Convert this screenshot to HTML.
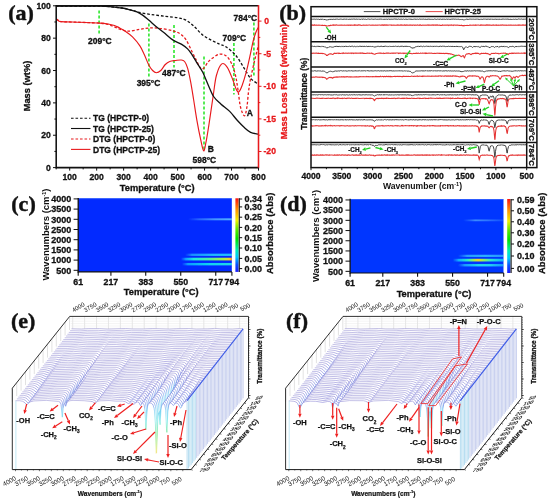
<!DOCTYPE html>
<html><head><meta charset="utf-8"><title>TG FTIR figure</title>
<style>html,body{margin:0;padding:0;background:#fff;}svg{display:block;}</style></head>
<body>
<svg width="550" height="503" viewBox="0 0 550 503" font-family="'Liberation Sans', Arial, sans-serif">
<defs><linearGradient id="cbar" x1="0" y1="1" x2="0" y2="0"><stop offset="0" stop-color="#1a1aff"/><stop offset="0.1" stop-color="#0a50ff"/><stop offset="0.2" stop-color="#00c8ff"/><stop offset="0.3" stop-color="#00f0b0"/><stop offset="0.45" stop-color="#00e000"/><stop offset="0.58" stop-color="#60e800"/><stop offset="0.7" stop-color="#f0f000"/><stop offset="0.85" stop-color="#ff9000"/><stop offset="1" stop-color="#ff1010"/></linearGradient><filter id="vblur" x="-0.05" y="-2" width="1.1" height="5"><feGaussianBlur stdDeviation="0.5 0.75"/></filter><linearGradient id="c3000" x1="0" y1="0" x2="1" y2="0"><stop offset="0" stop-color="#3a8aff" stop-opacity="0"/><stop offset="0.25" stop-color="#3a8aff" stop-opacity="0.6"/><stop offset="0.6" stop-color="#4aa0ff" stop-opacity="0.9"/><stop offset="1" stop-color="#50b0ff" stop-opacity="1"/></linearGradient><linearGradient id="c1260" x1="0" y1="0" x2="1" y2="0"><stop offset="0" stop-color="#2090ff" stop-opacity="0"/><stop offset="0.15" stop-color="#20a8ff" stop-opacity="0.8"/><stop offset="0.6" stop-color="#20b8ff" stop-opacity="1"/><stop offset="1" stop-color="#20c0ff" stop-opacity="1"/></linearGradient><linearGradient id="c1050" x1="0" y1="0" x2="1" y2="0"><stop offset="0" stop-color="#20a0ff" stop-opacity="0"/><stop offset="0.1" stop-color="#10c0ff" stop-opacity="0.8"/><stop offset="0.25" stop-color="#20e8e0" stop-opacity="1"/><stop offset="0.55" stop-color="#50f0a0" stop-opacity="1"/><stop offset="0.85" stop-color="#b0f040" stop-opacity="1"/><stop offset="0.95" stop-color="#f0d030" stop-opacity="1"/><stop offset="1" stop-color="#ff8020" stop-opacity="1"/></linearGradient><linearGradient id="c800" x1="0" y1="0" x2="1" y2="0"><stop offset="0" stop-color="#20a0ff" stop-opacity="0"/><stop offset="0.12" stop-color="#10b8ff" stop-opacity="0.8"/><stop offset="0.5" stop-color="#10d0f0" stop-opacity="1"/><stop offset="1" stop-color="#20d8e8" stop-opacity="1"/></linearGradient><linearGradient id="d3000" x1="0" y1="0" x2="1" y2="0"><stop offset="0" stop-color="#3a8aff" stop-opacity="0"/><stop offset="0.3" stop-color="#4aa0ff" stop-opacity="0.8"/><stop offset="0.6" stop-color="#4aa0ff" stop-opacity="0.6"/><stop offset="1" stop-color="#3a8aff" stop-opacity="0.3"/></linearGradient><linearGradient id="d1260" x1="0" y1="0" x2="1" y2="0"><stop offset="0" stop-color="#30a0ff" stop-opacity="0"/><stop offset="0.2" stop-color="#30b8ff" stop-opacity="0.8"/><stop offset="0.6" stop-color="#30c0ff" stop-opacity="0.9"/><stop offset="1" stop-color="#30b0ff" stop-opacity="0.8"/></linearGradient><linearGradient id="d1050" x1="0" y1="0" x2="1" y2="0"><stop offset="0" stop-color="#20a0ff" stop-opacity="0"/><stop offset="0.12" stop-color="#10c0ff" stop-opacity="0.9"/><stop offset="0.3" stop-color="#30f0c0" stop-opacity="1"/><stop offset="0.42" stop-color="#a0f050" stop-opacity="1"/><stop offset="0.5" stop-color="#f0d030" stop-opacity="1"/><stop offset="0.58" stop-color="#a0f050" stop-opacity="1"/><stop offset="0.75" stop-color="#30e8d0" stop-opacity="1"/><stop offset="1" stop-color="#10c0ff" stop-opacity="0.9"/></linearGradient><linearGradient id="d800" x1="0" y1="0" x2="1" y2="0"><stop offset="0" stop-color="#30a0ff" stop-opacity="0"/><stop offset="0.15" stop-color="#20b8ff" stop-opacity="0.8"/><stop offset="0.45" stop-color="#20d8f0" stop-opacity="1"/><stop offset="0.7" stop-color="#20d0f0" stop-opacity="1"/><stop offset="1" stop-color="#20b0ff" stop-opacity="0.8"/></linearGradient><linearGradient id="zg" gradientUnits="userSpaceOnUse" x1="0" y1="0" x2="0" y2="69"><stop offset="0" stop-color="#8e88d0"/><stop offset="0.025" stop-color="#6a64cc"/><stop offset="0.07" stop-color="#4a6ae0"/><stop offset="0.14" stop-color="#40b8f0"/><stop offset="0.3" stop-color="#50e0e0"/><stop offset="0.5" stop-color="#40e060"/><stop offset="0.72" stop-color="#e0e040"/><stop offset="0.93" stop-color="#ffa030"/><stop offset="0.975" stop-color="#b4b4e6"/></linearGradient></defs>
<rect width="550" height="503" fill="#fff"/>
<line x1="71" y1="118.2" x2="90.5" y2="118.2" stroke="#111" stroke-width="1.1" stroke-dasharray="2.6,1.9"/>
<line x1="71" y1="128.5" x2="90.5" y2="128.5" stroke="#111" stroke-width="1.1"/>
<line x1="71" y1="139.0" x2="90.5" y2="139.0" stroke="#e8191c" stroke-width="1.1" stroke-dasharray="2.6,1.9"/>
<line x1="71" y1="149.4" x2="90.5" y2="149.4" stroke="#e8191c" stroke-width="1.1"/>
<text x="93.00" y="121.30" font-size="8.5" font-weight="bold" fill="#111" stroke="#111" stroke-width="0.3">TG (HPCTP-0)</text>
<text x="93.00" y="131.60" font-size="8.5" font-weight="bold" fill="#111" stroke="#111" stroke-width="0.3">TG (HPCTP-25)</text>
<text x="93.00" y="142.10" font-size="8.5" font-weight="bold" fill="#111" stroke="#111" stroke-width="0.3">DTG (HPCTP-0)</text>
<text x="93.00" y="152.50" font-size="8.5" font-weight="bold" fill="#111" stroke="#111" stroke-width="0.3">DTG (HPCTP-25)</text>
<line x1="99.1" y1="10.4" x2="99.1" y2="35" stroke="#2ee62e" stroke-width="1.6" stroke-dasharray="3,2"/>
<line x1="148.9" y1="23.6" x2="148.9" y2="77" stroke="#2ee62e" stroke-width="1.6" stroke-dasharray="3,2"/>
<line x1="174" y1="25" x2="174" y2="67.5" stroke="#2ee62e" stroke-width="1.6" stroke-dasharray="3,2"/>
<line x1="204" y1="56.4" x2="204" y2="150.5" stroke="#2ee62e" stroke-width="1.6" stroke-dasharray="3,2"/>
<line x1="233.9" y1="43" x2="233.9" y2="94.5" stroke="#2ee62e" stroke-width="1.6" stroke-dasharray="3,2"/>
<line x1="253.9" y1="22.4" x2="253.9" y2="75.5" stroke="#2ee62e" stroke-width="1.6" stroke-dasharray="3,2"/>
<path d="M56.00,6.10 C63.33,6.12 89.03,5.88 100.00,6.20 C110.97,6.52 116.22,7.22 121.80,8.00 C127.38,8.78 130.58,10.17 133.50,10.90 C136.42,11.63 136.40,11.80 139.30,12.40 C142.20,13.00 146.53,13.85 150.90,14.50 C155.27,15.15 160.98,15.75 165.50,16.30 C170.02,16.85 174.58,17.15 178.00,17.80 C181.42,18.45 183.38,18.83 186.00,20.20 C188.62,21.57 190.93,23.55 193.70,26.00 C196.47,28.45 199.55,32.48 202.60,34.90 C205.65,37.32 209.10,38.93 212.00,40.50 C214.90,42.07 217.68,43.25 220.00,44.30 C222.32,45.35 223.32,45.02 225.90,46.80 C228.48,48.58 232.55,51.58 235.50,55.00 C238.45,58.42 241.10,63.43 243.60,67.30 C246.10,71.17 248.10,75.42 250.50,78.20 C252.90,80.98 256.75,83.03 258.00,84.00" fill="none" stroke="#111" stroke-width="1.3" stroke-dasharray="2.7,1.9"/>
<path d="M56.20,18.90 C56.58,19.18 57.70,20.15 58.50,20.60 C59.30,21.05 57.42,21.32 61.00,21.60 C64.58,21.88 73.58,22.05 80.00,22.30 C86.42,22.55 94.83,22.77 99.50,23.10 C104.17,23.43 105.50,23.67 108.00,24.30 C110.50,24.93 112.33,26.02 114.50,26.90 C116.67,27.78 118.57,28.88 121.00,29.60 C123.43,30.32 125.95,31.25 129.10,31.20 C132.25,31.15 136.60,29.83 139.90,29.30 C143.20,28.77 145.67,28.17 148.90,28.00 C152.13,27.83 155.33,27.85 159.30,28.30 C163.27,28.75 169.22,29.77 172.70,30.70 C176.18,31.63 177.97,32.37 180.20,33.90 C182.43,35.43 184.12,36.92 186.10,39.90 C188.08,42.88 190.35,48.32 192.10,51.80 C193.85,55.28 195.15,58.02 196.60,60.80 C198.05,63.58 199.57,67.30 200.80,68.50 C202.03,69.70 202.80,69.08 204.00,68.00 C205.20,66.92 206.62,63.62 208.00,62.00 C209.38,60.38 210.45,59.58 212.30,58.30 C214.15,57.02 216.83,54.73 219.10,54.30 C221.37,53.87 223.85,54.22 225.90,55.70 C227.95,57.18 229.80,59.90 231.40,63.20 C233.00,66.50 234.40,71.03 235.50,75.50 C236.60,79.97 237.17,84.75 238.00,90.00 C238.83,95.25 239.43,102.68 240.50,107.00 C241.57,111.32 243.33,115.90 244.40,115.90 C245.47,115.90 246.22,110.98 246.90,107.00 C247.58,103.02 247.90,96.67 248.50,92.00 C249.10,87.33 249.48,84.25 250.50,79.00 C251.52,73.75 253.28,66.08 254.60,60.50 C255.92,54.92 257.77,48.00 258.40,45.50" fill="none" stroke="#e8191c" stroke-width="1.3" stroke-dasharray="2.7,1.9"/>
<path d="M56.20,18.90 C56.58,19.18 57.70,20.15 58.50,20.60 C59.30,21.05 57.42,21.32 61.00,21.60 C64.58,21.88 73.58,22.05 80.00,22.30 C86.42,22.55 94.83,22.82 99.50,23.10 C104.17,23.38 105.50,23.60 108.00,24.00 C110.50,24.40 112.67,24.90 114.50,25.50 C116.33,26.10 117.25,26.68 119.00,27.60 C120.75,28.52 122.75,29.45 125.00,31.00 C127.25,32.55 130.02,34.42 132.50,36.90 C134.98,39.38 137.92,42.92 139.90,45.90 C141.88,48.88 142.90,51.57 144.40,54.80 C145.90,58.03 147.53,62.68 148.90,65.30 C150.27,67.92 151.37,69.27 152.60,70.50 C153.83,71.73 154.93,72.70 156.30,72.70 C157.67,72.70 159.30,71.87 160.80,70.50 C162.30,69.13 163.82,66.00 165.30,64.50 C166.78,63.00 167.97,62.17 169.70,61.50 C171.43,60.83 173.83,60.75 175.70,60.50 C177.57,60.25 179.42,59.83 180.90,60.00 C182.38,60.17 183.48,60.13 184.60,61.50 C185.72,62.87 186.60,64.83 187.60,68.20 C188.60,71.57 189.60,76.48 190.60,81.70 C191.60,86.92 192.55,93.07 193.60,99.50 C194.65,105.93 195.72,113.60 196.90,120.30 C198.08,127.00 199.58,134.62 200.70,139.70 C201.82,144.78 202.73,150.30 203.60,150.80 C204.47,151.30 205.02,147.03 205.90,142.70 C206.78,138.37 207.67,132.75 208.90,124.80 C210.13,116.85 212.05,103.22 213.30,95.00 C214.55,86.78 214.98,80.68 216.40,75.50 C217.82,70.32 219.98,65.27 221.80,63.90 C223.62,62.53 225.48,64.70 227.30,67.30 C229.12,69.90 231.20,75.80 232.70,79.50 C234.20,83.20 235.27,87.45 236.30,89.50 C237.33,91.55 237.90,92.55 238.90,91.80 C239.90,91.05 241.05,88.40 242.30,85.00 C243.55,81.60 245.03,76.63 246.40,71.40 C247.77,66.17 249.37,58.67 250.50,53.60 C251.63,48.53 252.28,44.60 253.20,41.00 C254.12,37.40 255.17,34.25 256.00,32.00 C256.83,29.75 257.83,28.25 258.20,27.50" fill="none" stroke="#e8191c" stroke-width="1.15"/>
<path d="M56.00,6.10 C63.33,6.12 89.03,5.88 100.00,6.20 C110.97,6.52 116.80,7.38 121.80,8.00 C126.80,8.62 127.47,9.25 130.00,9.90 C132.53,10.55 134.83,10.98 137.00,11.90 C139.17,12.82 141.00,14.00 143.00,15.40 C145.00,16.80 146.83,18.47 149.00,20.30 C151.17,22.13 153.53,24.37 156.00,26.40 C158.47,28.43 161.02,30.25 163.80,32.50 C166.58,34.75 169.72,37.92 172.70,39.90 C175.68,41.88 179.22,42.90 181.70,44.40 C184.18,45.90 185.87,47.17 187.60,48.90 C189.33,50.63 190.60,52.57 192.10,54.80 C193.60,57.03 194.85,59.43 196.60,62.30 C198.35,65.17 200.67,68.22 202.60,72.00 C204.53,75.78 206.37,80.92 208.20,85.00 C210.03,89.08 211.50,93.33 213.60,96.50 C215.70,99.67 218.12,101.52 220.80,104.00 C223.48,106.48 226.97,108.68 229.70,111.40 C232.43,114.12 234.72,117.57 237.20,120.30 C239.68,123.03 242.37,125.80 244.60,127.80 C246.83,129.80 248.37,131.25 250.60,132.30 C252.83,133.35 256.77,133.80 258.00,134.10" fill="none" stroke="#111" stroke-width="1.3"/>
<text x="99.90" y="43.80" font-size="8.5" font-weight="bold" fill="#111" stroke="#111" stroke-width="0.3" text-anchor="middle">209°C</text>
<text x="148.50" y="85.50" font-size="8.5" font-weight="bold" fill="#111" stroke="#111" stroke-width="0.3" text-anchor="middle">395°C</text>
<text x="173.90" y="75.80" font-size="8.5" font-weight="bold" fill="#111" stroke="#111" stroke-width="0.3" text-anchor="middle">487°C</text>
<text x="204.40" y="163.00" font-size="8.5" font-weight="bold" fill="#111" stroke="#111" stroke-width="0.3" text-anchor="middle">598°C</text>
<text x="234.40" y="40.70" font-size="8.5" font-weight="bold" fill="#111" stroke="#111" stroke-width="0.3" text-anchor="middle">709°C</text>
<text x="245.40" y="21.00" font-size="8.5" font-weight="bold" fill="#111" stroke="#111" stroke-width="0.3" text-anchor="middle">784°C</text>
<text x="249.90" y="115.80" font-size="8.5" font-weight="bold" fill="#111" stroke="#111" stroke-width="0.3" text-anchor="middle">A</text>
<text x="210.70" y="151.60" font-size="8.5" font-weight="bold" fill="#111" stroke="#111" stroke-width="0.3" text-anchor="middle">B</text>
<path d="M258.5,5.8 L56.2,5.8 L56.2,167.6 L258.5,167.6" fill="none" stroke="#111" stroke-width="1.55"/>
<line x1="258.5" y1="5.1" x2="258.5" y2="168.29999999999998" stroke="#e8191c" stroke-width="1.55"/>
<line x1="53.0" y1="167.60" x2="56.2" y2="167.60" stroke="#111" stroke-width="1"/>
<text x="50.80" y="170.70" font-size="8.6" font-weight="bold" fill="#111" stroke="#111" stroke-width="0.3" text-anchor="end">0</text>
<line x1="54.400000000000006" y1="151.42" x2="56.2" y2="151.42" stroke="#111" stroke-width="1"/>
<line x1="53.0" y1="135.24" x2="56.2" y2="135.24" stroke="#111" stroke-width="1"/>
<text x="50.80" y="138.34" font-size="8.6" font-weight="bold" fill="#111" stroke="#111" stroke-width="0.3" text-anchor="end">20</text>
<line x1="54.400000000000006" y1="119.06" x2="56.2" y2="119.06" stroke="#111" stroke-width="1"/>
<line x1="53.0" y1="102.88" x2="56.2" y2="102.88" stroke="#111" stroke-width="1"/>
<text x="50.80" y="105.98" font-size="8.6" font-weight="bold" fill="#111" stroke="#111" stroke-width="0.3" text-anchor="end">40</text>
<line x1="54.400000000000006" y1="86.70" x2="56.2" y2="86.70" stroke="#111" stroke-width="1"/>
<line x1="53.0" y1="70.52" x2="56.2" y2="70.52" stroke="#111" stroke-width="1"/>
<text x="50.80" y="73.62" font-size="8.6" font-weight="bold" fill="#111" stroke="#111" stroke-width="0.3" text-anchor="end">60</text>
<line x1="54.400000000000006" y1="54.34" x2="56.2" y2="54.34" stroke="#111" stroke-width="1"/>
<line x1="53.0" y1="38.16" x2="56.2" y2="38.16" stroke="#111" stroke-width="1"/>
<text x="50.80" y="41.26" font-size="8.6" font-weight="bold" fill="#111" stroke="#111" stroke-width="0.3" text-anchor="end">80</text>
<line x1="54.400000000000006" y1="21.98" x2="56.2" y2="21.98" stroke="#111" stroke-width="1"/>
<line x1="53.0" y1="5.80" x2="56.2" y2="5.80" stroke="#111" stroke-width="1"/>
<text x="50.80" y="8.90" font-size="8.6" font-weight="bold" fill="#111" stroke="#111" stroke-width="0.3" text-anchor="end">100</text>
<line x1="56.20" y1="167.6" x2="56.20" y2="169.4" stroke="#111" stroke-width="1"/>
<line x1="69.69" y1="167.6" x2="69.69" y2="170.6" stroke="#111" stroke-width="1"/>
<text x="69.69" y="180.30" font-size="8.6" font-weight="bold" fill="#111" stroke="#111" stroke-width="0.3" text-anchor="middle">100</text>
<line x1="83.17" y1="167.6" x2="83.17" y2="169.4" stroke="#111" stroke-width="1"/>
<line x1="96.66" y1="167.6" x2="96.66" y2="170.6" stroke="#111" stroke-width="1"/>
<text x="96.66" y="180.30" font-size="8.6" font-weight="bold" fill="#111" stroke="#111" stroke-width="0.3" text-anchor="middle">200</text>
<line x1="110.15" y1="167.6" x2="110.15" y2="169.4" stroke="#111" stroke-width="1"/>
<line x1="123.63" y1="167.6" x2="123.63" y2="170.6" stroke="#111" stroke-width="1"/>
<text x="123.63" y="180.30" font-size="8.6" font-weight="bold" fill="#111" stroke="#111" stroke-width="0.3" text-anchor="middle">300</text>
<line x1="137.12" y1="167.6" x2="137.12" y2="169.4" stroke="#111" stroke-width="1"/>
<line x1="150.61" y1="167.6" x2="150.61" y2="170.6" stroke="#111" stroke-width="1"/>
<text x="150.61" y="180.30" font-size="8.6" font-weight="bold" fill="#111" stroke="#111" stroke-width="0.3" text-anchor="middle">400</text>
<line x1="164.09" y1="167.6" x2="164.09" y2="169.4" stroke="#111" stroke-width="1"/>
<line x1="177.58" y1="167.6" x2="177.58" y2="170.6" stroke="#111" stroke-width="1"/>
<text x="177.58" y="180.30" font-size="8.6" font-weight="bold" fill="#111" stroke="#111" stroke-width="0.3" text-anchor="middle">500</text>
<line x1="191.07" y1="167.6" x2="191.07" y2="169.4" stroke="#111" stroke-width="1"/>
<line x1="204.55" y1="167.6" x2="204.55" y2="170.6" stroke="#111" stroke-width="1"/>
<text x="204.55" y="180.30" font-size="8.6" font-weight="bold" fill="#111" stroke="#111" stroke-width="0.3" text-anchor="middle">600</text>
<line x1="218.04" y1="167.6" x2="218.04" y2="169.4" stroke="#111" stroke-width="1"/>
<line x1="231.53" y1="167.6" x2="231.53" y2="170.6" stroke="#111" stroke-width="1"/>
<text x="231.53" y="180.30" font-size="8.6" font-weight="bold" fill="#111" stroke="#111" stroke-width="0.3" text-anchor="middle">700</text>
<line x1="245.01" y1="167.6" x2="245.01" y2="169.4" stroke="#111" stroke-width="1"/>
<line x1="258.50" y1="167.6" x2="258.50" y2="170.6" stroke="#111" stroke-width="1"/>
<text x="258.50" y="180.30" font-size="8.6" font-weight="bold" fill="#111" stroke="#111" stroke-width="0.3" text-anchor="middle">800</text>
<line x1="258.5" y1="21.10" x2="261.5" y2="21.10" stroke="#e8191c" stroke-width="1"/>
<text x="264.30" y="24.00" font-size="8.6" font-weight="bold" fill="#e8191c" stroke="#e8191c" stroke-width="0.3">0</text>
<line x1="258.5" y1="37.40" x2="260.3" y2="37.40" stroke="#e8191c" stroke-width="1"/>
<line x1="258.5" y1="53.70" x2="261.5" y2="53.70" stroke="#e8191c" stroke-width="1"/>
<text x="263.50" y="56.60" font-size="8.6" font-weight="bold" fill="#e8191c" stroke="#e8191c" stroke-width="0.3">-5</text>
<line x1="258.5" y1="70.00" x2="260.3" y2="70.00" stroke="#e8191c" stroke-width="1"/>
<line x1="258.5" y1="86.30" x2="261.5" y2="86.30" stroke="#e8191c" stroke-width="1"/>
<text x="263.50" y="89.20" font-size="8.6" font-weight="bold" fill="#e8191c" stroke="#e8191c" stroke-width="0.3">-10</text>
<line x1="258.5" y1="102.60" x2="260.3" y2="102.60" stroke="#e8191c" stroke-width="1"/>
<line x1="258.5" y1="118.90" x2="261.5" y2="118.90" stroke="#e8191c" stroke-width="1"/>
<text x="263.50" y="121.80" font-size="8.6" font-weight="bold" fill="#e8191c" stroke="#e8191c" stroke-width="0.3">-15</text>
<line x1="258.5" y1="135.20" x2="260.3" y2="135.20" stroke="#e8191c" stroke-width="1"/>
<line x1="258.5" y1="151.50" x2="261.5" y2="151.50" stroke="#e8191c" stroke-width="1"/>
<text x="263.50" y="154.40" font-size="8.6" font-weight="bold" fill="#e8191c" stroke="#e8191c" stroke-width="0.3">-20</text>
<text x="157.20" y="191.40" font-size="9.3" font-weight="bold" fill="#111" stroke="#111" stroke-width="0.3" text-anchor="middle">Temperature (°C)</text>
<text transform="translate(26.50,86.00) rotate(-90)" x="0" y="3.35" font-size="9.3" font-weight="bold" fill="#111" stroke="#111" stroke-width="0.3" text-anchor="middle">Mass (wt%)</text>
<text transform="translate(283.60,81.60) rotate(-90)" x="0" y="3.31" font-size="9.2" font-weight="bold" fill="#e8191c" stroke="#e8191c" stroke-width="0.3" text-anchor="middle">Mass Loss Rate (wt%/min)</text>
<text x="8.2" y="19.6" font-family="Liberation Serif, serif" font-weight="bold" font-size="22" fill="#111" stroke="#111" stroke-width="0.45">(a)</text>
<polyline points="311.0,19.1 312.5,19.3 312.8,19.0 313.2,19.2 314.0,19.1 314.7,19.2 315.1,19.5 315.4,19.3 316.2,19.3 316.5,19.1 317.3,19.3 318.8,19.1 319.1,19.4 319.9,19.6 320.2,19.2 322.1,19.4 322.8,19.2 323.2,19.5 323.6,19.3 323.9,19.6 325.1,19.4 325.8,19.8 326.9,20.0 327.3,19.8 327.6,19.9 329.5,19.4 331.3,19.3 332.1,19.5 333.2,19.2 334.3,19.4 336.5,19.1 336.9,19.3 337.3,19.1 338.4,19.4 339.1,19.2 339.8,19.3 340.6,19.1 341.3,19.3 341.7,19.1 342.4,19.4 344.3,19.1 345.4,19.3 345.8,19.1 346.9,19.2 347.2,18.9 347.6,19.3 348.0,19.2 348.7,19.4 349.1,19.2 350.9,19.3 351.7,19.1 352.8,19.2 353.5,19.0 353.9,19.2 355.0,19.0 355.7,19.3 356.1,19.1 357.2,19.1 357.6,19.3 358.0,19.1 358.3,19.3 358.7,18.9 359.4,19.3 360.2,19.0 360.5,19.5 361.3,19.2 361.7,18.9 362.0,19.3 363.5,19.0 364.6,19.3 365.7,19.2 366.5,19.5 367.2,19.0 367.6,19.2 368.3,19.1 368.7,19.0 369.1,19.3 370.2,19.1 370.5,19.3 371.6,19.0 372.4,19.3 372.8,19.1 373.1,19.3 374.6,19.2 375.0,19.3 375.7,19.0 376.4,19.4 376.8,19.1 377.9,19.3 378.3,19.1 378.7,19.4 379.0,19.1 380.1,19.2 380.9,19.0 381.3,19.2 381.6,19.1 382.0,19.3 382.4,18.9 382.7,19.4 383.1,19.2 383.5,19.4 385.0,19.2 385.3,19.3 386.1,19.0 386.8,19.3 387.9,19.3 388.3,18.9 389.0,19.4 390.1,19.1 390.9,19.4 391.2,19.2 392.3,19.3 393.1,19.0 393.8,19.2 394.2,18.9 394.9,19.2 396.0,19.0 397.2,19.3 397.9,19.3 398.3,19.0 399.7,19.3 400.1,19.1 400.9,19.3 401.2,19.1 402.3,19.4 403.1,19.0 403.4,19.1 403.8,18.9 404.2,19.3 404.6,19.4 405.7,19.1 407.5,19.4 407.9,19.3 408.2,19.4 408.6,18.9 409.4,19.2 409.7,19.1 412.7,19.4 413.1,19.2 413.4,19.3 414.5,19.1 416.4,19.3 417.1,19.1 417.5,19.2 417.9,19.0 418.6,19.4 419.0,19.1 419.7,19.0 420.1,19.2 421.6,19.2 421.9,19.4 422.7,19.2 423.0,19.3 423.8,19.0 424.2,19.1 424.5,19.4 424.9,19.1 426.7,19.4 428.2,19.1 430.8,19.3 431.2,19.1 431.5,19.4 432.3,19.4 433.0,19.1 433.4,19.4 434.5,19.0 434.9,19.0 435.2,19.2 436.0,19.1 436.4,19.4 437.5,19.1 438.2,19.1 438.6,19.3 440.4,19.2 440.8,18.9 441.2,19.3 441.9,19.3 443.0,19.1 443.4,19.3 443.7,19.1 444.1,19.3 444.9,19.1 445.6,19.4 446.3,19.0 446.7,19.2 448.2,19.3 448.6,19.1 449.3,19.3 451.1,19.3 451.9,19.0 453.0,19.2 453.7,19.0 454.1,19.2 455.6,19.1 456.3,19.3 457.1,19.1 457.4,19.3 457.8,19.2 458.9,19.2 459.3,19.5 459.6,19.4 460.4,19.5 461.1,19.2 461.5,19.5 461.9,19.6 462.2,19.4 463.0,19.8 463.7,19.8 464.1,19.6 464.5,19.8 465.2,19.7 465.6,19.4 465.9,19.5 466.3,19.2 468.5,19.4 469.3,19.1 470.0,19.4 470.7,19.1 471.1,19.4 471.9,19.0 472.2,19.2 472.6,19.2 473.0,19.5 473.7,19.1 474.4,19.4 474.8,19.0 475.9,19.3 476.7,19.1 477.4,19.2 477.8,19.0 479.2,19.5 480.4,19.0 480.7,19.4 481.1,19.1 481.8,19.3 482.2,19.1 482.6,19.6 482.9,19.1 483.3,19.0 484.1,19.3 484.4,19.1 485.2,19.3 485.5,19.0 485.9,19.3 488.5,19.1 488.9,19.3 491.1,19.1 491.4,19.2 491.8,19.0 492.2,19.4 492.9,19.0 493.7,19.4 494.8,19.2 495.1,19.0 495.9,19.3 497.4,19.3 498.1,19.0 498.8,19.5 500.0,19.0 500.3,19.3 500.7,19.1 501.1,19.6 501.8,19.1 503.7,19.1 504.4,19.3 504.8,19.1 505.5,19.2 505.9,18.9 506.2,19.2 507.0,19.0 509.6,19.4 511.0,19.2 511.8,19.5 512.2,19.1 512.5,19.4 513.3,19.2 514.4,19.4 515.9,19.0 516.2,19.3 517.3,19.4 518.8,18.9 519.2,19.2 519.6,19.0 519.9,19.2 520.3,19.1 520.7,19.3 521.4,19.0 522.5,19.3 524.4,19.1 524.7,19.3 525.5,19.1 526.6,19.5" fill="none" stroke="#3a3a3a" stroke-width="0.95"/>
<polyline points="311.0,25.3 311.4,25.0 311.7,25.1 312.1,24.9 313.2,25.3 313.6,25.0 314.3,25.1 314.7,24.8 315.1,25.3 316.5,25.1 317.7,25.2 318.4,25.0 318.8,25.2 319.1,25.2 319.5,25.0 319.9,25.3 321.0,25.2 321.7,25.4 322.1,25.2 322.5,25.4 322.8,25.3 323.6,25.5 324.7,25.4 326.9,26.1 327.3,25.9 328.4,25.8 328.7,25.5 329.9,25.6 330.6,25.2 331.0,25.4 332.8,25.1 333.2,24.8 333.6,25.3 334.3,25.1 336.1,25.1 336.5,24.8 337.6,25.3 341.7,25.0 343.2,25.3 344.6,25.0 345.0,25.2 348.0,25.1 348.3,25.3 349.1,25.0 350.6,25.3 350.9,24.9 351.3,25.2 352.0,25.1 352.8,25.2 353.9,25.1 354.3,25.3 354.6,24.9 355.0,25.3 355.4,24.9 355.7,25.2 356.9,25.0 357.6,25.3 358.3,24.8 358.7,25.1 359.1,24.8 359.8,25.1 360.5,25.0 361.3,25.4 363.5,25.0 365.0,25.3 366.8,25.0 367.6,25.3 369.1,25.0 369.8,25.0 370.2,25.2 372.8,25.1 374.6,25.3 375.3,25.1 376.4,25.2 376.8,25.1 377.2,25.2 377.6,25.0 377.9,25.2 379.0,25.0 379.8,25.0 380.1,25.3 382.4,24.9 383.5,25.4 383.8,24.9 386.4,25.1 386.8,24.9 388.3,25.2 388.7,25.0 390.5,25.1 390.9,25.2 391.2,25.0 391.6,25.3 392.0,25.0 393.1,25.3 393.5,25.1 396.0,25.2 397.9,24.9 398.3,25.2 398.6,25.2 399.0,25.0 399.7,25.2 400.9,24.9 403.4,25.3 404.6,24.9 405.7,25.3 406.0,25.0 406.4,25.1 406.8,24.9 407.5,25.2 407.9,25.0 409.0,25.2 410.1,24.9 410.8,25.2 411.6,25.0 412.3,25.3 412.7,25.0 413.1,25.1 413.8,25.0 414.2,25.0 414.5,25.3 415.6,25.0 416.8,25.2 417.5,24.8 417.9,25.2 418.2,25.3 419.0,25.2 419.3,24.9 419.7,25.3 420.5,24.9 421.6,25.4 422.7,25.0 424.5,25.3 424.9,25.0 426.4,25.3 426.7,25.0 427.5,25.2 427.8,24.9 428.6,25.3 429.0,24.9 429.3,25.3 431.2,25.0 431.9,25.2 432.3,24.9 433.0,25.3 433.8,24.9 434.1,25.3 434.5,25.0 435.2,25.1 435.6,25.3 436.0,24.9 436.4,25.1 437.1,24.9 438.6,25.3 439.7,25.0 440.1,25.3 440.4,25.2 441.9,25.4 442.3,24.9 443.7,25.2 444.5,25.0 444.9,25.3 445.2,25.3 445.6,25.1 446.7,25.2 447.1,24.9 448.2,25.5 448.6,25.1 449.3,25.3 449.7,25.1 450.4,25.1 450.8,25.2 451.5,24.9 451.9,25.2 453.4,25.0 453.7,25.4 454.1,25.0 454.5,25.0 455.2,25.3 456.0,25.1 457.1,25.3 457.4,25.1 458.5,25.2 458.9,25.5 459.6,25.2 461.1,25.5 461.5,25.2 462.2,25.6 463.0,25.6 463.3,25.8 463.7,25.6 464.1,25.9 464.8,25.3 465.2,25.5 466.7,25.4 467.0,25.2 468.5,25.4 469.3,25.3 469.6,25.1 470.0,25.3 470.4,25.1 471.5,25.3 473.7,25.0 475.2,25.3 475.5,24.9 475.9,25.1 476.3,25.0 477.0,25.2 477.8,25.1 478.1,24.9 478.5,24.9 478.9,25.2 480.0,25.2 480.4,25.4 480.7,25.0 481.1,25.2 481.8,24.9 482.9,25.2 483.7,25.0 484.4,25.2 484.8,25.1 485.2,25.3 485.5,25.0 486.3,25.2 486.6,24.9 488.9,25.1 489.2,24.9 490.0,25.2 490.7,25.0 491.8,25.4 492.2,25.0 492.9,25.2 493.3,24.9 494.0,25.2 495.5,25.1 496.3,25.3 496.6,24.9 498.1,25.4 498.5,25.0 500.0,25.3 500.3,25.0 502.2,25.1 502.9,24.8 503.3,25.3 504.4,25.1 504.8,25.2 505.5,25.1 506.2,25.4 506.6,25.1 507.3,25.2 508.8,25.0 509.2,25.2 509.9,25.0 510.3,25.1 511.0,25.1 512.9,25.3 513.3,25.1 513.6,25.3 514.0,25.2 514.4,25.3 515.1,25.1 517.0,25.2 517.7,25.1 518.4,25.3 518.8,24.9 519.9,25.1 520.3,25.0 521.0,25.2 522.9,24.9 523.2,25.2 523.6,25.0 524.0,25.0 524.4,25.3 524.7,25.3 525.1,24.9 526.2,25.3 526.6,24.9" fill="none" stroke="#e53333" stroke-width="1.05"/>
<polyline points="311.0,46.2 311.7,46.5 312.5,46.2 313.6,46.5 314.0,46.2 315.4,46.6 316.5,46.4 316.9,46.7 317.3,46.4 318.0,46.3 320.6,46.6 321.4,46.3 321.7,46.6 322.1,46.3 322.5,46.5 322.8,46.4 323.9,46.7 324.3,47.1 324.7,46.8 325.1,47.1 325.4,47.0 326.2,47.6 326.9,47.9 328.0,47.6 328.4,47.2 328.7,47.3 329.1,46.9 330.2,46.9 330.6,46.7 331.7,47.1 332.4,47.2 333.9,47.0 334.3,46.6 336.9,46.3 338.0,46.6 339.8,46.4 340.6,46.6 341.3,46.3 341.7,46.6 342.1,46.4 342.8,46.5 343.2,46.3 343.5,46.7 345.4,46.3 347.6,46.5 348.0,46.3 348.7,46.5 349.5,46.2 350.9,46.6 351.3,46.3 352.0,46.5 352.8,46.1 353.5,46.7 354.3,46.3 355.0,46.4 355.4,46.7 356.1,46.4 356.5,46.6 356.9,46.4 357.2,46.6 357.6,46.3 358.7,46.6 359.8,46.2 362.0,46.5 362.8,46.3 363.9,46.5 365.0,46.2 365.4,46.6 366.8,46.2 367.9,46.7 369.1,46.1 369.4,46.6 370.2,46.2 370.5,46.5 370.9,46.3 371.3,46.9 371.6,46.6 372.8,46.4 373.1,46.7 373.5,46.7 373.9,47.1 374.2,46.9 375.0,47.2 376.1,46.5 376.4,46.7 377.2,46.4 378.3,46.3 379.8,46.7 380.1,46.4 382.0,46.2 382.7,46.6 385.7,46.2 386.4,46.4 387.2,46.3 387.5,46.6 387.9,46.4 388.7,46.5 389.4,46.1 389.8,46.5 390.1,46.3 390.5,46.5 391.6,46.5 392.0,46.1 392.3,46.5 393.1,46.3 394.6,46.5 394.9,46.2 395.3,46.3 395.7,46.1 396.4,46.5 396.8,46.3 397.9,46.5 398.3,46.3 399.0,46.3 399.4,46.6 400.1,46.4 402.3,46.2 403.1,46.6 404.2,46.4 407.1,46.3 407.9,46.6 408.2,46.2 408.6,46.5 409.4,46.5 410.8,47.0 411.9,48.3 413.1,47.7 414.2,48.1 414.9,47.2 415.3,47.1 415.6,46.7 416.4,46.7 416.8,46.4 417.1,46.3 418.2,46.6 418.6,46.3 419.0,46.6 420.8,46.2 421.6,46.3 422.7,46.7 423.4,46.2 424.2,46.3 424.5,46.6 425.3,46.3 425.6,46.5 426.0,46.5 426.4,46.2 427.8,46.4 429.3,46.3 429.7,46.6 430.8,46.2 431.5,46.5 431.9,46.2 432.3,46.5 432.7,46.3 434.1,46.5 434.5,46.3 434.9,46.6 435.2,46.3 436.0,46.5 436.4,46.3 437.5,46.5 437.8,46.2 438.6,46.6 440.4,46.2 441.9,46.5 442.6,46.2 443.0,46.5 443.4,46.3 444.9,46.3 445.6,46.6 446.0,46.3 446.7,46.5 447.8,46.5 448.2,46.1 449.7,46.5 450.4,46.4 451.9,46.5 453.0,46.3 453.4,46.5 455.6,46.5 456.0,46.3 458.5,46.6 458.9,46.4 459.6,46.6 460.0,46.4 460.4,46.6 461.5,46.4 461.9,46.8 462.6,47.1 463.7,49.8 464.8,47.5 465.6,47.0 466.7,46.9 467.4,47.6 469.6,46.3 470.0,46.6 470.7,46.4 471.1,46.6 471.5,46.5 472.2,47.3 472.6,47.4 473.7,46.5 475.9,46.7 476.3,46.1 476.7,46.5 477.0,46.4 477.4,46.8 478.1,46.3 478.5,46.7 478.9,46.7 479.2,47.1 480.0,47.5 481.5,46.3 482.2,46.6 482.9,46.3 484.8,46.6 485.2,46.3 485.9,46.2 487.4,46.5 487.8,46.8 488.1,46.7 488.5,46.9 488.9,47.4 490.0,47.7 490.3,47.2 490.7,47.2 491.1,46.7 491.8,46.5 492.2,46.6 492.6,46.5 493.7,46.7 494.4,47.4 494.8,47.4 495.5,46.6 496.3,46.9 496.6,46.5 497.0,46.4 498.1,46.6 498.8,47.4 500.0,46.4 500.3,46.6 501.1,46.3 502.2,46.6 504.0,46.4 504.4,46.7 504.8,46.3 505.5,46.6 505.9,46.4 506.2,46.7 506.6,46.6 507.3,46.8 508.5,47.6 509.2,46.8 510.7,46.5 511.4,46.6 512.2,46.3 513.6,46.6 514.4,47.2 514.7,47.2 515.1,46.7 515.9,46.5 517.0,46.6 517.3,46.2 517.7,46.6 518.4,46.4 518.8,46.7 519.2,46.4 519.6,46.6 520.3,46.3 521.0,46.5 521.8,46.1 522.1,46.3 522.9,46.2 523.2,46.6 523.6,46.3 526.6,46.4" fill="none" stroke="#3a3a3a" stroke-width="0.95"/>
<polyline points="311.0,53.3 311.4,53.4 312.1,53.1 312.8,53.4 313.6,53.1 314.7,53.3 316.5,53.1 317.7,53.4 318.0,53.2 318.4,53.4 318.8,53.1 319.1,53.4 321.0,53.3 322.5,53.6 322.8,53.3 325.4,54.2 326.2,54.9 326.5,55.5 327.3,55.5 328.4,54.5 329.9,53.8 330.2,54.0 330.6,53.7 331.0,53.8 331.3,54.0 331.7,54.0 332.4,54.5 333.2,54.2 334.3,53.2 335.0,53.5 335.4,53.2 336.5,53.5 336.9,53.1 338.0,53.3 338.4,53.1 338.7,53.5 339.1,53.2 339.5,53.4 339.8,53.2 340.6,53.4 342.4,53.0 342.8,53.5 343.2,53.0 343.5,52.9 343.9,53.4 344.6,53.2 345.0,53.3 345.4,53.1 346.1,53.3 346.9,53.1 347.2,53.4 348.3,53.1 349.8,53.3 350.2,53.1 351.3,53.2 351.7,53.5 352.0,53.0 352.4,53.2 352.8,53.1 353.5,53.5 353.9,53.0 355.4,53.3 355.7,53.0 356.1,53.3 356.5,53.1 357.2,53.3 358.0,53.1 359.1,53.2 360.2,52.9 360.5,53.3 361.3,53.0 362.4,53.1 362.8,52.9 363.1,53.4 363.9,53.2 366.1,53.4 366.5,53.2 367.2,53.1 369.1,53.3 369.4,53.1 369.8,53.4 371.3,53.1 371.6,53.4 372.0,53.2 372.4,53.6 372.8,53.5 374.2,54.3 375.0,54.2 376.1,53.5 376.8,53.5 377.6,53.2 378.3,53.3 379.0,53.1 379.8,53.2 380.1,52.9 380.9,53.4 381.3,53.1 382.0,53.4 383.5,53.0 383.8,53.5 384.2,53.2 385.0,53.4 386.1,53.1 388.7,53.1 389.4,53.3 390.1,53.2 390.5,53.4 391.2,53.0 392.0,53.2 392.3,53.1 392.7,53.3 393.1,53.0 393.5,53.0 393.8,53.3 394.6,53.0 395.3,53.3 395.7,53.1 397.9,53.0 398.6,53.5 399.0,53.1 399.7,53.3 400.1,52.9 400.5,53.2 401.6,53.3 403.4,53.1 403.8,53.5 404.6,53.1 404.9,53.4 406.0,53.1 406.8,53.4 407.5,53.1 407.9,53.3 408.6,53.2 409.0,53.5 410.8,53.4 411.6,53.8 412.7,53.7 413.8,53.3 414.9,53.5 415.6,53.3 416.0,53.4 416.4,53.1 416.8,53.4 417.1,53.2 417.5,53.4 418.6,53.1 419.0,53.4 420.1,53.3 420.5,53.0 420.8,53.3 421.9,53.3 422.3,53.0 423.8,53.3 424.2,53.1 424.9,53.3 425.3,53.0 425.6,53.4 426.0,53.1 426.4,53.4 426.7,53.2 427.1,53.4 428.2,53.0 428.6,53.2 429.3,53.3 429.7,53.1 430.8,53.3 431.2,53.1 431.9,53.3 432.3,53.2 432.7,53.4 434.9,53.2 436.0,53.4 437.1,53.1 438.2,53.4 438.9,53.1 439.3,53.4 440.1,53.2 440.4,53.5 441.9,53.3 442.3,53.5 443.7,53.3 444.5,53.6 445.2,53.2 446.3,53.5 446.7,53.3 447.1,53.3 447.8,53.7 448.2,53.6 448.6,53.9 448.9,53.6 450.0,53.8 450.4,54.1 450.8,53.8 451.9,54.2 452.3,54.5 452.6,54.5 453.4,54.8 453.7,55.1 454.5,55.3 454.8,55.2 455.2,55.6 455.6,55.5 456.0,55.7 457.1,55.6 457.8,55.2 458.9,55.1 460.0,55.7 461.1,56.7 461.9,56.5 462.2,56.0 463.3,55.6 464.1,57.4 464.5,57.8 465.6,54.9 466.3,54.1 467.0,53.8 467.8,54.0 468.5,53.5 469.3,53.7 469.6,53.6 470.0,54.0 471.1,54.6 471.5,54.4 472.2,53.6 473.3,53.6 474.1,53.2 474.8,53.4 475.2,53.2 475.5,53.5 475.9,53.2 476.3,53.4 476.7,53.2 477.0,53.5 477.4,53.2 478.1,53.5 478.5,53.3 479.6,54.2 480.4,54.0 480.7,53.6 481.1,53.6 481.5,53.2 481.8,53.5 483.7,53.2 485.2,53.4 485.5,53.2 486.6,53.6 487.0,53.4 487.4,53.7 487.8,53.6 490.0,54.8 490.7,54.1 491.8,53.4 492.9,53.5 494.0,53.2 494.8,53.4 495.5,53.1 497.0,53.5 498.1,53.4 498.8,53.9 500.0,53.5 500.7,53.5 501.1,53.2 502.9,53.3 503.7,53.1 504.4,53.3 505.5,53.1 505.9,53.4 506.6,53.6 507.0,53.5 508.1,54.5 508.5,54.3 509.2,53.4 509.9,53.2 510.7,53.4 511.4,53.1 511.8,53.5 512.2,53.1 512.5,53.4 513.3,53.2 513.6,53.4 514.0,53.1 515.5,53.2 515.9,53.4 516.2,53.2 517.0,53.0 517.7,53.3 518.8,53.0 519.2,53.3 521.0,53.2 521.4,53.0 521.8,53.2 522.5,53.3 523.2,53.1 523.6,53.2 524.0,53.0 524.4,53.4 524.7,53.0 525.1,53.3 525.5,53.1 526.6,53.1" fill="none" stroke="#e53333" stroke-width="1.05"/>
<polyline points="311.0,70.7 311.4,70.9 312.1,70.8 312.5,71.0 313.2,70.8 313.6,71.1 314.0,70.8 314.7,70.7 316.5,71.1 318.4,70.8 318.8,71.0 319.5,70.9 319.9,71.2 320.6,70.9 321.4,71.3 321.7,71.0 323.6,71.1 324.7,71.4 325.4,72.0 325.8,72.0 326.2,72.5 326.9,73.0 327.3,73.0 328.4,71.7 328.7,71.9 329.5,71.4 329.9,71.5 330.6,71.2 331.0,71.4 331.7,71.5 332.1,71.8 332.4,71.8 332.8,71.6 333.2,71.8 333.9,71.2 335.0,71.2 335.4,70.9 335.8,71.1 337.3,71.1 338.4,70.8 338.7,71.0 340.2,71.0 340.6,70.6 341.0,70.9 341.3,70.6 341.7,70.9 342.4,71.1 342.8,70.8 343.5,70.9 343.9,70.6 344.3,71.0 345.4,70.8 346.5,71.0 346.9,70.9 347.2,71.3 347.6,70.8 348.7,70.8 349.1,71.0 349.8,70.7 350.6,71.0 350.9,70.7 351.7,70.8 352.0,71.1 353.2,70.8 353.5,71.1 353.9,70.8 354.3,71.1 354.6,70.7 356.5,70.9 357.2,70.7 357.6,71.0 358.0,71.0 358.3,70.8 358.7,70.9 359.1,70.5 359.4,71.0 359.8,70.7 360.5,71.1 360.9,70.7 361.3,70.9 362.0,70.6 362.8,70.9 363.1,70.7 363.9,70.9 364.6,70.7 365.0,71.0 365.4,70.9 365.7,71.0 366.1,70.7 366.5,71.1 366.8,70.7 367.2,70.6 369.4,71.0 370.2,70.7 370.9,71.0 372.0,70.7 372.8,71.0 373.1,70.8 373.5,71.0 374.6,70.8 375.0,71.0 375.7,70.7 376.1,70.9 376.4,70.8 376.8,71.0 377.6,70.8 378.7,70.7 379.4,71.0 380.5,70.8 382.0,70.9 382.4,71.1 382.7,70.7 383.8,71.0 384.2,70.7 385.7,71.0 386.1,70.7 386.8,71.0 388.3,70.7 388.7,71.0 389.0,70.8 390.9,70.7 392.7,71.0 394.2,70.8 394.6,71.0 395.3,70.7 395.7,71.0 396.4,70.8 396.8,71.0 397.5,70.9 397.9,70.7 398.3,70.9 398.6,70.7 400.1,70.9 400.5,70.8 400.9,70.9 401.6,70.8 402.7,71.0 403.1,70.8 403.4,71.1 404.2,71.0 404.6,70.7 405.3,71.0 405.7,70.9 406.4,71.1 406.8,70.7 407.5,71.2 408.2,71.0 409.7,71.3 410.1,71.2 410.8,71.7 411.6,72.6 412.3,73.0 413.1,72.4 413.4,72.6 414.2,72.5 414.9,71.6 415.6,71.2 416.8,70.9 417.1,71.1 417.9,70.9 418.2,71.1 418.6,70.9 419.0,71.0 419.3,70.8 419.7,71.1 420.1,70.9 420.8,70.9 421.2,70.7 421.9,70.9 424.5,70.9 424.9,71.0 425.3,71.0 425.6,70.6 426.0,70.7 426.4,71.1 426.7,70.8 427.8,70.9 428.2,71.1 428.6,70.8 431.2,70.9 431.5,70.6 431.9,70.7 432.3,71.1 432.7,70.8 433.0,71.0 433.8,70.8 434.1,71.1 434.5,70.7 435.2,70.9 436.0,70.7 436.7,70.9 437.1,70.7 438.2,71.1 438.6,70.6 439.3,70.9 440.1,70.7 440.8,70.9 441.2,70.7 441.5,71.0 442.6,71.0 443.0,70.8 444.1,71.0 445.6,70.7 447.4,71.0 448.6,70.7 449.7,71.0 450.8,70.8 451.5,71.0 452.3,70.8 452.6,71.0 453.0,70.8 453.4,71.0 454.8,70.8 455.6,71.1 456.3,70.9 457.1,71.1 457.4,70.9 457.8,71.2 458.2,71.0 459.3,71.0 461.1,71.6 462.2,71.7 463.0,71.3 463.7,71.4 464.5,71.0 465.2,70.9 467.0,71.1 467.8,70.7 468.2,71.1 469.6,70.8 470.4,71.0 472.2,70.9 473.3,71.0 473.7,70.8 474.1,71.0 474.4,70.7 475.9,71.0 476.3,70.7 476.7,71.0 477.4,70.8 478.1,71.1 478.9,70.7 480.0,71.1 481.1,70.9 481.8,71.2 482.2,70.9 482.9,71.2 483.3,71.6 484.4,71.8 484.8,71.8 485.5,71.1 486.3,71.2 486.6,70.8 487.8,71.0 488.1,70.8 489.2,70.9 490.0,70.6 491.1,71.0 491.8,70.7 492.6,70.9 493.3,70.7 494.8,70.9 496.6,70.9 497.4,71.1 497.7,71.0 498.8,71.4 499.2,71.0 500.0,71.6 501.1,71.2 501.8,71.1 502.2,70.8 502.5,71.0 503.7,70.8 504.0,70.9 505.1,70.8 505.5,71.0 506.2,70.8 506.6,70.9 507.0,70.8 507.3,70.8 507.7,70.6 508.5,71.0 508.8,70.9 509.2,71.0 510.7,71.0 511.0,71.4 511.4,71.2 512.2,71.3 513.3,71.1 514.4,71.0 514.7,70.8 515.1,71.1 515.9,70.6 516.2,71.0 516.6,70.9 517.3,71.1 517.7,70.8 518.4,70.7 519.2,70.9 519.9,70.9 520.3,70.6 521.0,71.0 522.1,70.7 522.5,70.9 522.9,70.7 523.2,71.1 523.6,70.8 524.4,70.7 525.1,71.0 525.5,70.8 526.6,71.0" fill="none" stroke="#3a3a3a" stroke-width="0.95"/>
<polyline points="311.0,77.2 311.4,77.1 311.7,77.6 312.1,77.2 313.6,77.1 314.7,77.2 315.4,76.9 316.2,77.0 316.5,76.9 317.7,77.2 318.0,77.0 319.1,77.2 319.5,77.0 319.9,77.3 320.2,77.1 320.6,77.3 321.7,77.0 322.5,77.5 322.8,77.2 323.2,77.5 323.9,77.3 324.7,77.7 325.1,77.6 326.2,78.5 326.5,79.1 326.9,79.1 327.6,78.7 328.0,78.2 329.5,77.4 329.9,77.6 330.2,77.4 330.6,77.6 331.0,77.4 332.1,77.7 332.4,78.2 333.2,77.6 333.6,77.6 333.9,77.2 334.3,77.4 335.0,77.1 336.1,77.1 336.9,76.9 338.0,77.1 338.7,77.0 339.1,76.8 340.6,76.9 341.3,76.7 341.7,77.0 342.4,76.8 342.8,77.0 343.5,76.7 344.3,77.1 345.0,76.7 345.4,76.9 346.1,76.8 346.5,76.9 346.9,76.6 347.2,76.6 347.6,76.7 348.0,77.0 349.1,76.8 349.8,77.0 350.2,76.7 350.9,77.1 351.7,76.8 352.8,76.9 355.4,76.7 356.1,77.0 356.5,76.7 356.9,76.9 358.0,76.7 358.7,76.9 359.1,76.6 359.4,76.9 360.2,76.6 360.9,76.8 362.4,76.7 362.8,76.8 363.1,76.6 363.5,76.8 366.1,76.7 366.8,76.4 367.2,76.7 368.7,76.5 369.1,76.9 370.2,76.5 370.5,76.8 371.3,76.8 372.4,76.5 372.8,76.8 373.1,76.5 374.6,76.7 375.7,76.4 376.1,76.7 376.8,76.4 377.2,76.7 377.9,76.5 380.1,76.6 380.5,76.2 380.9,76.5 381.6,76.7 382.7,76.3 383.5,76.8 384.6,76.3 385.0,76.6 385.7,76.6 386.1,76.5 386.4,76.2 387.2,76.6 388.7,76.3 389.0,76.8 389.8,76.4 390.1,76.7 390.5,76.4 392.3,76.7 393.1,76.5 394.2,76.5 394.6,76.3 395.7,76.6 396.0,76.3 396.8,76.5 397.5,76.2 398.3,76.5 398.6,76.4 399.0,76.7 399.7,76.3 401.2,76.4 402.0,76.8 403.4,76.2 403.8,76.4 404.9,76.3 405.7,76.5 406.4,76.2 407.1,76.5 408.2,76.2 409.0,76.4 410.5,76.4 411.6,76.1 413.1,76.4 413.4,76.2 414.2,76.4 414.9,76.0 415.6,76.4 416.8,76.0 417.1,76.4 417.5,76.0 418.6,76.5 419.7,76.1 421.6,76.4 421.9,76.1 422.3,76.4 422.7,76.0 423.0,76.5 423.4,76.1 426.4,76.2 427.5,76.0 428.2,76.2 428.6,76.0 429.0,76.3 430.1,76.0 430.4,76.2 431.2,76.4 431.5,76.1 434.9,76.2 435.2,75.9 435.6,76.2 436.4,76.1 437.1,76.3 437.8,76.1 438.2,76.3 438.9,75.8 439.3,76.0 440.4,75.9 440.8,76.2 441.2,76.1 441.5,76.3 441.9,76.0 442.6,76.0 443.7,76.3 444.5,76.0 444.9,76.2 445.2,75.9 446.0,76.0 446.3,76.3 446.7,76.0 447.1,75.9 447.8,76.2 448.9,75.9 449.7,76.2 450.4,75.9 451.5,76.2 452.3,75.9 452.6,76.2 453.0,75.9 454.5,76.0 454.8,76.2 455.6,75.9 456.3,76.3 457.1,76.0 457.4,76.3 458.2,76.4 459.6,77.0 460.0,76.8 460.4,76.8 460.8,76.3 461.1,76.6 461.5,76.3 462.2,76.0 462.6,76.3 463.0,76.1 463.3,76.2 464.1,76.2 464.5,76.6 465.2,76.8 466.3,78.3 467.8,76.5 468.2,76.2 468.5,76.3 469.3,75.9 469.6,76.1 470.0,75.9 471.5,76.0 471.9,76.1 472.2,75.8 472.6,76.1 473.0,75.9 474.1,76.0 474.8,75.9 475.9,76.0 476.3,76.3 477.0,76.1 477.4,76.3 478.1,76.3 478.9,76.8 480.0,79.1 480.4,78.9 481.1,77.3 481.8,76.8 482.6,76.9 483.3,78.0 484.4,83.0 485.5,78.1 485.9,77.3 487.0,76.3 488.1,76.2 488.9,77.1 489.2,77.2 490.0,76.2 490.7,75.7 491.1,76.0 491.8,75.9 492.2,75.6 492.6,75.8 494.4,75.8 495.1,76.0 495.5,75.6 496.3,76.0 497.4,76.1 497.7,76.4 498.5,76.7 500.0,79.3 500.7,78.4 501.8,76.1 502.2,76.3 502.9,75.9 503.7,75.9 504.0,75.7 504.4,75.9 504.8,75.6 505.1,75.8 506.2,75.6 506.6,75.8 507.0,75.5 507.7,75.9 508.1,75.7 508.8,75.8 509.2,75.5 510.7,76.4 512.2,79.2 513.3,77.0 513.6,76.8 514.0,76.9 514.7,78.1 515.1,78.2 515.5,77.3 516.2,76.5 516.6,76.3 517.3,76.6 517.7,77.4 518.1,77.5 519.6,75.9 520.3,75.7 521.8,75.5 522.1,75.2 522.5,75.5 522.9,75.3 523.2,75.6 524.4,75.5 524.7,75.2 525.1,75.4 525.5,75.3 525.8,75.6 526.2,75.2 526.6,75.7" fill="none" stroke="#e53333" stroke-width="1.05"/>
<polyline points="311.0,94.8 311.4,95.0 312.1,94.6 312.8,94.9 314.7,94.7 315.8,94.9 316.5,94.7 316.9,94.9 318.0,95.0 318.8,94.6 319.1,94.9 319.5,94.6 319.9,95.0 320.2,94.7 321.0,95.0 321.4,94.6 321.7,94.8 322.8,94.7 323.2,94.9 324.3,94.9 324.7,94.6 325.1,95.0 325.8,94.6 326.5,94.9 327.3,94.7 329.1,94.9 329.5,94.7 330.2,94.9 332.4,95.0 333.9,94.8 334.3,94.5 334.7,94.9 335.4,94.9 335.8,94.6 336.1,94.8 336.9,94.6 337.3,94.9 337.6,95.0 338.0,94.7 338.7,95.0 339.1,94.7 339.5,94.9 340.2,95.1 340.6,94.7 341.7,95.0 342.1,94.7 342.8,94.7 343.2,95.0 343.5,94.8 345.8,95.0 346.5,94.7 347.2,94.9 348.3,94.9 348.7,95.2 349.1,94.8 350.2,94.8 350.6,95.0 351.7,94.7 352.0,95.0 352.8,94.8 353.2,94.5 353.5,94.8 355.0,94.7 355.4,95.0 355.7,94.8 356.1,95.0 356.5,94.7 357.2,95.0 358.3,94.7 361.3,95.0 363.5,94.7 364.6,94.9 366.8,94.7 367.6,94.9 368.7,94.8 369.4,95.1 369.8,94.6 370.2,95.0 371.3,95.0 371.6,94.8 372.0,95.2 372.4,94.9 372.8,95.0 373.5,95.4 374.2,96.1 374.6,96.2 375.3,95.3 376.4,95.2 376.8,94.8 377.6,94.6 378.7,94.9 379.0,94.7 380.9,94.9 381.6,94.7 382.0,94.7 382.4,95.1 382.7,94.8 385.0,94.8 385.3,94.6 385.7,95.0 386.4,94.7 387.2,94.9 387.5,94.7 388.3,95.0 390.1,94.8 390.5,95.0 390.9,94.8 391.6,94.9 392.3,94.7 392.7,95.1 393.1,94.8 393.5,95.0 394.2,94.7 394.6,95.0 395.3,94.7 395.7,94.8 396.0,94.6 396.4,94.9 397.5,94.7 399.0,95.0 400.5,94.7 401.2,94.9 402.0,94.6 403.1,95.0 403.8,94.7 404.9,94.9 406.0,94.8 406.4,95.0 407.9,94.7 409.0,95.0 410.5,94.9 412.3,95.7 412.7,95.3 413.1,95.4 413.8,95.2 414.2,94.9 414.5,95.0 414.9,94.7 415.3,94.8 415.6,94.7 417.1,95.0 419.0,94.6 419.7,94.9 420.8,94.7 421.9,94.9 422.3,94.8 422.7,94.9 423.8,94.6 424.9,94.9 425.6,94.6 426.0,94.9 426.4,94.9 426.7,94.5 427.5,94.9 427.8,94.6 428.6,94.9 429.7,94.9 430.1,94.7 430.4,95.1 430.8,94.9 431.2,95.1 431.5,94.8 434.5,94.8 435.2,95.0 436.4,94.8 436.7,94.6 438.2,94.7 438.6,94.6 439.7,95.0 440.4,94.7 441.2,94.8 443.4,94.8 443.7,95.0 444.1,94.6 445.2,95.0 446.7,95.0 447.4,94.8 448.9,94.9 450.8,94.7 451.1,94.9 453.4,94.8 453.7,95.0 454.8,94.7 456.0,95.0 458.2,94.7 458.5,95.0 460.4,94.6 460.8,94.6 461.1,94.9 461.5,94.7 461.9,94.8 462.6,94.6 463.7,94.7 464.1,95.0 464.8,94.8 465.9,95.0 466.3,94.6 466.7,95.0 467.0,94.7 467.8,94.9 468.5,94.6 469.3,94.8 469.6,94.6 470.0,95.0 470.4,94.7 471.9,95.0 472.2,94.6 473.0,95.0 474.1,94.7 474.4,94.9 476.7,94.8 477.0,95.2 477.8,95.2 478.5,96.3 479.2,99.8 480.0,96.5 480.4,95.6 481.8,95.3 482.6,94.9 483.3,95.1 483.7,94.9 484.8,95.0 485.2,94.9 485.9,95.1 486.3,94.9 486.6,95.3 487.4,95.4 488.1,96.3 488.9,98.7 489.2,98.6 490.0,96.8 490.7,96.0 491.1,96.2 491.8,97.3 492.6,95.8 493.3,96.1 494.0,98.0 494.8,103.6 495.1,102.7 495.5,99.4 495.9,97.4 496.3,96.4 497.0,95.6 497.4,95.6 498.5,94.9 499.2,94.7 499.6,95.1 500.0,95.2 500.3,95.0 501.4,95.1 501.8,94.8 502.2,95.0 502.9,94.9 503.3,95.2 504.0,95.1 505.5,95.6 506.2,97.0 507.0,101.2 507.3,101.3 508.1,96.8 508.5,96.1 509.2,95.3 509.9,95.1 510.3,95.2 511.0,94.8 511.4,95.2 512.2,94.8 513.3,95.0 514.0,94.8 514.7,95.1 515.1,94.8 515.9,94.9 516.6,94.7 517.0,95.0 517.7,94.6 518.4,95.0 519.2,94.7 520.3,94.8 520.7,94.5 521.4,95.0 521.8,94.7 522.1,95.0 522.9,94.6 523.2,94.9 523.6,94.7 524.0,94.9 525.5,94.7 526.2,94.8 526.6,95.0" fill="none" stroke="#3a3a3a" stroke-width="0.95"/>
<polyline points="311.0,98.6 311.4,98.2 311.7,98.3 312.5,98.2 315.1,98.4 316.9,98.1 318.0,98.3 319.5,98.2 319.9,98.4 321.4,98.2 322.5,98.4 322.8,98.1 323.2,98.3 323.6,98.2 325.4,98.4 326.2,98.2 327.3,98.4 328.0,98.1 329.9,98.4 330.6,98.2 331.7,98.4 332.1,98.1 332.4,98.4 333.2,98.1 333.6,98.2 333.9,98.1 334.3,98.2 335.0,98.6 335.8,98.4 336.1,98.5 337.3,98.0 337.6,98.4 338.0,98.0 338.4,98.0 338.7,98.2 339.5,98.2 339.8,98.4 341.3,98.2 342.1,98.6 342.4,98.2 343.2,98.4 344.3,98.1 345.4,98.4 346.5,98.2 346.9,98.5 347.6,98.1 348.0,98.3 349.1,98.1 350.6,98.4 351.7,98.1 352.4,98.4 353.2,98.2 353.5,98.4 355.4,98.2 356.5,98.5 356.9,98.2 357.2,98.3 358.3,98.2 358.7,98.5 359.4,98.5 363.5,98.2 364.2,98.2 364.6,98.6 366.1,98.2 366.5,98.4 366.8,98.2 368.3,98.4 368.7,98.3 369.1,98.6 369.4,98.3 369.8,98.5 370.2,98.2 370.5,98.5 370.9,98.3 373.1,98.8 373.9,99.7 374.2,100.5 374.6,100.6 375.3,99.2 376.4,98.5 377.2,98.4 377.6,98.6 377.9,98.4 378.3,98.6 379.0,98.4 380.5,98.5 381.3,98.2 381.6,98.4 382.0,98.3 382.7,98.5 383.1,98.2 383.8,98.6 384.6,98.3 385.0,98.5 385.3,98.3 386.1,98.5 386.4,98.1 386.8,98.4 387.2,98.1 387.9,98.4 388.3,98.2 390.1,98.4 392.0,98.2 392.3,98.4 393.1,98.2 393.5,98.4 394.2,98.0 395.3,98.7 395.7,98.3 396.4,98.4 397.2,98.1 397.5,98.4 398.6,98.1 400.9,98.4 401.6,98.2 402.3,98.4 402.7,98.2 403.1,98.5 403.4,98.2 404.2,98.4 404.6,98.2 404.9,98.5 406.4,98.1 406.8,98.1 407.1,98.5 407.5,98.3 408.6,98.4 409.0,98.2 410.8,98.5 411.9,98.1 412.7,98.4 413.8,98.2 415.3,98.4 416.4,98.4 416.8,98.3 417.1,98.5 417.9,98.1 418.6,98.3 419.0,98.1 419.3,98.6 419.7,98.3 420.1,98.4 420.5,98.2 420.8,98.3 422.7,98.4 423.0,98.2 423.4,98.4 424.5,98.0 424.9,98.3 425.3,98.3 425.6,98.6 426.0,98.2 426.4,98.5 427.8,98.4 428.2,98.1 428.6,98.5 429.0,98.3 429.7,98.3 430.1,98.0 430.4,98.1 431.2,98.1 431.9,98.5 432.3,98.3 433.4,98.2 436.0,98.4 436.4,98.1 437.5,98.4 437.8,98.2 438.2,98.5 438.6,98.5 438.9,98.2 439.3,98.4 439.7,98.1 440.1,98.3 440.4,98.1 440.8,98.4 442.3,98.2 443.4,98.4 443.7,98.1 444.5,98.4 444.9,98.0 445.6,98.2 446.3,98.1 446.7,98.3 447.1,98.2 447.4,98.3 447.8,98.1 448.6,98.4 448.9,98.1 449.7,98.5 450.4,98.1 450.8,98.6 451.1,98.2 451.5,98.4 452.3,98.3 452.6,98.4 453.0,98.0 453.4,98.3 454.8,98.4 455.6,98.2 456.3,98.5 457.1,98.4 457.4,98.0 458.2,98.4 458.5,98.1 459.3,98.5 460.0,98.2 461.1,98.4 463.0,98.2 463.3,98.4 464.1,98.1 464.5,98.4 464.8,98.2 465.2,98.4 465.6,98.2 465.9,98.5 466.7,98.6 467.4,98.3 467.8,98.5 468.2,98.2 469.3,98.3 470.0,98.1 470.4,98.1 470.7,98.5 471.1,98.3 472.2,98.3 472.6,98.5 473.0,98.1 473.3,98.3 474.4,98.2 475.2,98.3 475.5,98.6 475.9,98.4 476.7,98.5 477.8,99.0 478.1,99.3 478.9,102.0 479.2,104.8 480.0,100.6 480.7,98.9 482.2,98.6 482.6,98.7 483.7,98.5 484.1,98.8 485.2,98.6 485.5,99.1 485.9,98.7 486.6,98.8 487.4,99.7 488.1,100.9 488.9,103.5 489.2,103.8 490.3,100.6 490.7,100.0 491.8,99.5 492.6,99.9 493.3,100.9 494.0,104.4 494.8,115.4 495.1,113.5 495.5,107.3 496.3,101.3 497.0,99.6 497.4,99.6 497.7,99.0 498.1,99.2 498.5,98.8 499.2,98.9 500.0,98.5 500.3,98.6 500.7,98.4 501.1,98.7 501.4,98.5 502.2,98.6 502.5,98.4 503.3,98.8 503.7,98.6 504.8,99.1 505.1,99.0 505.9,100.0 506.2,101.2 507.0,106.7 507.3,106.7 508.1,101.0 508.8,99.3 509.9,98.7 512.5,98.5 512.9,98.7 513.3,98.4 514.0,98.6 515.5,98.3 517.0,98.4 519.6,98.2 519.9,98.5 521.0,98.3 521.4,98.5 522.9,98.3 526.2,98.4 526.6,98.2" fill="none" stroke="#e53333" stroke-width="1.05"/>
<polyline points="311.0,119.9 312.1,119.5 312.8,119.9 313.6,119.6 314.3,120.0 314.7,119.6 315.1,119.9 316.5,119.7 317.3,120.0 317.7,119.7 318.4,119.6 319.5,119.9 321.7,119.8 322.1,119.9 322.8,119.6 325.8,119.9 326.2,119.7 327.6,120.0 328.0,119.7 331.3,119.8 331.7,119.6 332.1,119.8 332.4,119.7 333.6,119.8 334.7,119.7 335.4,120.0 335.8,119.6 336.1,119.8 337.3,119.6 337.6,120.0 339.1,119.7 339.5,119.9 341.7,119.7 343.5,119.9 344.3,119.7 344.6,120.1 345.0,119.7 346.9,119.9 347.6,119.7 348.3,119.9 350.2,119.6 350.9,120.0 351.7,119.6 352.0,119.8 353.2,119.9 354.3,119.7 354.6,119.9 355.0,119.7 355.7,120.1 356.1,119.7 358.0,120.0 359.1,119.6 359.4,119.8 359.8,119.6 360.2,119.9 361.3,119.7 362.4,119.9 365.0,119.6 365.4,120.0 366.1,119.7 366.5,119.9 367.2,119.8 367.9,120.0 368.3,119.7 368.7,120.0 369.8,119.8 370.2,120.0 370.5,120.0 370.9,119.5 371.3,120.0 371.6,120.0 372.0,119.8 373.5,120.3 374.2,121.3 374.6,121.3 375.3,120.3 375.7,120.3 376.1,119.9 376.8,119.8 377.2,120.2 377.6,119.9 377.9,120.0 378.3,119.8 379.4,119.8 379.8,120.1 380.1,119.8 380.5,120.0 380.9,119.7 381.6,119.9 382.0,119.6 382.4,120.0 383.1,119.8 383.5,120.0 384.6,119.5 385.3,119.8 385.7,119.5 386.1,119.9 386.4,119.9 387.2,119.6 387.9,119.6 388.7,119.9 389.0,119.8 390.1,119.9 390.9,119.7 391.2,119.9 393.5,119.7 393.8,120.0 395.7,119.6 397.2,119.8 397.9,119.6 398.3,119.8 399.0,119.7 399.4,119.9 399.7,119.7 400.1,119.9 400.5,119.6 400.9,119.8 401.2,119.7 401.6,119.9 402.3,119.7 403.8,120.0 404.2,119.7 404.6,120.0 404.9,119.7 405.7,119.6 406.0,119.8 406.4,119.6 406.8,119.8 407.1,119.6 407.5,120.0 409.7,119.8 410.1,119.6 411.2,119.9 411.6,119.6 412.7,119.9 413.8,119.6 414.2,120.0 416.4,119.7 417.1,120.0 420.1,119.7 420.5,119.8 420.8,119.6 421.2,120.0 423.4,119.6 425.3,120.0 425.6,119.6 426.0,119.6 426.4,120.0 427.8,119.8 428.2,120.0 429.3,119.7 430.1,119.9 431.9,119.7 433.0,120.0 433.4,119.7 436.4,119.8 436.7,119.6 437.5,120.0 437.8,119.7 438.9,119.9 439.7,119.7 440.1,120.0 440.4,119.5 441.2,119.7 441.5,119.5 441.9,119.9 442.3,120.0 442.6,119.6 443.7,119.9 445.2,119.8 446.0,120.0 447.1,119.8 447.8,120.0 448.9,119.7 449.3,119.9 449.7,119.7 450.4,120.1 450.8,119.8 451.1,120.0 451.5,119.8 452.3,119.9 453.0,119.5 453.4,119.8 453.7,119.7 454.5,120.0 455.2,119.6 455.6,119.8 456.3,119.5 456.7,120.0 457.4,119.5 457.8,119.8 459.6,119.9 461.1,119.7 461.5,119.9 462.6,119.7 463.3,119.9 464.1,119.5 464.5,119.9 464.8,119.7 465.2,119.9 467.0,119.6 467.8,119.8 468.5,119.5 469.3,120.1 469.6,119.7 470.7,119.7 471.1,120.0 471.5,119.6 471.9,119.8 472.2,119.7 473.0,120.0 473.7,119.8 474.1,120.0 474.8,119.6 475.2,120.0 475.5,119.8 476.3,120.2 477.0,120.0 477.4,120.2 477.8,120.0 478.1,120.2 478.5,120.7 479.2,123.4 480.0,121.3 480.7,120.2 481.1,120.0 482.2,119.9 482.6,120.3 484.1,119.7 484.4,120.1 484.8,119.9 485.2,120.1 485.9,119.9 487.4,120.5 488.1,121.4 488.9,124.2 489.2,124.5 490.0,121.7 490.3,121.0 491.8,120.2 492.9,120.7 494.0,122.3 494.8,127.7 495.1,126.7 495.9,121.9 496.6,120.6 498.5,120.0 499.2,120.2 499.6,119.9 500.3,120.2 500.7,119.8 501.1,119.8 501.8,120.0 504.4,120.0 505.1,120.3 505.9,120.6 506.2,121.1 507.0,123.8 507.3,123.9 508.1,121.2 508.8,120.2 509.2,120.0 509.6,120.2 509.9,119.9 510.3,120.2 511.0,119.7 511.4,119.7 511.8,119.8 512.2,120.2 512.5,119.6 512.9,119.6 514.0,120.1 514.7,119.7 515.1,120.0 515.9,119.7 516.2,119.9 517.7,119.7 519.2,119.9 519.6,119.6 519.9,119.9 521.0,119.8 521.4,119.9 522.5,119.9 522.9,119.6 523.6,119.9 525.8,119.6 526.6,119.9" fill="none" stroke="#3a3a3a" stroke-width="0.95"/>
<polyline points="311.0,125.7 311.4,125.6 312.1,126.2 312.5,125.8 314.3,125.9 315.4,125.6 315.8,125.9 316.2,125.8 316.9,125.5 317.3,125.7 318.4,125.7 318.8,126.1 320.2,125.7 321.0,125.9 321.4,125.7 322.1,126.0 322.5,125.6 323.2,126.0 324.7,125.6 325.1,125.9 325.4,125.4 325.8,125.8 326.5,125.8 326.9,125.5 327.3,125.9 328.4,125.8 328.7,125.6 329.5,125.8 329.9,125.8 330.2,125.4 330.6,125.8 331.3,125.6 332.1,126.0 332.4,125.8 332.8,126.0 333.2,125.7 333.9,125.8 334.7,125.6 335.0,125.8 335.8,125.9 336.1,125.7 336.9,125.8 338.4,125.7 338.7,125.8 339.1,125.6 339.8,126.1 341.0,125.6 342.4,125.8 343.5,125.8 344.3,126.0 344.6,125.7 346.1,125.9 347.2,125.6 348.3,125.9 349.8,125.7 350.2,125.9 350.6,125.8 350.9,126.0 352.0,125.7 352.4,125.8 353.2,125.7 353.9,126.0 354.3,125.9 354.6,126.0 355.4,125.6 356.1,126.0 357.2,125.7 359.1,125.8 359.4,125.7 361.7,125.7 362.0,126.0 362.4,125.8 363.1,125.7 364.6,126.0 365.0,125.7 365.4,126.0 365.7,125.8 366.8,125.9 367.6,125.6 367.9,125.9 369.4,125.9 369.8,126.2 370.2,125.7 370.9,125.8 371.3,126.1 372.0,125.9 373.5,126.4 374.2,128.5 374.6,128.6 375.3,126.8 375.7,126.3 376.1,126.1 378.7,125.7 379.0,125.9 379.4,125.8 380.1,126.0 380.9,125.8 381.6,125.8 382.0,125.5 382.4,125.9 382.7,125.7 383.1,125.9 383.5,125.7 385.0,126.0 385.3,125.7 385.7,125.7 386.1,126.0 386.8,125.7 387.5,125.8 388.3,125.6 389.4,126.0 390.9,125.6 392.0,125.9 392.3,125.6 392.7,125.9 393.5,126.0 396.0,125.6 396.8,125.9 397.2,125.7 397.5,125.9 397.9,125.7 398.3,125.8 398.6,125.7 399.0,125.9 400.9,125.9 401.6,125.5 402.0,125.8 402.3,125.9 402.7,125.5 403.1,125.9 405.7,125.6 406.0,125.8 407.5,125.7 408.6,125.7 409.0,126.0 409.4,125.6 410.8,125.8 411.2,125.6 411.6,125.8 411.9,125.5 412.7,125.7 413.1,125.6 413.4,126.0 414.2,125.6 414.5,125.8 415.6,125.7 416.4,126.1 416.8,125.8 417.1,126.1 417.5,125.6 418.2,125.8 418.6,125.7 419.3,126.0 419.7,125.7 420.1,125.8 420.8,125.6 421.2,125.8 421.6,125.6 422.3,126.0 423.8,125.7 424.2,126.0 424.5,125.8 427.1,125.9 427.5,125.6 429.3,126.0 429.7,125.5 430.1,126.0 430.4,125.7 431.9,125.8 432.3,125.6 432.7,125.6 433.0,125.9 433.8,125.5 434.9,126.0 435.2,125.7 437.5,126.0 437.8,125.8 438.2,126.0 438.6,125.8 439.7,126.0 440.1,125.7 440.4,126.1 440.8,125.5 442.3,126.0 442.6,125.6 443.7,126.0 444.1,125.6 444.9,125.9 445.2,125.9 445.6,125.6 446.0,125.8 447.8,125.6 448.2,126.1 448.6,125.7 448.9,125.7 449.3,126.0 450.4,125.5 451.1,126.0 451.5,125.7 452.6,125.8 453.0,126.0 453.4,125.6 453.7,125.6 454.1,126.0 455.2,126.0 455.6,125.8 456.7,126.0 457.4,125.6 458.5,125.7 458.9,125.9 459.3,125.7 459.6,125.9 460.0,125.7 460.8,126.0 461.5,125.7 463.3,126.0 463.7,125.7 464.5,126.1 465.2,125.7 465.6,126.0 466.3,125.8 468.5,125.9 469.3,125.7 470.7,125.9 471.5,125.7 472.2,126.0 472.6,125.6 473.0,125.9 473.3,126.0 474.4,125.8 475.2,126.0 475.5,125.8 476.3,126.1 476.7,126.0 477.0,126.4 477.4,126.3 477.8,126.5 478.5,127.7 479.2,132.5 480.0,128.0 480.4,127.1 481.5,125.9 481.8,126.2 482.2,125.9 482.9,126.0 484.4,125.9 485.9,126.1 486.6,126.0 487.8,126.2 488.9,127.7 489.2,127.9 490.0,126.8 490.7,126.4 491.1,126.6 491.8,126.4 492.2,126.8 492.6,126.8 493.3,127.6 494.0,130.7 494.8,139.8 495.1,138.4 495.5,132.9 495.9,129.8 496.3,128.3 497.0,127.0 498.1,126.3 498.5,126.2 498.8,126.4 499.2,126.1 500.0,126.2 500.7,125.9 501.1,126.2 501.4,125.7 501.8,126.1 502.5,126.1 503.3,125.8 504.0,126.2 504.4,126.0 505.1,126.7 505.5,126.6 506.2,128.4 507.0,133.1 507.3,133.2 508.1,128.1 508.5,127.2 509.6,126.2 510.7,126.0 511.4,126.0 511.8,126.2 512.2,125.9 513.3,126.0 513.6,125.8 514.7,125.7 515.5,125.9 516.6,125.7 517.0,126.0 518.1,125.7 519.6,125.6 521.0,125.9 521.8,125.7 522.1,126.0 523.6,125.8 524.4,125.9 525.8,125.7 526.6,125.9" fill="none" stroke="#e53333" stroke-width="1.05"/>
<polyline points="311.0,144.8 312.1,144.7 313.2,144.9 313.6,144.6 314.0,145.1 314.3,144.4 314.7,144.8 315.1,144.9 315.8,144.7 316.9,144.9 317.3,144.6 317.7,144.8 318.0,144.7 318.4,144.9 318.8,144.7 319.5,144.9 319.9,144.7 321.0,144.7 321.4,144.5 322.5,144.7 322.8,145.0 323.2,144.5 323.6,144.5 323.9,144.8 324.7,144.8 325.4,145.0 326.2,144.6 326.9,144.9 328.4,144.8 328.7,144.5 329.1,144.8 329.5,144.6 332.1,144.9 332.8,144.7 333.2,144.8 333.9,144.7 334.7,144.9 335.0,144.6 335.8,144.8 336.1,144.6 336.9,144.9 337.3,144.5 337.6,144.7 338.0,144.7 338.4,145.0 339.8,144.6 341.0,144.7 341.3,145.0 342.1,144.6 342.8,144.8 343.2,144.6 344.3,144.8 345.0,144.7 345.4,144.9 345.8,144.7 346.1,144.8 346.5,144.6 348.0,144.8 348.3,144.6 348.7,145.0 349.1,144.6 349.5,144.9 350.2,144.7 350.6,144.8 350.9,144.7 351.7,144.8 352.0,145.1 352.4,144.6 352.8,145.0 353.5,144.7 354.3,144.9 355.0,144.6 356.1,144.9 356.5,144.6 356.9,144.9 357.6,144.7 359.4,144.8 360.5,144.5 360.9,144.8 361.3,144.6 362.0,145.0 362.4,144.8 363.5,144.9 363.9,144.6 365.0,144.8 365.4,144.6 366.1,144.9 367.2,144.6 368.3,144.9 369.1,144.7 369.4,145.0 369.8,144.5 371.3,144.9 371.6,144.8 372.0,145.3 373.1,145.1 373.5,145.2 374.2,146.3 374.6,146.4 375.7,145.1 376.1,145.1 376.8,145.7 377.2,145.6 378.3,144.8 379.0,144.9 379.8,144.7 380.9,144.8 381.3,144.6 381.6,144.8 382.0,144.7 382.7,145.1 383.1,144.6 383.8,145.1 386.1,144.4 387.2,144.9 387.9,144.6 388.3,144.8 388.7,144.6 389.0,144.9 389.4,144.6 389.8,144.9 390.5,144.7 390.9,144.9 391.6,144.4 392.0,144.8 392.3,144.6 393.5,144.8 394.9,144.6 396.0,144.8 396.4,144.7 397.2,145.0 397.9,144.7 398.3,144.9 398.6,144.6 399.4,144.9 400.9,144.7 401.6,145.0 403.4,144.6 404.2,144.8 404.6,144.6 405.3,144.8 405.7,144.6 406.0,144.9 406.4,144.9 406.8,144.6 407.9,144.9 411.9,144.6 413.4,144.9 414.5,144.8 414.9,144.5 415.3,144.8 415.6,144.9 416.4,144.5 417.5,144.8 417.9,144.5 418.2,144.7 420.5,144.7 420.8,144.8 421.2,144.6 421.6,144.7 422.7,144.6 423.0,144.9 423.8,144.7 424.2,145.0 424.5,144.8 424.9,144.9 425.3,144.6 426.0,144.7 426.4,145.0 427.1,144.7 428.6,144.6 429.0,144.9 429.7,144.6 430.4,144.9 431.2,144.7 432.3,145.0 432.7,144.7 434.1,144.8 434.5,144.6 437.1,144.8 437.8,144.4 438.2,145.0 438.6,144.7 438.9,144.9 439.3,144.6 440.8,144.7 441.2,145.0 441.5,144.7 441.9,144.7 442.3,145.0 443.0,144.5 443.4,144.8 444.5,145.0 444.9,144.8 445.2,144.9 447.1,144.6 447.4,144.9 447.8,144.7 448.6,144.7 448.9,144.6 449.7,145.0 450.8,144.7 451.5,144.9 452.6,144.8 453.0,144.6 454.1,144.9 454.8,144.6 455.2,145.0 455.6,144.8 458.5,144.7 458.9,144.4 459.3,144.9 460.0,144.6 460.8,144.8 461.9,144.6 463.0,144.6 463.7,144.8 464.1,144.7 464.5,145.0 464.8,144.8 465.2,144.8 465.6,145.2 466.3,144.8 467.4,144.8 468.2,144.6 469.3,145.0 470.4,144.6 470.7,145.0 471.1,145.0 472.2,144.8 472.6,144.9 473.7,144.6 474.1,144.8 474.8,144.8 475.2,145.1 475.5,144.8 475.9,145.1 477.4,145.2 478.1,146.0 478.5,147.0 479.2,153.1 480.4,146.2 481.1,145.3 482.6,144.9 482.9,145.1 483.7,144.9 484.4,144.9 484.8,145.3 485.2,145.1 485.5,145.3 487.0,145.2 488.1,146.9 488.9,150.7 489.2,151.2 490.0,147.6 490.7,145.9 491.1,145.6 491.4,145.8 491.8,145.5 492.6,145.8 493.3,146.6 494.0,149.3 494.8,157.3 495.1,156.2 495.5,151.3 496.3,147.1 497.0,145.9 498.1,145.1 498.5,145.3 498.8,145.1 499.6,145.2 500.0,145.0 500.3,145.2 501.1,144.7 501.4,145.0 502.5,145.0 502.9,145.3 504.0,145.1 505.1,145.8 505.5,145.7 506.2,147.7 507.0,153.1 507.3,153.0 507.7,149.7 508.5,146.5 509.6,145.3 510.7,145.3 511.4,144.8 511.8,145.0 512.2,144.7 512.5,145.1 513.3,144.7 513.6,145.0 514.4,144.9 514.7,145.0 515.1,144.8 517.0,144.9 517.3,144.6 518.1,144.8 518.4,144.7 518.8,144.9 519.6,144.6 519.9,144.9 520.3,144.7 522.1,144.9 522.5,144.7 522.9,144.8 524.0,144.7 524.4,144.8 526.6,144.7" fill="none" stroke="#3a3a3a" stroke-width="0.95"/>
<polyline points="311.0,154.9 311.4,155.2 312.1,155.0 312.5,155.2 312.8,154.9 313.2,155.3 314.0,155.0 314.3,155.2 314.7,154.9 315.4,155.2 316.5,154.9 316.9,155.1 317.3,154.9 317.7,155.1 318.4,155.0 319.1,155.3 320.6,154.9 321.7,155.1 322.8,154.9 323.9,155.2 325.8,154.9 326.2,155.1 326.5,154.9 326.9,155.1 327.3,154.9 328.0,155.3 329.5,154.9 329.9,155.2 330.6,155.0 332.1,155.0 333.2,155.2 333.9,155.2 334.3,154.9 336.5,155.2 336.9,154.9 338.7,155.1 339.8,154.8 340.2,155.3 341.0,155.2 341.3,154.9 341.7,155.2 342.4,154.9 343.2,155.0 343.5,155.2 343.9,155.1 345.0,155.1 345.4,154.9 345.8,155.2 346.1,155.1 346.9,155.3 347.2,155.0 347.6,155.3 348.0,155.0 348.7,154.8 349.1,155.2 349.8,155.0 350.9,155.2 352.4,154.8 353.2,155.1 353.5,155.0 353.9,155.3 354.6,155.0 355.0,155.1 356.5,154.9 357.2,155.2 357.6,155.0 358.0,155.3 358.3,155.0 358.7,155.1 359.8,154.9 360.5,155.2 361.3,155.0 361.7,154.7 362.4,155.2 363.5,155.0 363.9,155.2 364.2,155.0 365.0,155.2 365.4,154.9 367.6,155.2 367.9,155.0 368.7,155.2 369.1,154.9 369.8,154.8 370.5,155.3 370.9,155.4 371.3,155.1 371.6,155.3 372.8,155.2 373.1,155.4 373.5,155.2 373.9,155.8 374.6,156.0 375.0,155.5 375.3,155.8 376.1,155.3 376.8,155.3 377.2,155.1 377.9,155.2 378.7,155.0 379.0,155.2 379.4,155.0 379.8,155.0 380.5,155.3 380.9,155.3 381.3,155.0 381.6,155.3 382.0,154.9 383.1,155.2 383.8,155.1 384.2,154.8 385.3,155.1 386.1,155.0 386.8,155.2 387.2,154.7 387.5,155.2 387.9,155.3 388.7,155.0 389.4,155.1 389.8,155.3 390.1,155.1 390.9,155.2 392.0,154.9 393.1,155.2 393.5,154.8 394.6,155.2 394.9,155.0 398.6,155.0 399.0,154.9 399.4,155.3 399.7,155.0 400.5,155.3 401.2,155.0 402.7,155.1 403.1,155.0 404.2,155.2 406.8,154.9 407.1,155.3 407.5,154.9 407.9,155.2 408.6,154.9 410.1,155.2 411.2,155.0 412.3,155.2 414.2,154.9 415.3,155.0 415.6,155.3 416.0,155.0 416.8,155.1 417.1,155.0 417.5,155.2 417.9,154.9 419.0,155.2 419.3,154.9 420.1,155.4 420.8,154.9 421.2,155.1 421.6,154.9 421.9,155.1 422.7,154.9 423.0,155.3 423.4,155.0 423.8,155.2 424.9,154.9 425.3,155.1 426.0,154.9 426.4,155.3 426.7,155.0 427.1,155.3 427.8,154.8 429.0,155.3 429.7,154.9 430.8,155.2 431.5,154.9 431.9,154.9 432.3,155.1 432.7,154.9 433.8,155.3 434.1,154.8 435.2,155.2 435.6,155.0 436.0,155.2 436.7,154.8 437.5,155.2 438.2,154.9 440.4,155.1 440.8,155.3 441.2,154.8 441.5,155.2 441.9,154.7 442.3,155.1 442.6,155.0 444.9,155.0 445.6,155.3 446.7,155.0 447.1,155.1 447.8,154.9 448.2,154.9 448.6,155.3 448.9,154.8 450.8,155.1 451.9,154.9 453.0,155.2 454.8,154.9 455.6,155.3 456.0,155.1 456.7,155.1 457.4,154.8 457.8,155.2 458.5,155.2 459.3,155.0 459.6,155.3 460.8,154.9 463.0,155.2 463.7,154.8 465.2,155.3 465.6,155.0 466.7,154.9 467.8,155.2 468.2,154.8 468.9,155.2 469.6,155.0 470.4,155.2 470.7,155.0 471.1,155.2 472.2,155.1 472.6,155.2 473.7,154.9 474.4,155.1 475.2,155.1 475.5,155.3 475.9,155.1 476.7,155.3 477.0,154.9 477.4,155.4 478.1,155.6 478.5,156.3 479.2,159.5 480.4,155.9 481.5,155.2 482.2,155.3 482.6,155.0 482.9,155.3 484.4,155.0 485.5,155.3 486.6,155.1 487.0,154.9 488.1,155.3 491.1,155.2 491.4,155.5 492.2,155.5 492.9,156.0 493.7,157.4 494.0,158.9 494.8,165.9 495.1,164.7 495.9,158.1 496.3,157.0 497.0,155.8 497.7,155.7 498.1,155.3 498.5,155.5 499.6,155.2 500.3,155.4 500.7,155.1 501.4,155.3 502.5,155.2 503.3,155.4 504.4,155.3 504.8,155.6 505.1,155.5 505.9,156.2 506.2,156.9 507.0,160.7 507.3,160.6 508.1,156.9 508.5,156.2 508.8,155.7 509.2,155.5 509.6,155.7 510.3,155.1 510.7,155.3 511.4,155.1 511.8,155.3 512.5,154.9 513.6,155.2 517.0,155.1 517.3,155.4 517.7,155.0 518.1,155.1 518.4,154.9 519.2,155.2 519.6,155.0 522.1,155.1 522.5,155.0 522.9,155.1 523.2,154.9 523.6,155.2 524.0,155.0 524.4,155.2 524.7,154.9 525.1,155.3 526.6,155.1" fill="none" stroke="#e53333" stroke-width="1.05"/>
<rect x="311.0" y="6.7" width="225.89999999999998" height="160.9" fill="none" stroke="#111" stroke-width="1.5"/>
<line x1="526.7" y1="6.7" x2="526.7" y2="167.6" stroke="#111" stroke-width="1.5"/>
<line x1="311.0" y1="16.60" x2="536.9" y2="16.60" stroke="#111" stroke-width="1.5"/>
<line x1="311.0" y1="41.77" x2="536.9" y2="41.77" stroke="#111" stroke-width="1.5"/>
<line x1="311.0" y1="66.94" x2="536.9" y2="66.94" stroke="#111" stroke-width="1.5"/>
<line x1="311.0" y1="92.11" x2="536.9" y2="92.11" stroke="#111" stroke-width="1.5"/>
<line x1="311.0" y1="117.28" x2="536.9" y2="117.28" stroke="#111" stroke-width="1.5"/>
<line x1="311.0" y1="142.45" x2="536.9" y2="142.45" stroke="#111" stroke-width="1.5"/>
<text transform="translate(531.80,29.19) rotate(90)" x="0" y="2.84" font-size="7.9" font-weight="bold" fill="#111" stroke="#111" stroke-width="0.3" text-anchor="middle">209°C</text>
<text transform="translate(531.80,54.36) rotate(90)" x="0" y="2.84" font-size="7.9" font-weight="bold" fill="#111" stroke="#111" stroke-width="0.3" text-anchor="middle">395°C</text>
<text transform="translate(531.80,79.53) rotate(90)" x="0" y="2.84" font-size="7.9" font-weight="bold" fill="#111" stroke="#111" stroke-width="0.3" text-anchor="middle">487°C</text>
<text transform="translate(531.80,104.70) rotate(90)" x="0" y="2.84" font-size="7.9" font-weight="bold" fill="#111" stroke="#111" stroke-width="0.3" text-anchor="middle">598°C</text>
<text transform="translate(531.80,129.87) rotate(90)" x="0" y="2.84" font-size="7.9" font-weight="bold" fill="#111" stroke="#111" stroke-width="0.3" text-anchor="middle">709°C</text>
<text transform="translate(531.80,155.04) rotate(90)" x="0" y="2.84" font-size="7.9" font-weight="bold" fill="#111" stroke="#111" stroke-width="0.3" text-anchor="middle">784°C</text>
<line x1="363.8" y1="11.6" x2="380.4" y2="11.6" stroke="#3a3a3a" stroke-width="0.9"/>
<text x="382.80" y="14.20" font-size="7.5" font-weight="bold" fill="#111" stroke="#111" stroke-width="0.3">HPCTP-0</text>
<line x1="425.6" y1="11.6" x2="442.7" y2="11.6" stroke="#e53333" stroke-width="0.9"/>
<text x="444.60" y="14.20" font-size="7.5" font-weight="bold" fill="#111" stroke="#111" stroke-width="0.3">HPCTP-25</text>
<line x1="526.70" y1="167.6" x2="526.70" y2="170.2" stroke="#111" stroke-width="1"/>
<text x="526.70" y="179.40" font-size="8.6" font-weight="bold" fill="#111" stroke="#111" stroke-width="0.3" text-anchor="middle">500</text>
<line x1="511.29" y1="167.6" x2="511.29" y2="169.2" stroke="#111" stroke-width="1"/>
<line x1="495.89" y1="167.6" x2="495.89" y2="170.2" stroke="#111" stroke-width="1"/>
<text x="495.89" y="179.40" font-size="8.6" font-weight="bold" fill="#111" stroke="#111" stroke-width="0.3" text-anchor="middle">1000</text>
<line x1="480.48" y1="167.6" x2="480.48" y2="169.2" stroke="#111" stroke-width="1"/>
<line x1="465.07" y1="167.6" x2="465.07" y2="170.2" stroke="#111" stroke-width="1"/>
<text x="465.07" y="179.40" font-size="8.6" font-weight="bold" fill="#111" stroke="#111" stroke-width="0.3" text-anchor="middle">1500</text>
<line x1="449.66" y1="167.6" x2="449.66" y2="169.2" stroke="#111" stroke-width="1"/>
<line x1="434.26" y1="167.6" x2="434.26" y2="170.2" stroke="#111" stroke-width="1"/>
<text x="434.26" y="179.40" font-size="8.6" font-weight="bold" fill="#111" stroke="#111" stroke-width="0.3" text-anchor="middle">2000</text>
<line x1="418.85" y1="167.6" x2="418.85" y2="169.2" stroke="#111" stroke-width="1"/>
<line x1="403.44" y1="167.6" x2="403.44" y2="170.2" stroke="#111" stroke-width="1"/>
<text x="403.44" y="179.40" font-size="8.6" font-weight="bold" fill="#111" stroke="#111" stroke-width="0.3" text-anchor="middle">2500</text>
<line x1="388.04" y1="167.6" x2="388.04" y2="169.2" stroke="#111" stroke-width="1"/>
<line x1="372.63" y1="167.6" x2="372.63" y2="170.2" stroke="#111" stroke-width="1"/>
<text x="372.63" y="179.40" font-size="8.6" font-weight="bold" fill="#111" stroke="#111" stroke-width="0.3" text-anchor="middle">3000</text>
<line x1="357.22" y1="167.6" x2="357.22" y2="169.2" stroke="#111" stroke-width="1"/>
<line x1="341.81" y1="167.6" x2="341.81" y2="170.2" stroke="#111" stroke-width="1"/>
<text x="341.81" y="179.40" font-size="8.6" font-weight="bold" fill="#111" stroke="#111" stroke-width="0.3" text-anchor="middle">3500</text>
<line x1="326.41" y1="167.6" x2="326.41" y2="169.2" stroke="#111" stroke-width="1"/>
<line x1="311.00" y1="167.6" x2="311.00" y2="170.2" stroke="#111" stroke-width="1"/>
<text x="311.00" y="179.40" font-size="8.6" font-weight="bold" fill="#111" stroke="#111" stroke-width="0.3" text-anchor="middle">4000</text>
<text x="422.5" y="189.1" font-size="8.6" font-weight="bold" fill="#111" text-anchor="middle">Wavenumber (cm<tspan font-size="5.6" dy="-3.6">-1</tspan><tspan dy="3.6">)</tspan></text>
<text transform="translate(304.40,93.80) rotate(-90)" x="0" y="3.02" font-size="8.4" font-weight="bold" fill="#111" stroke="#111" stroke-width="0.3" text-anchor="middle">Transmittance (%)</text>
<text x="279.3" y="19.6" font-family="Liberation Serif, serif" font-weight="bold" font-size="22" fill="#111" stroke="#111" stroke-width="0.45">(b)</text>
<text x="324.70" y="39.80" font-size="6.4" font-weight="bold" fill="#111" stroke="#111" stroke-width="0.3">-OH</text>
<line x1="326.30" y1="27.20" x2="328.91" y2="30.61" stroke="#22d022" stroke-width="1.35"/><polygon points="331.20,33.60 327.53,31.66 330.29,29.55" fill="#22d022"/>
<text x="395.00" y="63.20" font-size="6.4" font-weight="bold" fill="#111" stroke="#111" stroke-width="0.2">CO<tspan font-size="3.97" dy="1.92">2</tspan></text>
<line x1="410.20" y1="50.50" x2="406.69" y2="55.43" stroke="#22d022" stroke-width="1.35"/><polygon points="404.50,58.50 405.27,54.42 408.10,56.44" fill="#22d022"/>
<text x="433.00" y="65.70" font-size="6.4" font-weight="bold" fill="#111" stroke="#111" stroke-width="0.3">-C=C</text>
<line x1="456.70" y1="55.00" x2="449.82" y2="58.71" stroke="#22d022" stroke-width="1.35"/><polygon points="446.50,60.50 448.99,57.18 450.64,60.24" fill="#22d022"/>
<text x="488.70" y="63.30" font-size="6.4" font-weight="bold" fill="#111" stroke="#111" stroke-width="0.3">Si-O-C</text>
<line x1="507.60" y1="54.00" x2="503.34" y2="56.24" stroke="#22d022" stroke-width="1.35"/><polygon points="500.00,58.00 502.53,54.70 504.15,57.78" fill="#22d022"/>
<text x="444.00" y="86.60" font-size="6.4" font-weight="bold" fill="#111" stroke="#111" stroke-width="0.3">-Ph</text>
<line x1="465.50" y1="81.00" x2="459.15" y2="82.65" stroke="#22d022" stroke-width="1.35"/><polygon points="455.50,83.60 458.71,80.97 459.59,84.34" fill="#22d022"/>
<text x="461.00" y="91.20" font-size="6.4" font-weight="bold" fill="#111" stroke="#111" stroke-width="0.3">-P=N</text>
<line x1="484.30" y1="84.20" x2="478.96" y2="86.51" stroke="#22d022" stroke-width="1.35"/><polygon points="475.50,88.00 478.27,84.91 479.65,88.10" fill="#22d022"/>
<text x="482.00" y="91.20" font-size="6.4" font-weight="bold" fill="#111" stroke="#111" stroke-width="0.3">P-O-C</text>
<line x1="499.00" y1="80.80" x2="494.07" y2="84.31" stroke="#22d022" stroke-width="1.35"/><polygon points="491.00,86.50 493.06,82.90 495.08,85.73" fill="#22d022"/>
<text x="512.00" y="90.20" font-size="6.4" font-weight="bold" fill="#111" stroke="#111" stroke-width="0.3">-Ph</text>
<line x1="513.50" y1="85.80" x2="507.06" y2="79.59" stroke="#22d022" stroke-width="1.0"/><polygon points="505.00,77.60 507.97,78.64 506.14,80.54" fill="#22d022"/>
<line x1="513.50" y1="85.80" x2="511.53" y2="80.67" stroke="#22d022" stroke-width="1.0"/><polygon points="510.50,78.00 512.76,80.20 510.29,81.14" fill="#22d022"/>
<line x1="513.50" y1="85.80" x2="514.75" y2="81.16" stroke="#22d022" stroke-width="1.0"/><polygon points="515.50,78.40 516.03,81.51 513.48,80.82" fill="#22d022"/>
<line x1="513.50" y1="85.80" x2="518.02" y2="81.07" stroke="#22d022" stroke-width="1.0"/><polygon points="520.00,79.00 518.98,81.98 517.07,80.16" fill="#22d022"/>
<text x="455.00" y="107.30" font-size="6.4" font-weight="bold" fill="#111" stroke="#111" stroke-width="0.3">C-O</text>
<line x1="479.00" y1="105.00" x2="472.27" y2="105.00" stroke="#22d022" stroke-width="1.35"/><polygon points="468.50,105.00 472.27,103.26 472.27,106.74" fill="#22d022"/>
<text x="460.00" y="113.60" font-size="6.4" font-weight="bold" fill="#111" stroke="#111" stroke-width="0.3">Si-O-Si</text>
<line x1="489.00" y1="107.00" x2="485.37" y2="108.81" stroke="#22d022" stroke-width="1.35"/><polygon points="482.00,110.50 484.59,107.26 486.15,110.37" fill="#22d022"/>
<line x1="493.00" y1="116.00" x2="486.19" y2="114.57" stroke="#22d022" stroke-width="1.35"/><polygon points="482.50,113.80 486.55,112.87 485.83,116.28" fill="#22d022"/>
<text x="348.20" y="151.90" font-size="6.4" font-weight="bold" fill="#111" stroke="#111" stroke-width="0.2">-CH<tspan font-size="3.97" dy="1.92">2</tspan></text>
<line x1="370.50" y1="147.80" x2="365.65" y2="149.06" stroke="#22d022" stroke-width="1.35"/><polygon points="362.00,150.00 365.21,147.37 366.09,150.74" fill="#22d022"/>
<text x="384.50" y="151.90" font-size="6.4" font-weight="bold" fill="#111" stroke="#111" stroke-width="0.2">-CH<tspan font-size="3.97" dy="1.92">3</tspan></text>
<line x1="375.40" y1="147.50" x2="379.95" y2="148.66" stroke="#22d022" stroke-width="1.35"/><polygon points="383.60,149.60 379.52,150.35 380.38,146.98" fill="#22d022"/>
<text x="453.00" y="151.40" font-size="6.4" font-weight="bold" fill="#111" stroke="#111" stroke-width="0.2">-CH<tspan font-size="3.97" dy="1.92">3</tspan></text>
<line x1="476.80" y1="147.00" x2="470.69" y2="148.25" stroke="#22d022" stroke-width="1.35"/><polygon points="467.00,149.00 470.35,146.54 471.04,149.95" fill="#22d022"/>
<rect x="78.2" y="198.3" width="153.70" height="73.60" fill="rgb(2,42,255)"/>
<rect x="78.2" y="198.3" width="153.70" height="0.8" fill="#3a66ff"/>
<rect x="188.08" y="218.30" width="43.82" height="2.0" fill="url(#c3000)" filter="url(#vblur)"/>
<rect x="184.93" y="253.65" width="46.97" height="2.3" fill="url(#c1260)" filter="url(#vblur)"/>
<rect x="180.74" y="257.73" width="51.16" height="2.7" fill="url(#c1050)" filter="url(#vblur)"/>
<rect x="181.78" y="262.98" width="50.12" height="2.4" fill="url(#c800)" filter="url(#vblur)"/>
<rect x="231.9" y="195.3" width="3.5" height="79.59999999999997" fill="#fff"/>
<line x1="78.2" y1="198.0" x2="78.2" y2="272.5" stroke="#111" stroke-width="1.3"/>
<line x1="77.60000000000001" y1="271.9" x2="231.9" y2="271.9" stroke="#111" stroke-width="1.1"/>
<line x1="73.60000000000001" y1="270.30" x2="78.2" y2="270.30" stroke="#111" stroke-width="1"/>
<text x="71.20" y="273.50" font-size="9.0" font-weight="bold" fill="#111" stroke="#111" stroke-width="0.3" text-anchor="end">500</text>
<line x1="73.60000000000001" y1="260.10" x2="78.2" y2="260.10" stroke="#111" stroke-width="1"/>
<text x="71.20" y="263.30" font-size="9.0" font-weight="bold" fill="#111" stroke="#111" stroke-width="0.3" text-anchor="end">1000</text>
<line x1="73.60000000000001" y1="249.90" x2="78.2" y2="249.90" stroke="#111" stroke-width="1"/>
<text x="71.20" y="253.10" font-size="9.0" font-weight="bold" fill="#111" stroke="#111" stroke-width="0.3" text-anchor="end">1500</text>
<line x1="73.60000000000001" y1="239.70" x2="78.2" y2="239.70" stroke="#111" stroke-width="1"/>
<text x="71.20" y="242.90" font-size="9.0" font-weight="bold" fill="#111" stroke="#111" stroke-width="0.3" text-anchor="end">2000</text>
<line x1="73.60000000000001" y1="229.50" x2="78.2" y2="229.50" stroke="#111" stroke-width="1"/>
<text x="71.20" y="232.70" font-size="9.0" font-weight="bold" fill="#111" stroke="#111" stroke-width="0.3" text-anchor="end">2500</text>
<line x1="73.60000000000001" y1="219.30" x2="78.2" y2="219.30" stroke="#111" stroke-width="1"/>
<text x="71.20" y="222.50" font-size="9.0" font-weight="bold" fill="#111" stroke="#111" stroke-width="0.3" text-anchor="end">3000</text>
<line x1="73.60000000000001" y1="209.10" x2="78.2" y2="209.10" stroke="#111" stroke-width="1"/>
<text x="71.20" y="212.30" font-size="9.0" font-weight="bold" fill="#111" stroke="#111" stroke-width="0.3" text-anchor="end">3500</text>
<line x1="73.60000000000001" y1="198.90" x2="78.2" y2="198.90" stroke="#111" stroke-width="1"/>
<text x="71.20" y="202.10" font-size="9.0" font-weight="bold" fill="#111" stroke="#111" stroke-width="0.3" text-anchor="end">4000</text>
<line x1="78.20" y1="271.9" x2="78.20" y2="275.7" stroke="#111" stroke-width="1.1"/>
<text x="78.20" y="284.50" font-size="8.8" font-weight="bold" fill="#111" stroke="#111" stroke-width="0.3" text-anchor="middle">61</text>
<line x1="110.91" y1="271.9" x2="110.91" y2="275.7" stroke="#111" stroke-width="1.1"/>
<text x="110.91" y="284.50" font-size="8.8" font-weight="bold" fill="#111" stroke="#111" stroke-width="0.3" text-anchor="middle">217</text>
<line x1="145.72" y1="271.9" x2="145.72" y2="275.7" stroke="#111" stroke-width="1.1"/>
<text x="145.72" y="284.50" font-size="8.8" font-weight="bold" fill="#111" stroke="#111" stroke-width="0.3" text-anchor="middle">383</text>
<line x1="180.74" y1="271.9" x2="180.74" y2="275.7" stroke="#111" stroke-width="1.1"/>
<text x="180.74" y="284.50" font-size="8.8" font-weight="bold" fill="#111" stroke="#111" stroke-width="0.3" text-anchor="middle">550</text>
<line x1="215.75" y1="271.9" x2="215.75" y2="275.7" stroke="#111" stroke-width="1.1"/>
<text x="215.75" y="284.50" font-size="8.8" font-weight="bold" fill="#111" stroke="#111" stroke-width="0.3" text-anchor="middle">717</text>
<line x1="231.90" y1="271.9" x2="231.90" y2="275.7" stroke="#111" stroke-width="1.1"/>
<text x="231.90" y="284.50" font-size="8.8" font-weight="bold" fill="#111" stroke="#111" stroke-width="0.3" text-anchor="middle">794</text>
<rect x="235.4" y="198.3" width="3.2" height="73.60" fill="url(#cbar)"/>
<line x1="239.3" y1="198.3" x2="239.3" y2="271.9" stroke="#111" stroke-width="1.1"/>
<line x1="239.3" y1="199.00" x2="242.20000000000002" y2="199.00" stroke="#111" stroke-width="1"/>
<text x="244.60" y="202.20" font-size="9.0" font-weight="bold" fill="#111" stroke="#111" stroke-width="0.3">0.34</text>
<line x1="239.3" y1="206.90" x2="242.20000000000002" y2="206.90" stroke="#111" stroke-width="1"/>
<text x="244.60" y="210.10" font-size="9.0" font-weight="bold" fill="#111" stroke="#111" stroke-width="0.3">0.30</text>
<line x1="239.3" y1="217.20" x2="242.20000000000002" y2="217.20" stroke="#111" stroke-width="1"/>
<text x="244.60" y="220.40" font-size="9.0" font-weight="bold" fill="#111" stroke="#111" stroke-width="0.3">0.25</text>
<line x1="239.3" y1="227.40" x2="242.20000000000002" y2="227.40" stroke="#111" stroke-width="1"/>
<text x="244.60" y="230.60" font-size="9.0" font-weight="bold" fill="#111" stroke="#111" stroke-width="0.3">0.20</text>
<line x1="239.3" y1="237.70" x2="242.20000000000002" y2="237.70" stroke="#111" stroke-width="1"/>
<text x="244.60" y="240.90" font-size="9.0" font-weight="bold" fill="#111" stroke="#111" stroke-width="0.3">0.15</text>
<line x1="239.3" y1="248.00" x2="242.20000000000002" y2="248.00" stroke="#111" stroke-width="1"/>
<text x="244.60" y="251.20" font-size="9.0" font-weight="bold" fill="#111" stroke="#111" stroke-width="0.3">0.10</text>
<line x1="239.3" y1="258.40" x2="242.20000000000002" y2="258.40" stroke="#111" stroke-width="1"/>
<text x="244.60" y="261.60" font-size="9.0" font-weight="bold" fill="#111" stroke="#111" stroke-width="0.3">0.05</text>
<line x1="239.3" y1="268.60" x2="242.20000000000002" y2="268.60" stroke="#111" stroke-width="1"/>
<text x="244.60" y="271.80" font-size="9.0" font-weight="bold" fill="#111" stroke="#111" stroke-width="0.3">0.00</text>
<text transform="translate(269.80,233.30) rotate(-90)" x="0" y="3.40" font-size="9.45" font-weight="bold" fill="#111" stroke="#111" stroke-width="0.3" text-anchor="middle">Absorbance (Abs)</text>
<text transform="translate(45.50,234.50) rotate(-90)" x="0" y="3.4" font-size="9.5" font-weight="bold" fill="#111" text-anchor="middle">Wavenumbers (cm<tspan font-size="5.4" dy="-3.4">-1</tspan><tspan dy="3.4">)</tspan></text>
<text x="161.20" y="295.40" font-size="9.3" font-weight="bold" fill="#111" stroke="#111" stroke-width="0.3" text-anchor="middle">Temperature (°C)</text>
<text x="11.3" y="211.0" font-family="Liberation Serif, serif" font-weight="bold" font-size="22" fill="#111" stroke="#111" stroke-width="0.45">(c)</text>
<rect x="350.1" y="199.0" width="153.60" height="74.00" fill="rgb(0,54,255)"/>
<rect x="350.1" y="199.0" width="153.60" height="0.8" fill="#3a66ff"/>
<rect x="463.05" y="219.45" width="40.65" height="1.8" fill="url(#d3000)" filter="url(#vblur)"/>
<rect x="457.81" y="254.75" width="45.89" height="2.2" fill="url(#d1260)" filter="url(#vblur)"/>
<rect x="452.57" y="258.78" width="51.13" height="2.7" fill="url(#d1050)" filter="url(#vblur)"/>
<rect x="457.81" y="264.03" width="45.89" height="2.4" fill="url(#d800)" filter="url(#vblur)"/>
<rect x="503.7" y="196.0" width="3.5" height="80.0" fill="#fff"/>
<line x1="350.1" y1="198.7" x2="350.1" y2="273.6" stroke="#111" stroke-width="1.3"/>
<line x1="349.5" y1="273.0" x2="503.7" y2="273.0" stroke="#111" stroke-width="1.1"/>
<line x1="345.5" y1="271.35" x2="350.1" y2="271.35" stroke="#111" stroke-width="1"/>
<text x="343.10" y="274.55" font-size="9.0" font-weight="bold" fill="#111" stroke="#111" stroke-width="0.3" text-anchor="end">500</text>
<line x1="345.5" y1="261.15" x2="350.1" y2="261.15" stroke="#111" stroke-width="1"/>
<text x="343.10" y="264.35" font-size="9.0" font-weight="bold" fill="#111" stroke="#111" stroke-width="0.3" text-anchor="end">1000</text>
<line x1="345.5" y1="250.95" x2="350.1" y2="250.95" stroke="#111" stroke-width="1"/>
<text x="343.10" y="254.15" font-size="9.0" font-weight="bold" fill="#111" stroke="#111" stroke-width="0.3" text-anchor="end">1500</text>
<line x1="345.5" y1="240.75" x2="350.1" y2="240.75" stroke="#111" stroke-width="1"/>
<text x="343.10" y="243.95" font-size="9.0" font-weight="bold" fill="#111" stroke="#111" stroke-width="0.3" text-anchor="end">2000</text>
<line x1="345.5" y1="230.55" x2="350.1" y2="230.55" stroke="#111" stroke-width="1"/>
<text x="343.10" y="233.75" font-size="9.0" font-weight="bold" fill="#111" stroke="#111" stroke-width="0.3" text-anchor="end">2500</text>
<line x1="345.5" y1="220.35" x2="350.1" y2="220.35" stroke="#111" stroke-width="1"/>
<text x="343.10" y="223.55" font-size="9.0" font-weight="bold" fill="#111" stroke="#111" stroke-width="0.3" text-anchor="end">3000</text>
<line x1="345.5" y1="210.15" x2="350.1" y2="210.15" stroke="#111" stroke-width="1"/>
<text x="343.10" y="213.35" font-size="9.0" font-weight="bold" fill="#111" stroke="#111" stroke-width="0.3" text-anchor="end">3500</text>
<line x1="345.5" y1="199.95" x2="350.1" y2="199.95" stroke="#111" stroke-width="1"/>
<text x="343.10" y="203.15" font-size="9.0" font-weight="bold" fill="#111" stroke="#111" stroke-width="0.3" text-anchor="end">4000</text>
<line x1="350.10" y1="273.0" x2="350.10" y2="276.8" stroke="#111" stroke-width="1.1"/>
<text x="350.10" y="285.97" font-size="8.8" font-weight="bold" fill="#111" stroke="#111" stroke-width="0.3" text-anchor="middle">61</text>
<line x1="382.79" y1="273.0" x2="382.79" y2="276.8" stroke="#111" stroke-width="1.1"/>
<text x="382.79" y="285.97" font-size="8.8" font-weight="bold" fill="#111" stroke="#111" stroke-width="0.3" text-anchor="middle">217</text>
<line x1="417.58" y1="273.0" x2="417.58" y2="276.8" stroke="#111" stroke-width="1.1"/>
<text x="417.58" y="285.97" font-size="8.8" font-weight="bold" fill="#111" stroke="#111" stroke-width="0.3" text-anchor="middle">383</text>
<line x1="452.57" y1="273.0" x2="452.57" y2="276.8" stroke="#111" stroke-width="1.1"/>
<text x="452.57" y="285.97" font-size="8.8" font-weight="bold" fill="#111" stroke="#111" stroke-width="0.3" text-anchor="middle">550</text>
<line x1="487.56" y1="273.0" x2="487.56" y2="276.8" stroke="#111" stroke-width="1.1"/>
<text x="487.56" y="285.97" font-size="8.8" font-weight="bold" fill="#111" stroke="#111" stroke-width="0.3" text-anchor="middle">717</text>
<line x1="503.70" y1="273.0" x2="503.70" y2="276.8" stroke="#111" stroke-width="1.1"/>
<text x="503.70" y="285.97" font-size="8.8" font-weight="bold" fill="#111" stroke="#111" stroke-width="0.3" text-anchor="middle">794</text>
<rect x="507.2" y="199.0" width="3.2" height="74.00" fill="url(#cbar)"/>
<line x1="511.09999999999997" y1="199.0" x2="511.09999999999997" y2="273.0" stroke="#111" stroke-width="1.1"/>
<line x1="511.09999999999997" y1="199.80" x2="514.0" y2="199.80" stroke="#111" stroke-width="1"/>
<text x="517.00" y="203.00" font-size="9.0" font-weight="bold" fill="#111" stroke="#111" stroke-width="0.3">0.59</text>
<line x1="511.09999999999997" y1="210.80" x2="514.0" y2="210.80" stroke="#111" stroke-width="1"/>
<text x="517.00" y="214.00" font-size="9.0" font-weight="bold" fill="#111" stroke="#111" stroke-width="0.3">0.50</text>
<line x1="511.09999999999997" y1="221.80" x2="514.0" y2="221.80" stroke="#111" stroke-width="1"/>
<text x="517.00" y="225.00" font-size="9.0" font-weight="bold" fill="#111" stroke="#111" stroke-width="0.3">0.40</text>
<line x1="511.09999999999997" y1="232.80" x2="514.0" y2="232.80" stroke="#111" stroke-width="1"/>
<text x="517.00" y="236.00" font-size="9.0" font-weight="bold" fill="#111" stroke="#111" stroke-width="0.3">0.30</text>
<line x1="511.09999999999997" y1="244.00" x2="514.0" y2="244.00" stroke="#111" stroke-width="1"/>
<text x="517.00" y="247.20" font-size="9.0" font-weight="bold" fill="#111" stroke="#111" stroke-width="0.3">0.20</text>
<line x1="511.09999999999997" y1="256.00" x2="514.0" y2="256.00" stroke="#111" stroke-width="1"/>
<text x="517.00" y="259.20" font-size="9.0" font-weight="bold" fill="#111" stroke="#111" stroke-width="0.3">0.10</text>
<line x1="511.09999999999997" y1="268.40" x2="514.0" y2="268.40" stroke="#111" stroke-width="1"/>
<text x="517.00" y="271.60" font-size="9.0" font-weight="bold" fill="#111" stroke="#111" stroke-width="0.3">0.00</text>
<text transform="translate(541.80,233.30) rotate(-90)" x="0" y="3.40" font-size="9.45" font-weight="bold" fill="#111" stroke="#111" stroke-width="0.3" text-anchor="middle">Absorbance (Abs)</text>
<text transform="translate(316.00,235.97) rotate(-90)" x="0" y="3.4" font-size="9.5" font-weight="bold" fill="#111" text-anchor="middle">Wavenumbers (cm<tspan font-size="5.4" dy="-3.4">-1</tspan><tspan dy="3.4">)</tspan></text>
<text x="434.05" y="296.66" font-size="9.3" font-weight="bold" fill="#111" stroke="#111" stroke-width="0.3" text-anchor="middle">Temperature (°C)</text>
<text x="280.0" y="211.0" font-family="Liberation Serif, serif" font-weight="bold" font-size="22" fill="#111" stroke="#111" stroke-width="0.45">(d)</text>
<rect x="69.70" y="316.40" width="178.80" height="14.40" fill="#fff"/>
<line x1="72.70" y1="316.40" x2="72.70" y2="329.80" stroke="#cfcfcf" stroke-width="0.5"/>
<line x1="84.62" y1="316.40" x2="84.62" y2="329.80" stroke="#cfcfcf" stroke-width="0.5"/>
<line x1="96.54" y1="316.40" x2="96.54" y2="329.80" stroke="#cfcfcf" stroke-width="0.5"/>
<line x1="108.46" y1="316.40" x2="108.46" y2="329.80" stroke="#cfcfcf" stroke-width="0.5"/>
<line x1="120.38" y1="316.40" x2="120.38" y2="329.80" stroke="#cfcfcf" stroke-width="0.5"/>
<line x1="132.30" y1="316.40" x2="132.30" y2="329.80" stroke="#cfcfcf" stroke-width="0.5"/>
<line x1="144.22" y1="316.40" x2="144.22" y2="329.80" stroke="#cfcfcf" stroke-width="0.5"/>
<line x1="156.14" y1="316.40" x2="156.14" y2="329.80" stroke="#cfcfcf" stroke-width="0.5"/>
<line x1="168.06" y1="316.40" x2="168.06" y2="329.80" stroke="#cfcfcf" stroke-width="0.5"/>
<line x1="179.98" y1="316.40" x2="179.98" y2="329.80" stroke="#cfcfcf" stroke-width="0.5"/>
<line x1="191.90" y1="316.40" x2="191.90" y2="329.80" stroke="#cfcfcf" stroke-width="0.5"/>
<line x1="203.82" y1="316.40" x2="203.82" y2="329.80" stroke="#cfcfcf" stroke-width="0.5"/>
<line x1="215.74" y1="316.40" x2="215.74" y2="329.80" stroke="#cfcfcf" stroke-width="0.5"/>
<line x1="227.66" y1="316.40" x2="227.66" y2="329.80" stroke="#cfcfcf" stroke-width="0.5"/>
<line x1="239.58" y1="316.40" x2="239.58" y2="329.80" stroke="#cfcfcf" stroke-width="0.5"/>
<line x1="69.70" y1="318.80" x2="248.50" y2="318.80" stroke="#e2e2e2" stroke-width="0.4"/>
<line x1="69.70" y1="321.20" x2="248.50" y2="321.20" stroke="#e2e2e2" stroke-width="0.4"/>
<line x1="69.70" y1="323.60" x2="248.50" y2="323.60" stroke="#e2e2e2" stroke-width="0.4"/>
<line x1="69.70" y1="326.00" x2="248.50" y2="326.00" stroke="#e2e2e2" stroke-width="0.4"/>
<line x1="69.70" y1="328.40" x2="248.50" y2="328.40" stroke="#e2e2e2" stroke-width="0.4"/>
<polygon points="12.30,388.20 69.70,316.40 71.50,328.80 15.50,400.60 12.30,401.60" fill="#fff"/>
<line x1="12.30" y1="388.20" x2="12.30" y2="401.60" stroke="#c4c4c4" stroke-width="0.5"/>
<line x1="16.70" y1="382.70" x2="16.70" y2="396.10" stroke="#c4c4c4" stroke-width="0.5"/>
<line x1="21.10" y1="377.19" x2="21.10" y2="390.59" stroke="#c4c4c4" stroke-width="0.5"/>
<line x1="25.50" y1="371.69" x2="25.50" y2="385.09" stroke="#c4c4c4" stroke-width="0.5"/>
<line x1="29.90" y1="366.18" x2="29.90" y2="379.58" stroke="#c4c4c4" stroke-width="0.5"/>
<line x1="34.30" y1="360.68" x2="34.30" y2="374.08" stroke="#c4c4c4" stroke-width="0.5"/>
<line x1="38.70" y1="355.18" x2="38.70" y2="368.58" stroke="#c4c4c4" stroke-width="0.5"/>
<line x1="43.10" y1="349.67" x2="43.10" y2="363.07" stroke="#c4c4c4" stroke-width="0.5"/>
<line x1="47.50" y1="344.17" x2="47.50" y2="357.57" stroke="#c4c4c4" stroke-width="0.5"/>
<line x1="51.90" y1="338.67" x2="51.90" y2="352.07" stroke="#c4c4c4" stroke-width="0.5"/>
<line x1="56.30" y1="333.16" x2="56.30" y2="346.56" stroke="#c4c4c4" stroke-width="0.5"/>
<line x1="60.70" y1="327.66" x2="60.70" y2="341.06" stroke="#c4c4c4" stroke-width="0.5"/>
<line x1="65.10" y1="322.15" x2="65.10" y2="335.55" stroke="#c4c4c4" stroke-width="0.5"/>
<line x1="69.50" y1="316.65" x2="69.50" y2="330.05" stroke="#c4c4c4" stroke-width="0.5"/>
<g transform="translate(71.50,328.80)"><polygon points="0.0,0.0 9.9,0.3 16.7,-0.2 27.9,-0.2 36.0,0.3 54.1,-0.3 60.9,0.2 72.1,0.2 80.7,-0.3 98.2,0.3 105.1,-0.1 116.7,-0.3 124.8,0.3 136.4,0.1 142.9,-0.4 149.3,0.1 160.9,0.3 167.7,-0.3 171.6,-0.2 171.6,69.0 0,69.0" fill="#fff" stroke="url(#zg)" stroke-width="0.5" stroke-dasharray="171.65 3000"/><line x1="171.6" y1="0.1" x2="171.6" y2="69.5" stroke="#c4cced" stroke-width="0.95"/></g>
<g transform="translate(70.13,330.55)"><polygon points="0.0,0.1 9.9,0.3 17.2,-0.2 28.3,-0.2 36.5,0.3 54.1,-0.3 61.3,0.2 72.5,0.2 80.7,-0.3 98.2,0.3 105.5,-0.2 117.1,-0.2 124.8,0.3 142.9,-0.3 150.2,0.2 160.9,0.3 168.2,-0.3 171.6,-0.2 171.6,69.0 0,69.0" fill="#fff" stroke="url(#zg)" stroke-width="0.5" stroke-dasharray="171.62 3000"/><line x1="171.6" y1="0.1" x2="171.6" y2="69.5" stroke="#c4cced" stroke-width="0.95"/></g>
<g transform="translate(68.77,332.30)"><polygon points="0.0,0.1 10.7,0.3 18.4,-0.3 29.6,-0.1 36.5,0.4 42.5,-0.1 54.5,-0.3 62.6,0.3 73.8,0.1 80.7,-0.3 98.7,0.3 106.0,-0.2 117.1,-0.2 124.8,0.4 142.9,-0.3 151.4,0.3 161.7,0.2 168.2,-0.3 171.6,-0.2 171.6,69.0 0,69.0" fill="#fff" stroke="url(#zg)" stroke-width="0.5" stroke-dasharray="171.66 3000"/><line x1="171.6" y1="0.1" x2="171.6" y2="69.5" stroke="#c4cced" stroke-width="0.95"/></g>
<g transform="translate(67.40,334.05)"><polygon points="0.0,0.2 10.7,0.3 18.4,-0.3 30.0,-0.1 36.5,0.4 42.9,-0.1 46.8,0.0 54.5,-0.3 63.1,0.3 74.2,0.1 81.1,-0.3 87.5,0.1 98.7,0.3 106.4,-0.3 117.5,-0.1 125.3,0.4 143.3,-0.3 151.4,0.4 171.6,-0.3 171.6,69.0 0,69.0" fill="#fff" stroke="url(#zg)" stroke-width="0.5" stroke-dasharray="171.67 3000"/><line x1="171.6" y1="0.0" x2="171.6" y2="69.5" stroke="#c4cced" stroke-width="0.95"/></g>
<g transform="translate(66.04,335.80)"><polygon points="0.0,0.2 11.2,0.2 18.4,-0.3 36.5,0.3 43.3,-0.1 46.8,0.0 54.9,-0.2 63.1,0.3 81.1,-0.3 87.9,0.1 99.1,0.3 107.2,-0.3 118.4,-0.1 125.3,0.4 132.6,-0.1 140.7,0.1 143.3,-0.2 151.4,0.5 156.2,0.1 171.6,-0.3 171.6,69.0 0,69.0" fill="#fff" stroke="url(#zg)" stroke-width="0.5" stroke-dasharray="171.66 3000"/><line x1="171.6" y1="0.0" x2="171.6" y2="69.5" stroke="#c4cced" stroke-width="0.95"/></g>
<g transform="translate(64.67,337.56)"><polygon points="0.0,0.2 11.2,0.2 18.9,-0.3 36.5,0.3 44.2,-0.2 46.8,0.1 55.8,-0.2 63.1,0.3 81.5,-0.3 88.4,0.2 99.1,0.2 107.2,-0.3 125.3,0.4 130.4,0.2 133.0,-0.1 140.7,0.2 143.3,-0.2 146.7,-0.0 151.4,0.6 156.6,0.1 171.6,-0.3 171.6,69.0 0,69.0" fill="#fff" stroke="url(#zg)" stroke-width="0.5" stroke-dasharray="171.72 3000"/><line x1="171.6" y1="0.0" x2="171.6" y2="69.5" stroke="#c4cced" stroke-width="0.95"/></g>
<g transform="translate(63.30,339.31)"><polygon points="0.0,0.3 11.6,0.2 18.9,-0.3 36.9,0.3 43.8,-0.2 46.8,0.1 55.8,-0.2 63.1,0.3 81.5,-0.3 88.8,0.2 100.0,0.2 107.7,-0.3 125.3,0.4 130.4,0.3 133.4,-0.2 140.7,0.3 142.9,-0.1 145.9,-0.1 151.4,0.7 157.0,0.1 171.6,-0.3 171.6,69.0 0,69.0" fill="#fff" stroke="url(#zg)" stroke-width="0.5" stroke-dasharray="171.78 3000"/><line x1="171.6" y1="0.0" x2="171.6" y2="69.5" stroke="#c4cced" stroke-width="0.95"/></g>
<g transform="translate(61.94,341.06)"><polygon points="0.0,0.3 11.6,0.2 18.9,-0.3 25.7,0.1 36.9,0.3 44.2,-0.2 46.8,0.2 55.8,-0.1 63.5,0.4 69.9,-0.1 81.9,-0.2 88.8,0.3 100.0,0.2 107.7,-0.3 124.8,0.4 130.4,0.3 133.4,-0.2 139.0,0.0 140.7,0.4 142.9,-0.0 145.9,-0.0 151.4,0.7 157.4,0.0 171.6,-0.3 171.6,69.0 0,69.0" fill="#fff" stroke="url(#zg)" stroke-width="0.5" stroke-dasharray="171.84 3000"/><line x1="171.6" y1="0.0" x2="171.6" y2="69.5" stroke="#c4cced" stroke-width="0.95"/></g>
<g transform="translate(60.57,342.81)"><polygon points="0.0,0.3 11.6,0.2 19.3,-0.3 27.0,0.2 37.8,0.3 44.2,-0.2 46.8,0.3 48.5,-0.1 55.8,-0.1 63.5,0.4 70.4,-0.1 82.4,-0.2 89.7,0.3 101.2,0.1 107.7,-0.3 115.0,0.2 124.8,0.4 130.4,0.4 133.8,-0.2 139.0,0.0 140.7,0.5 142.9,0.0 146.3,-0.0 149.7,0.3 151.4,0.8 157.9,-0.0 171.6,-0.3 171.6,69.0 0,69.0" fill="#fff" stroke="url(#zg)" stroke-width="0.5" stroke-dasharray="172.00 3000"/><line x1="171.6" y1="0.0" x2="171.6" y2="69.5" stroke="#c4cced" stroke-width="0.95"/></g>
<g transform="translate(59.21,344.56)"><polygon points="0.0,0.3 11.6,0.2 19.3,-0.3 27.0,0.2 38.2,0.2 44.2,-0.2 45.5,-0.1 46.8,0.4 48.9,-0.1 57.1,-0.0 63.5,0.4 71.6,-0.2 79.4,0.1 83.2,-0.1 90.1,0.3 107.7,-0.3 116.3,0.3 129.1,0.2 130.4,0.4 132.1,-0.1 134.3,-0.3 139.0,0.1 140.7,0.6 142.9,0.1 144.6,0.3 147.1,0.1 149.7,0.4 151.4,0.9 153.2,0.4 158.7,-0.1 171.6,-0.3 171.6,69.0 0,69.0" fill="#fff" stroke="url(#zg)" stroke-width="0.5" stroke-dasharray="172.18 3000"/><line x1="171.6" y1="0.0" x2="171.6" y2="69.5" stroke="#c4cced" stroke-width="0.95"/></g>
<g transform="translate(57.84,346.31)"><polygon points="0.0,0.3 11.2,0.2 19.3,-0.3 27.5,0.3 38.6,0.2 44.6,-0.2 46.8,0.5 48.9,-0.0 63.9,0.3 71.6,-0.2 79.4,0.2 83.7,-0.1 90.1,0.4 108.1,-0.3 116.3,0.4 129.1,0.3 130.4,0.5 132.1,-0.1 134.7,-0.3 139.0,0.1 140.7,0.7 142.9,0.2 144.6,0.4 146.7,0.1 149.7,0.4 151.4,0.9 152.7,0.5 158.7,-0.1 171.6,-0.2 171.6,69.0 0,69.0" fill="#fff" stroke="url(#zg)" stroke-width="0.5" stroke-dasharray="172.29 3000"/><line x1="171.6" y1="0.1" x2="171.6" y2="69.5" stroke="#c4cced" stroke-width="0.95"/></g>
<g transform="translate(56.48,348.06)"><polygon points="0.0,0.3 11.2,0.3 19.3,-0.3 27.5,0.3 44.2,-0.2 45.5,-0.0 46.8,0.7 48.9,-0.0 63.9,0.3 72.1,-0.2 79.4,0.4 83.2,-0.0 90.1,0.4 108.1,-0.3 116.3,0.5 128.7,0.3 130.4,0.6 132.1,-0.1 134.7,-0.3 139.0,0.1 140.7,0.8 142.4,0.3 144.6,0.4 146.7,0.1 149.7,0.4 151.4,1.0 152.7,0.5 159.2,-0.1 171.6,-0.2 171.6,69.0 0,69.0" fill="#fff" stroke="url(#zg)" stroke-width="0.5" stroke-dasharray="172.60 3000"/><line x1="171.6" y1="0.1" x2="171.6" y2="69.5" stroke="#c4cced" stroke-width="0.95"/></g>
<g transform="translate(55.11,349.81)"><polygon points="0.0,0.3 10.7,0.3 19.7,-0.2 27.9,0.3 44.2,-0.1 45.5,0.1 46.8,1.0 48.0,0.2 49.3,0.0 64.3,0.3 72.5,-0.2 79.4,0.6 83.2,0.0 90.5,0.4 97.0,-0.1 108.1,-0.3 116.7,0.6 128.7,0.3 130.4,0.6 132.1,-0.0 134.7,-0.3 139.0,0.1 140.7,0.9 142.9,0.3 144.6,0.5 147.1,0.1 149.7,0.4 151.4,1.0 153.2,0.4 159.6,-0.2 171.6,-0.2 171.6,69.0 0,69.0" fill="#fff" stroke="url(#zg)" stroke-width="0.5" stroke-dasharray="172.95 3000"/><line x1="171.6" y1="0.1" x2="171.6" y2="69.5" stroke="#c4cced" stroke-width="0.95"/></g>
<g transform="translate(53.74,351.57)"><polygon points="0.0,0.3 7.3,0.2 10.7,0.4 19.7,-0.2 27.9,0.3 43.8,-0.1 45.5,0.2 46.8,1.2 48.0,0.3 49.3,0.0 64.8,0.3 72.5,-0.3 75.9,0.0 79.4,0.7 83.7,0.1 90.5,0.4 97.4,-0.1 108.5,-0.2 116.7,0.7 122.7,0.7 128.7,0.3 130.4,0.7 132.1,-0.0 135.1,-0.3 139.0,0.1 140.7,1.0 142.4,0.4 144.6,0.6 147.1,0.1 149.7,0.4 151.4,1.1 153.2,0.4 159.6,-0.2 171.6,-0.1 171.6,69.0 0,69.0" fill="#fff" stroke="url(#zg)" stroke-width="0.5" stroke-dasharray="173.36 3000"/><line x1="171.6" y1="0.2" x2="171.6" y2="69.5" stroke="#c4cced" stroke-width="0.95"/></g>
<g transform="translate(52.38,353.32)"><polygon points="0.0,0.3 7.3,0.3 10.3,0.6 19.7,-0.1 28.3,0.4 34.3,0.0 43.8,-0.1 45.5,0.3 46.8,1.6 48.0,0.4 49.3,0.1 64.8,0.2 72.1,-0.3 75.9,0.1 79.4,0.9 83.7,0.1 90.9,0.4 98.7,-0.2 109.8,-0.1 117.1,0.8 122.7,0.8 128.7,0.3 130.4,0.8 132.1,0.0 135.6,-0.2 139.0,0.2 141.1,1.2 142.4,0.5 144.6,0.8 146.7,0.2 149.7,0.3 151.4,1.1 153.2,0.4 160.0,-0.2 171.6,-0.1 171.6,69.0 0,69.0" fill="#fff" stroke="url(#zg)" stroke-width="0.5" stroke-dasharray="174.07 3000"/><line x1="171.6" y1="0.2" x2="171.6" y2="69.5" stroke="#c4cced" stroke-width="0.95"/></g>
<g transform="translate(51.01,355.07)"><polygon points="0.0,0.3 6.9,0.3 10.3,0.7 20.2,-0.1 28.3,0.4 35.2,-0.0 43.8,-0.0 45.5,0.4 46.8,1.9 48.0,0.6 49.3,0.1 65.2,0.2 72.1,-0.3 75.9,0.1 79.4,1.1 83.7,0.2 91.4,0.4 98.7,-0.2 109.8,-0.1 117.1,0.9 122.7,0.9 128.7,0.3 130.4,0.9 132.1,0.1 135.6,-0.2 139.0,0.2 140.7,1.3 141.1,1.3 142.4,0.6 144.6,0.9 145.4,0.4 147.1,0.2 149.7,0.3 151.4,1.2 153.2,0.4 160.0,-0.2 171.6,-0.0 171.6,69.0 0,69.0" fill="#fff" stroke="url(#zg)" stroke-width="0.5" stroke-dasharray="174.74 3000"/><line x1="171.6" y1="0.3" x2="171.6" y2="69.5" stroke="#c4cced" stroke-width="0.95"/></g>
<g transform="translate(49.65,356.82)"><polygon points="0.0,0.3 6.9,0.4 10.3,0.9 14.2,0.3 20.2,-0.0 28.3,0.4 35.6,-0.1 43.3,0.0 45.5,0.6 46.8,2.3 48.0,0.7 49.3,0.2 65.6,0.2 72.1,-0.2 75.9,0.1 79.4,1.3 84.1,0.2 91.4,0.3 98.2,-0.2 110.3,-0.0 116.7,0.9 122.3,1.1 127.8,0.3 129.1,0.4 130.4,1.0 132.6,0.0 136.0,-0.2 139.0,0.2 140.7,1.5 141.1,1.5 142.4,0.7 143.3,0.6 144.6,1.0 145.4,0.5 147.1,0.2 149.7,0.3 151.4,1.2 153.2,0.4 160.4,-0.3 171.6,0.0 171.6,69.0 0,69.0" fill="#fff" stroke="url(#zg)" stroke-width="0.5" stroke-dasharray="175.60 3000"/><line x1="171.6" y1="0.3" x2="171.6" y2="69.5" stroke="#c4cced" stroke-width="0.95"/></g>
<g transform="translate(48.28,358.57)"><polygon points="0.0,0.3 6.9,0.5 10.3,1.1 14.2,0.4 20.6,0.0 28.7,0.4 36.0,-0.1 43.3,0.1 44.6,0.3 45.5,0.7 46.8,2.8 48.0,0.9 48.9,0.4 49.8,0.2 55.3,0.4 73.4,-0.2 76.4,0.2 79.8,1.5 81.9,0.7 84.1,0.3 91.8,0.3 98.7,-0.2 110.3,0.0 116.7,1.0 122.3,1.2 127.8,0.3 129.1,0.4 130.4,1.0 132.1,0.2 135.6,-0.2 139.0,0.3 139.9,0.7 140.7,1.6 141.1,1.7 142.4,0.7 143.3,0.7 144.6,1.1 145.9,0.4 147.6,0.2 149.7,0.4 151.4,1.3 152.3,0.6 153.2,0.4 160.4,-0.3 171.6,0.1 171.6,69.0 0,69.0" fill="#fff" stroke="url(#zg)" stroke-width="0.5" stroke-dasharray="176.72 3000"/><line x1="171.6" y1="0.4" x2="171.6" y2="69.5" stroke="#c4cced" stroke-width="0.95"/></g>
<g transform="translate(46.91,360.32)"><polygon points="0.0,0.3 6.9,0.6 10.3,1.3 14.2,0.4 20.6,0.1 28.7,0.4 36.0,-0.1 42.9,0.1 44.6,0.4 45.5,0.9 46.8,3.2 48.5,0.7 49.3,0.3 51.1,0.3 55.3,0.4 73.4,-0.2 76.4,0.3 79.8,1.6 81.9,0.8 84.5,0.3 92.2,0.3 98.7,-0.3 110.7,0.1 116.7,1.1 122.3,1.4 127.8,0.3 129.1,0.4 130.4,1.1 132.1,0.2 136.0,-0.1 139.0,0.3 139.9,0.8 140.7,1.9 141.1,1.9 142.4,0.8 143.3,0.8 144.6,1.2 145.9,0.5 147.6,0.3 149.7,0.4 151.4,1.4 152.3,0.6 153.2,0.3 160.4,-0.2 171.6,0.1 171.6,69.0 0,69.0" fill="#fff" stroke="url(#zg)" stroke-width="0.5" stroke-dasharray="177.73 3000"/><line x1="171.6" y1="0.4" x2="171.6" y2="69.5" stroke="#c4cced" stroke-width="0.95"/></g>
<g transform="translate(45.55,362.07)"><polygon points="0.0,0.2 6.4,0.6 10.3,1.5 13.7,0.6 15.9,0.4 22.7,0.1 29.6,0.4 36.9,-0.2 42.5,0.1 45.0,0.7 45.9,1.7 46.8,3.6 48.5,0.8 49.3,0.4 51.1,0.3 55.3,0.4 61.3,0.0 73.4,-0.2 76.4,0.3 78.9,1.6 79.8,1.8 81.9,0.9 84.5,0.4 92.7,0.2 98.7,-0.3 110.7,0.2 116.7,1.1 122.3,1.5 127.8,0.3 129.1,0.4 130.4,1.3 132.1,0.3 136.0,-0.1 139.0,0.4 139.9,1.0 140.7,2.2 141.1,2.2 142.4,0.9 143.3,0.8 144.6,1.4 145.9,0.6 147.6,0.3 149.7,0.4 151.4,1.5 152.3,0.6 153.2,0.3 160.9,-0.2 171.6,0.2 171.6,69.0 0,69.0" fill="#fff" stroke="url(#zg)" stroke-width="0.5" stroke-dasharray="179.15 3000"/><line x1="171.6" y1="0.5" x2="171.6" y2="69.5" stroke="#c4cced" stroke-width="0.95"/></g>
<g transform="translate(44.18,363.82)"><polygon points="0.0,0.2 6.4,0.7 10.3,1.7 13.7,0.6 15.4,0.4 23.2,0.2 29.6,0.3 36.9,-0.2 41.6,0.0 43.8,0.3 45.0,0.8 45.9,1.9 46.8,4.0 48.0,1.4 49.3,0.5 56.2,0.4 61.8,-0.0 74.2,-0.1 76.8,0.5 78.9,1.7 79.8,1.9 82.4,0.8 84.9,0.3 93.1,0.2 99.1,-0.3 111.1,0.3 116.7,1.2 122.3,1.6 127.8,0.3 129.1,0.5 130.4,1.4 132.1,0.3 136.4,0.0 139.0,0.5 139.9,1.1 140.7,2.5 141.1,2.5 142.4,1.1 143.3,0.9 144.6,1.6 145.9,0.6 147.6,0.3 149.7,0.4 151.4,1.7 152.3,0.7 154.0,0.2 157.9,0.2 162.2,-0.2 171.6,0.2 171.6,69.0 0,69.0" fill="#fff" stroke="url(#zg)" stroke-width="0.5" stroke-dasharray="180.58 3000"/><line x1="171.6" y1="0.5" x2="171.6" y2="69.5" stroke="#c4cced" stroke-width="0.95"/></g>
<g transform="translate(42.82,365.58)"><polygon points="0.0,0.2 6.4,0.7 10.3,1.8 13.7,0.7 15.4,0.5 23.6,0.2 30.0,0.3 36.9,-0.2 40.8,-0.0 43.8,0.3 45.0,0.9 45.9,2.1 46.8,4.5 48.0,1.5 49.3,0.6 62.2,-0.1 74.6,-0.0 76.8,0.5 78.9,1.7 79.8,1.9 82.4,0.8 84.9,0.4 99.1,-0.3 111.1,0.3 117.1,1.3 122.3,1.6 127.8,0.3 129.1,0.5 130.4,1.6 132.1,0.4 136.4,0.1 138.1,0.3 139.4,0.9 140.7,3.0 141.1,3.0 142.4,1.2 143.3,1.1 144.6,1.9 145.9,0.7 147.6,0.4 149.7,0.5 151.4,2.0 152.3,0.8 154.0,0.2 157.9,0.3 162.2,-0.2 171.6,0.3 171.6,69.0 0,69.0" fill="#fff" stroke="url(#zg)" stroke-width="0.5" stroke-dasharray="182.60 3000"/><line x1="171.6" y1="0.6" x2="171.6" y2="69.5" stroke="#c4cced" stroke-width="0.95"/></g>
<g transform="translate(41.45,367.33)"><polygon points="0.0,0.2 6.0,0.7 10.3,2.0 11.2,1.9 13.7,0.8 15.4,0.5 24.0,0.2 30.5,0.3 36.9,-0.2 40.3,-0.1 43.8,0.4 45.0,1.0 45.9,2.3 46.8,4.9 48.0,1.7 49.3,0.7 62.6,-0.1 74.6,0.0 76.8,0.5 78.9,1.7 79.8,2.0 82.4,0.9 85.4,0.3 99.1,-0.3 110.7,0.4 114.5,0.8 117.1,1.3 122.3,1.7 124.8,1.2 126.6,0.5 128.3,0.3 129.6,0.8 130.4,1.8 132.1,0.5 136.4,0.2 138.1,0.4 139.4,1.1 140.7,3.7 141.1,3.7 142.4,1.4 143.3,1.2 144.6,2.2 145.9,0.8 147.6,0.4 149.7,0.5 151.4,2.4 152.3,0.9 153.2,0.3 154.0,0.2 157.9,0.4 162.2,-0.1 171.6,0.3 171.6,69.0 0,69.0" fill="#fff" stroke="url(#zg)" stroke-width="0.5" stroke-dasharray="185.37 3000"/><line x1="171.6" y1="0.6" x2="171.6" y2="69.5" stroke="#c4cced" stroke-width="0.95"/></g>
<g transform="translate(40.09,369.08)"><polygon points="0.0,0.1 6.0,0.7 10.7,2.2 13.3,1.0 15.4,0.5 30.9,0.2 36.9,-0.2 40.8,-0.1 43.8,0.4 45.0,1.1 45.9,2.5 46.8,5.3 48.0,1.8 48.9,0.9 51.9,0.4 56.6,0.4 62.6,-0.1 75.1,0.1 76.8,0.5 78.9,1.8 79.8,2.0 82.4,0.9 85.8,0.3 100.0,-0.3 114.1,0.8 118.4,1.5 122.3,1.6 124.8,1.3 127.0,0.4 128.3,0.4 129.6,0.9 130.4,2.2 132.1,0.5 136.4,0.2 138.1,0.5 139.4,1.3 140.7,4.7 141.1,4.6 142.4,1.7 143.3,1.4 144.6,2.6 145.9,0.9 147.6,0.5 149.7,0.6 151.4,2.9 152.3,1.0 153.2,0.4 154.0,0.2 157.9,0.5 162.2,-0.1 165.6,0.3 171.6,0.4 171.6,69.0 0,69.0" fill="#fff" stroke="url(#zg)" stroke-width="0.5" stroke-dasharray="189.12 3000"/><line x1="171.6" y1="0.7" x2="171.6" y2="69.5" stroke="#c4cced" stroke-width="0.95"/></g>
<g transform="translate(38.72,370.83)"><polygon points="0.0,0.1 6.0,0.7 10.7,2.3 13.7,0.9 15.4,0.6 30.9,0.2 37.3,-0.3 40.8,-0.1 43.8,0.5 45.0,1.2 45.9,2.7 46.8,5.8 48.0,2.0 48.9,1.0 50.2,1.1 51.9,0.4 57.1,0.4 63.1,-0.2 75.1,0.1 76.8,0.5 78.9,1.7 79.8,2.0 82.8,0.8 88.8,0.1 101.2,-0.2 114.5,0.9 118.4,1.6 124.8,1.4 126.6,0.5 127.8,0.4 129.1,0.7 130.4,2.7 132.1,0.7 136.4,0.4 138.1,0.7 139.4,1.7 140.7,5.9 141.1,5.9 142.4,2.1 143.3,1.7 144.6,3.2 145.4,1.5 147.1,0.7 148.9,0.5 149.7,0.8 151.4,3.7 152.3,1.3 153.2,0.5 154.0,0.2 155.7,0.3 157.9,0.7 161.7,0.1 165.6,0.5 171.6,0.4 171.6,69.0 0,69.0" fill="#fff" stroke="url(#zg)" stroke-width="0.5" stroke-dasharray="194.08 3000"/><line x1="171.6" y1="0.7" x2="171.6" y2="69.5" stroke="#c4cced" stroke-width="0.95"/></g>
<g transform="translate(37.35,372.58)"><polygon points="0.0,0.1 6.0,0.7 10.7,2.5 13.7,0.9 15.4,0.6 31.3,0.2 37.3,-0.3 41.2,-0.0 43.8,0.5 45.0,1.3 45.9,2.9 46.8,6.4 48.0,2.1 48.5,1.5 49.3,1.0 50.2,1.3 51.5,0.5 52.3,0.4 57.1,0.4 63.9,-0.2 74.2,0.1 76.8,0.5 79.8,2.0 82.8,0.8 89.2,0.0 101.7,-0.2 114.5,0.9 118.4,1.7 120.5,1.5 124.8,1.5 126.6,0.6 127.8,0.4 129.1,0.8 130.4,3.4 131.7,1.1 132.1,0.8 133.4,0.5 136.0,0.5 137.7,0.7 139.0,1.6 139.9,3.4 140.7,7.7 141.1,7.6 142.4,2.6 143.3,2.1 144.6,4.0 145.4,1.8 146.3,1.0 147.1,0.8 148.9,0.7 149.7,1.0 150.2,1.5 151.0,4.2 151.4,4.7 152.3,1.6 153.2,0.6 154.0,0.3 155.7,0.3 157.9,0.9 161.3,0.2 165.2,0.8 171.6,0.4 171.6,69.0 0,69.0" fill="#fff" stroke="url(#zg)" stroke-width="0.5" stroke-dasharray="201.81 3000"/><line x1="171.6" y1="0.7" x2="171.6" y2="69.5" stroke="#c4cced" stroke-width="0.95"/></g>
<g transform="translate(35.99,374.33)"><polygon points="0.0,0.0 3.0,0.1 6.0,0.6 10.7,2.6 13.7,1.0 15.4,0.6 37.3,-0.2 41.2,-0.0 43.8,0.6 45.0,1.4 45.9,3.2 46.8,7.1 47.6,3.7 48.5,1.6 49.3,1.2 50.2,1.6 51.5,0.6 52.8,0.4 57.5,0.3 64.3,-0.2 74.6,0.1 76.8,0.5 79.8,2.0 82.8,0.8 89.7,-0.0 102.1,-0.1 112.4,1.1 115.0,1.1 118.4,1.8 120.5,1.4 123.6,1.4 124.8,1.7 126.6,0.6 127.8,0.5 128.7,0.7 129.6,1.7 130.4,4.4 131.3,2.2 132.1,1.0 133.4,0.6 136.0,0.6 137.7,1.0 139.0,2.0 139.9,4.5 140.7,10.1 141.1,9.9 142.4,3.3 142.9,2.7 143.3,2.6 144.6,5.1 145.4,2.3 145.9,1.6 146.7,1.0 148.4,0.8 149.7,1.3 150.2,1.9 151.0,5.5 151.4,6.1 152.3,2.1 153.2,0.8 154.0,0.4 155.7,0.4 157.9,1.2 161.3,0.3 163.0,0.5 165.2,1.1 167.7,0.6 171.6,0.5 171.6,69.0 0,69.0" fill="#fff" stroke="url(#zg)" stroke-width="0.5" stroke-dasharray="212.32 3000"/><line x1="171.6" y1="0.8" x2="171.6" y2="69.5" stroke="#c4cced" stroke-width="0.95"/></g>
<g transform="translate(34.62,376.08)"><polygon points="0.0,0.0 3.0,0.1 6.0,0.6 10.7,2.7 11.6,2.5 13.7,1.0 15.9,0.6 37.8,-0.2 41.6,0.1 43.8,0.6 45.0,1.5 45.9,3.4 46.8,7.9 47.6,4.0 48.5,1.8 49.3,1.4 50.2,2.0 51.5,0.7 52.8,0.4 64.3,-0.3 74.6,0.2 77.2,0.7 79.4,2.0 79.8,2.0 82.8,0.8 90.1,-0.1 102.5,-0.1 112.4,1.2 115.0,1.1 118.4,1.9 121.0,1.4 123.6,1.4 124.8,1.9 126.6,0.7 127.8,0.6 128.7,0.9 129.6,2.2 130.4,5.7 131.3,2.9 132.1,1.3 133.4,0.8 136.0,0.8 137.7,1.2 139.0,2.6 139.9,5.8 140.7,13.1 141.1,12.9 142.4,4.2 142.9,3.4 143.3,3.3 144.6,6.4 145.4,2.8 145.9,2.0 146.7,1.3 148.4,1.0 149.7,1.6 150.2,2.4 151.0,7.0 151.4,7.9 152.3,2.7 153.2,1.0 154.0,0.6 155.7,0.6 157.9,1.5 160.0,0.7 162.2,0.6 165.2,1.6 168.2,0.7 171.6,0.5 171.6,69.0 0,69.0" fill="#fff" stroke="url(#zg)" stroke-width="0.5" stroke-dasharray="225.78 3000"/><line x1="171.6" y1="0.8" x2="171.6" y2="69.5" stroke="#c4cced" stroke-width="0.95"/></g>
<g transform="translate(33.26,377.83)"><polygon points="0.0,0.0 3.0,0.1 6.0,0.6 7.7,1.2 10.7,2.9 11.6,2.6 13.7,1.1 15.9,0.6 37.8,-0.2 42.0,0.2 44.2,0.9 45.5,2.4 46.8,8.9 47.6,4.4 48.5,2.0 49.3,1.7 50.2,2.4 51.5,0.8 53.2,0.4 64.8,-0.3 74.6,0.2 77.2,0.7 79.4,2.0 82.8,0.7 90.1,-0.1 103.0,-0.0 109.8,0.8 112.4,1.4 115.4,1.3 118.4,2.1 121.4,1.4 123.6,1.4 124.8,2.1 126.6,0.8 127.4,0.7 128.3,0.9 129.1,1.7 129.6,2.8 130.4,7.6 131.3,3.8 132.1,1.6 133.4,1.0 135.6,0.9 137.7,1.6 139.0,3.4 139.9,7.5 140.7,16.8 141.1,16.6 142.4,5.3 142.9,4.3 143.3,4.1 144.6,8.1 145.4,3.5 145.9,2.4 146.7,1.5 148.4,1.2 149.3,1.5 149.7,2.0 150.2,3.1 151.0,9.0 151.4,10.1 152.3,3.5 153.2,1.3 154.0,0.7 155.7,0.7 157.9,1.8 160.0,0.9 161.7,0.8 163.0,1.1 165.2,2.1 168.2,0.9 171.6,0.6 171.6,69.0 0,69.0" fill="#fff" stroke="url(#zg)" stroke-width="0.5" stroke-dasharray="243.64 3000"/><line x1="171.6" y1="0.9" x2="171.6" y2="69.5" stroke="#c4cced" stroke-width="0.95"/></g>
<g transform="translate(31.89,379.59)"><polygon points="0.0,-0.0 3.0,0.0 6.0,0.5 8.2,1.4 10.3,2.8 11.2,3.0 13.7,1.2 15.9,0.6 21.0,0.5 27.5,-0.0 37.8,-0.2 42.0,0.2 44.2,0.9 45.5,2.6 46.8,9.9 47.6,4.9 48.5,2.2 48.9,1.9 49.3,1.9 50.2,2.9 51.5,1.0 53.2,0.4 64.8,-0.3 75.1,0.3 77.2,0.7 79.4,2.1 82.4,0.8 88.8,-0.0 101.7,-0.1 109.4,0.8 112.8,1.7 115.4,1.4 118.4,2.3 120.5,1.4 123.1,1.4 124.0,1.7 124.8,2.4 125.3,2.3 126.6,1.0 127.4,0.8 128.3,1.1 129.1,2.2 129.6,3.6 130.4,9.9 131.3,4.9 132.1,2.0 133.4,1.2 135.6,1.2 137.7,2.0 139.0,4.2 139.9,9.4 140.7,21.2 141.1,20.9 142.4,6.6 142.9,5.3 143.3,5.1 144.6,10.1 145.4,4.2 145.9,2.9 146.7,1.8 148.4,1.5 149.3,1.9 149.7,2.6 150.2,3.9 151.0,11.3 151.4,12.7 152.3,4.4 153.2,1.7 154.0,1.0 155.7,0.9 157.9,2.2 160.0,1.1 161.7,1.0 163.0,1.4 165.2,2.8 168.2,1.1 171.6,0.6 171.6,69.0 0,69.0" fill="#fff" stroke="url(#zg)" stroke-width="0.5" stroke-dasharray="265.42 3000"/><line x1="171.6" y1="0.9" x2="171.6" y2="69.5" stroke="#c4cced" stroke-width="0.95"/></g>
<g transform="translate(30.52,381.34)"><polygon points="0.0,-0.0 3.0,-0.0 6.0,0.5 7.7,1.1 10.3,2.9 11.2,3.2 13.7,1.2 15.9,0.6 21.4,0.5 28.3,-0.1 39.0,-0.1 42.5,0.3 44.6,1.3 45.5,2.8 46.8,11.0 47.6,5.4 48.5,2.4 48.9,2.1 49.3,2.2 50.2,3.4 51.5,1.1 52.3,0.6 53.6,0.3 65.2,-0.3 75.1,0.4 77.2,0.7 79.4,2.2 82.4,0.8 88.8,-0.1 102.1,0.0 109.4,0.9 112.8,1.9 115.4,1.5 118.4,2.4 120.5,1.4 122.7,1.3 124.0,1.8 124.8,2.7 125.3,2.6 126.6,1.2 127.4,1.0 128.3,1.4 129.1,2.8 129.6,4.6 130.4,12.6 131.3,6.1 132.1,2.5 132.6,1.9 133.4,1.4 135.6,1.4 136.9,1.8 137.7,2.4 138.6,3.8 139.0,5.2 139.9,11.5 140.7,26.0 141.1,25.6 142.4,8.1 142.9,6.4 143.3,6.1 144.6,12.2 145.4,5.1 145.9,3.5 146.7,2.1 147.6,1.7 148.4,1.7 149.3,2.3 149.7,3.1 150.2,4.7 151.0,13.8 151.4,15.6 152.3,5.4 153.2,2.1 154.0,1.2 154.9,1.0 155.7,1.1 157.9,2.6 160.0,1.3 161.7,1.3 163.0,1.8 165.2,3.5 168.2,1.3 171.6,0.7 171.6,69.0 0,69.0" fill="#fff" stroke="url(#zg)" stroke-width="0.5" stroke-dasharray="290.16 3000"/><line x1="171.6" y1="1.0" x2="171.6" y2="69.5" stroke="#c4cced" stroke-width="0.95"/></g>
<g transform="translate(29.16,383.09)"><polygon points="0.0,-0.0 3.4,-0.0 6.4,0.6 8.2,1.3 10.3,3.0 11.2,3.3 13.7,1.3 16.3,0.6 21.4,0.5 28.7,-0.1 39.0,-0.1 42.5,0.3 44.6,1.4 45.5,3.0 46.8,12.1 47.6,5.8 48.5,2.7 48.9,2.3 49.3,2.4 50.2,3.9 51.5,1.2 52.3,0.6 53.6,0.3 65.2,-0.3 75.5,0.4 77.6,1.0 79.4,2.3 82.4,0.8 89.2,-0.1 102.5,0.1 109.4,0.9 112.8,2.1 115.4,1.6 118.4,2.6 120.5,1.5 122.7,1.3 124.0,1.9 124.8,3.0 125.3,2.9 126.6,1.4 127.4,1.2 128.3,1.7 129.1,3.4 129.6,5.7 130.4,15.5 131.3,7.5 132.1,3.0 132.6,2.3 133.4,1.7 135.6,1.6 136.9,2.1 137.7,2.9 138.6,4.6 139.0,6.2 139.9,13.7 140.7,30.9 141.1,30.4 142.4,9.5 142.9,7.6 143.3,7.2 144.6,14.4 145.4,6.0 145.9,4.0 146.7,2.5 147.6,2.0 148.4,2.0 149.3,2.8 149.7,3.7 150.2,5.6 151.0,16.4 151.4,18.5 152.3,6.5 153.2,2.6 154.0,1.5 154.9,1.2 155.7,1.3 157.9,3.0 160.0,1.6 161.7,1.5 163.0,2.2 165.2,4.2 165.6,4.1 168.2,1.5 171.6,0.7 171.6,69.0 0,69.0" fill="#fff" stroke="url(#zg)" stroke-width="0.5" stroke-dasharray="315.40 3000"/><line x1="171.6" y1="1.0" x2="171.6" y2="69.5" stroke="#c4cced" stroke-width="0.95"/></g>
<g transform="translate(27.79,384.84)"><polygon points="0.0,-0.0 3.4,-0.0 6.4,0.5 8.2,1.3 10.3,3.1 11.2,3.5 13.7,1.4 16.3,0.6 21.9,0.5 29.2,-0.1 39.5,-0.0 42.5,0.4 44.6,1.5 45.5,3.2 46.8,13.1 47.6,6.2 48.5,2.8 48.9,2.5 49.3,2.6 50.2,4.3 51.5,1.4 52.3,0.7 53.6,0.3 67.4,-0.2 76.4,0.6 77.6,1.0 79.4,2.4 82.4,0.8 89.2,-0.1 103.0,0.1 109.0,0.9 112.8,2.3 115.4,1.7 118.4,2.8 120.5,1.5 122.7,1.3 124.0,2.0 124.8,3.3 125.3,3.2 126.6,1.6 127.4,1.5 128.3,2.0 129.1,4.1 129.6,6.7 130.4,18.4 131.3,8.9 132.1,3.5 132.6,2.6 133.4,1.9 135.6,1.9 136.9,2.4 137.7,3.3 138.6,5.2 139.0,7.1 139.9,15.7 140.7,35.6 141.1,35.0 142.4,10.9 142.9,8.7 143.3,8.3 144.6,16.5 145.4,6.8 145.9,4.6 146.7,2.8 147.6,2.3 148.4,2.3 149.3,3.2 149.7,4.2 150.2,6.4 151.0,18.8 151.4,21.3 152.3,7.5 153.2,3.0 154.0,1.7 154.9,1.4 155.7,1.5 157.9,3.3 160.0,1.8 161.7,1.8 163.0,2.5 165.2,4.9 165.6,4.7 167.3,2.4 168.2,1.7 169.5,1.1 171.6,0.8 171.6,69.0 0,69.0" fill="#fff" stroke="url(#zg)" stroke-width="0.5" stroke-dasharray="339.94 3000"/><line x1="171.6" y1="1.1" x2="171.6" y2="69.5" stroke="#c4cced" stroke-width="0.95"/></g>
<g transform="translate(26.43,386.59)"><polygon points="0.0,-0.0 3.4,-0.1 6.4,0.5 8.2,1.3 11.2,3.6 14.2,1.2 16.7,0.5 21.9,0.4 29.6,-0.2 39.9,0.0 42.9,0.5 44.6,1.6 45.5,3.3 46.8,13.9 47.6,6.6 48.5,3.0 48.9,2.6 49.3,2.8 50.2,4.7 51.5,1.5 52.3,0.7 54.1,0.2 65.6,-0.2 75.5,0.5 77.6,1.1 79.4,2.5 82.4,0.7 89.7,-0.1 103.8,0.2 109.4,1.0 112.8,2.5 115.4,1.8 118.4,3.0 118.8,2.9 120.5,1.5 122.3,1.3 123.6,1.7 124.8,3.6 125.3,3.5 126.6,1.8 127.4,1.7 128.3,2.3 129.1,4.6 129.6,7.7 130.4,21.1 131.3,10.1 132.1,4.0 132.6,3.0 133.4,2.1 134.3,1.9 135.6,2.1 136.9,2.7 137.7,3.7 138.6,5.8 139.0,7.9 139.9,17.6 140.7,39.7 141.1,39.1 142.4,12.2 142.9,9.7 143.3,9.2 144.6,18.4 145.4,7.5 145.9,5.0 146.7,3.0 147.6,2.5 148.4,2.6 149.3,3.5 149.7,4.7 150.2,7.2 151.0,21.0 151.4,23.8 152.3,8.4 153.2,3.4 154.0,2.0 154.9,1.6 155.7,1.7 157.9,3.6 160.0,2.0 161.7,2.0 163.0,2.9 165.2,5.5 165.6,5.3 167.3,2.7 168.2,1.9 169.5,1.2 171.6,0.8 171.6,69.0 0,69.0" fill="#fff" stroke="url(#zg)" stroke-width="0.5" stroke-dasharray="362.32 3000"/><line x1="171.6" y1="1.1" x2="171.6" y2="69.5" stroke="#c4cced" stroke-width="0.95"/></g>
<g transform="translate(25.06,388.34)"><polygon points="0.0,-0.0 3.4,-0.1 6.4,0.5 8.6,1.6 11.2,3.8 14.2,1.2 16.7,0.5 22.3,0.4 29.6,-0.2 39.9,0.1 42.9,0.5 44.6,1.6 45.5,3.4 46.8,14.6 47.6,6.9 48.5,3.2 48.9,2.8 49.3,3.0 50.2,5.0 51.5,1.6 52.3,0.7 54.1,0.2 66.1,-0.2 75.5,0.6 77.6,1.1 79.4,2.6 79.8,2.5 81.1,1.3 82.4,0.7 89.7,-0.1 92.7,-0.2 104.2,0.3 109.4,1.0 112.8,2.6 114.5,1.9 115.8,1.9 118.4,3.1 118.8,3.0 120.5,1.5 122.3,1.3 123.6,1.8 124.8,3.8 125.3,3.8 126.6,1.9 127.4,1.8 128.3,2.6 129.1,5.1 129.6,8.5 130.4,23.3 131.3,11.2 132.1,4.4 132.6,3.2 133.4,2.3 134.3,2.1 135.6,2.2 136.9,2.9 137.7,4.0 138.6,6.4 139.0,8.6 139.9,19.1 140.7,43.2 141.1,42.5 142.4,13.2 142.9,10.5 143.3,10.0 144.6,19.9 145.4,8.1 145.9,5.4 146.7,3.3 147.6,2.6 148.4,2.7 149.3,3.8 149.7,5.1 150.2,7.8 151.0,22.9 151.4,25.9 152.3,9.1 153.2,3.7 154.0,2.2 154.9,1.7 155.7,1.8 157.9,3.9 160.0,2.2 161.7,2.2 163.0,3.2 165.2,6.1 165.6,5.8 167.3,2.9 168.2,2.0 169.5,1.3 171.6,0.8 171.6,69.0 0,69.0" fill="#fff" stroke="url(#zg)" stroke-width="0.5" stroke-dasharray="381.38 3000"/><line x1="171.6" y1="1.1" x2="171.6" y2="69.5" stroke="#c4cced" stroke-width="0.95"/></g>
<g transform="translate(23.70,390.09)"><polygon points="0.0,-0.0 3.9,-0.0 6.9,0.6 8.6,1.6 11.2,3.9 14.2,1.3 16.7,0.5 29.6,-0.2 40.3,0.2 42.9,0.6 44.6,1.6 45.5,3.5 46.8,15.2 47.6,7.1 48.5,3.3 48.9,2.9 49.3,3.1 50.2,5.2 51.5,1.6 52.3,0.8 54.1,0.2 66.5,-0.2 75.5,0.6 77.6,1.2 79.4,2.7 79.8,2.6 81.9,0.8 84.1,0.4 91.8,-0.2 104.2,0.3 109.4,1.0 112.8,2.7 114.5,2.0 115.8,2.0 118.4,3.2 118.8,3.2 120.5,1.5 121.8,1.2 123.6,1.8 124.8,4.1 125.3,4.0 126.6,2.1 127.4,2.0 128.3,2.8 129.1,5.6 129.6,9.1 130.4,25.1 131.3,12.0 132.1,4.7 132.6,3.5 133.4,2.4 134.3,2.2 135.6,2.3 136.9,3.1 137.7,4.3 138.6,6.8 139.0,9.2 139.9,20.3 140.7,46.0 141.1,45.2 142.4,14.1 142.9,11.1 143.3,10.6 144.6,21.1 145.4,8.6 145.9,5.7 146.7,3.4 147.6,2.8 148.4,2.9 149.3,4.0 149.7,5.5 150.2,8.3 151.0,24.3 151.4,27.5 152.3,9.7 153.2,4.0 154.0,2.4 154.9,1.9 155.7,2.0 157.9,4.2 160.0,2.3 161.7,2.4 163.0,3.4 164.7,6.2 165.2,6.5 165.6,6.3 167.3,3.1 168.2,2.1 169.5,1.3 171.6,0.8 171.6,69.0 0,69.0" fill="#fff" stroke="url(#zg)" stroke-width="0.5" stroke-dasharray="396.51 3000"/><line x1="171.6" y1="1.1" x2="171.6" y2="69.5" stroke="#b4dcf0" stroke-width="0.95"/></g>
<g transform="translate(22.33,391.84)"><polygon points="0.0,-0.0 3.9,-0.0 6.9,0.6 8.6,1.5 11.2,4.0 14.2,1.3 17.2,0.5 30.0,-0.2 40.8,0.2 42.9,0.6 44.6,1.7 45.5,3.6 46.8,15.6 47.6,7.3 48.5,3.3 48.9,2.9 49.3,3.2 50.2,5.4 51.5,1.7 52.3,0.8 54.1,0.2 66.5,-0.1 75.5,0.7 77.6,1.2 79.4,2.7 79.8,2.7 81.9,0.8 84.1,0.4 92.2,-0.2 99.1,0.3 105.1,0.4 109.4,1.0 112.4,2.7 113.3,2.7 114.5,2.1 115.4,2.0 118.4,3.4 118.8,3.3 120.5,1.6 121.8,1.2 122.7,1.4 123.6,1.9 124.8,4.2 125.3,4.2 126.6,2.2 127.4,2.2 128.3,3.0 129.1,5.9 129.6,9.6 130.4,26.4 131.3,12.6 132.1,4.9 132.6,3.6 133.4,2.5 134.3,2.2 135.6,2.4 136.9,3.2 137.7,4.4 138.6,7.1 139.0,9.6 139.9,21.3 140.7,48.1 141.1,47.3 142.4,14.7 142.9,11.6 143.3,11.0 144.6,22.1 145.4,9.0 145.9,5.9 146.7,3.5 147.6,2.9 148.4,3.0 149.3,4.2 149.7,5.7 150.2,8.7 151.0,25.5 151.4,28.8 152.3,10.2 153.2,4.2 154.0,2.5 154.9,2.0 155.7,2.1 157.9,4.3 160.0,2.4 161.7,2.5 163.0,3.6 164.7,6.5 165.2,6.8 165.6,6.6 167.3,3.3 168.2,2.2 169.5,1.3 171.6,0.8 171.6,69.0 0,69.0" fill="#fff" stroke="url(#zg)" stroke-width="0.5" stroke-dasharray="408.19 3000"/><line x1="171.6" y1="1.1" x2="171.6" y2="69.5" stroke="#b4dcf0" stroke-width="0.95"/></g>
<g transform="translate(20.96,393.60)"><polygon points="0.0,0.0 3.9,-0.0 6.9,0.6 8.6,1.5 11.2,4.0 14.2,1.4 17.2,0.5 30.0,-0.3 40.8,0.3 42.9,0.6 44.6,1.7 45.5,3.6 46.8,16.0 47.6,7.4 48.5,3.4 48.9,3.0 49.3,3.3 50.2,5.5 51.1,2.7 51.9,1.1 52.8,0.6 54.5,0.1 66.9,-0.1 75.5,0.7 77.6,1.3 79.4,2.8 79.8,2.7 81.9,0.8 84.1,0.3 92.7,-0.2 99.5,0.4 105.5,0.4 109.4,1.0 112.8,2.9 115.4,2.1 117.1,2.7 118.4,3.5 118.8,3.4 120.5,1.6 121.8,1.2 122.7,1.4 123.6,1.9 124.8,4.4 125.3,4.4 126.6,2.3 127.4,2.3 128.3,3.1 129.1,6.1 129.6,10.0 130.4,27.3 131.3,13.1 132.1,5.1 132.6,3.7 133.4,2.6 134.3,2.3 135.6,2.5 136.9,3.3 137.7,4.6 138.6,7.3 139.0,9.9 139.9,22.0 140.7,49.7 141.1,48.9 142.4,15.2 142.9,12.0 143.3,11.4 144.6,22.8 145.4,9.2 145.9,6.1 146.7,3.6 147.6,2.9 148.4,3.1 149.3,4.3 149.7,5.9 150.2,9.0 151.0,26.3 151.4,29.8 152.3,10.6 153.2,4.4 154.0,2.7 154.9,2.1 155.7,2.2 157.9,4.5 160.0,2.5 160.9,2.3 161.7,2.6 163.0,3.7 164.7,6.7 165.2,7.1 165.6,6.8 167.3,3.4 168.2,2.3 169.5,1.4 171.6,0.8 171.6,69.0 0,69.0" fill="#fff" stroke="url(#zg)" stroke-width="0.5" stroke-dasharray="416.89 3000"/><line x1="171.6" y1="1.1" x2="171.6" y2="69.5" stroke="#b4dcf0" stroke-width="0.95"/></g>
<g transform="translate(19.60,395.35)"><polygon points="0.0,0.0 4.3,0.0 6.9,0.6 8.6,1.5 11.2,4.1 14.2,1.4 15.4,0.8 17.6,0.4 30.5,-0.3 41.2,0.4 43.3,0.8 44.6,1.7 45.5,3.7 46.8,16.2 47.6,7.5 48.5,3.4 48.9,3.0 49.3,3.3 50.2,5.6 51.1,2.8 51.9,1.2 52.8,0.6 54.5,0.1 67.4,-0.0 75.5,0.7 77.6,1.3 79.4,2.8 79.8,2.8 81.9,0.7 84.1,0.3 92.7,-0.2 100.0,0.4 106.0,0.4 109.8,1.2 112.8,3.0 115.4,2.1 118.4,3.5 118.8,3.4 120.5,1.6 121.8,1.2 122.7,1.4 123.6,2.0 124.8,4.5 125.3,4.5 126.6,2.4 127.4,2.4 128.3,3.2 129.1,6.3 129.6,10.3 130.4,28.0 131.3,13.4 132.1,5.2 132.6,3.8 133.4,2.7 134.3,2.3 135.6,2.5 136.9,3.4 137.7,4.7 138.6,7.5 139.0,10.1 139.9,22.5 140.7,50.8 141.1,50.0 142.4,15.5 142.9,12.2 143.3,11.6 144.6,23.3 145.4,9.4 145.9,6.2 146.7,3.7 147.6,3.0 148.4,3.1 149.3,4.4 149.7,6.0 150.2,9.2 151.0,27.0 151.4,30.5 152.3,10.9 153.2,4.6 154.0,2.8 154.9,2.2 155.7,2.3 157.9,4.6 160.0,2.5 160.9,2.4 161.7,2.6 163.0,3.8 164.7,6.9 165.2,7.2 165.6,7.0 167.3,3.5 168.2,2.3 169.5,1.4 171.6,0.7 171.6,69.0 0,69.0" fill="#fff" stroke="url(#zg)" stroke-width="0.5" stroke-dasharray="423.18 3000"/><line x1="171.6" y1="1.0" x2="171.6" y2="69.5" stroke="#b4dcf0" stroke-width="0.95"/></g>
<g transform="translate(18.23,397.10)"><polygon points="0.0,0.0 4.3,0.1 6.9,0.6 8.6,1.5 11.2,4.2 14.2,1.4 15.9,0.7 18.0,0.4 30.5,-0.3 41.2,0.4 43.3,0.8 44.6,1.7 45.5,3.7 46.8,16.4 47.6,7.6 48.5,3.4 48.9,3.0 49.3,3.3 50.2,5.7 51.5,1.8 52.3,0.8 54.1,0.2 57.1,-0.1 67.4,-0.0 75.5,0.7 77.6,1.3 79.4,2.9 79.8,2.8 81.9,0.7 84.1,0.2 93.1,-0.2 100.0,0.4 106.4,0.5 109.8,1.1 112.8,3.0 115.4,2.2 118.4,3.6 118.8,3.5 120.5,1.6 122.3,1.3 123.6,2.0 124.8,4.6 125.3,4.6 126.1,2.9 127.0,2.4 127.8,2.8 128.7,4.4 129.6,10.5 130.4,28.5 131.3,13.7 132.1,5.3 132.6,3.9 133.4,2.7 134.3,2.3 135.6,2.5 136.9,3.4 137.7,4.7 138.6,7.6 139.0,10.3 139.9,22.9 140.7,51.7 141.1,50.9 142.4,15.8 142.9,12.4 143.3,11.8 144.6,23.6 145.4,9.5 145.9,6.2 146.7,3.7 147.6,3.0 148.4,3.2 149.3,4.5 149.7,6.1 150.2,9.3 151.0,27.5 151.4,31.1 152.3,11.1 153.2,4.7 154.0,2.9 154.9,2.3 155.7,2.4 157.9,4.7 160.0,2.6 160.9,2.4 161.7,2.7 163.0,3.9 164.7,7.0 165.2,7.4 165.6,7.1 167.3,3.5 168.2,2.3 169.5,1.4 171.6,0.7 171.6,69.0 0,69.0" fill="#fff" stroke="url(#zg)" stroke-width="0.5" stroke-dasharray="428.21 3000"/><line x1="171.6" y1="1.0" x2="171.6" y2="69.5" stroke="#b4dcf0" stroke-width="0.95"/></g>
<g transform="translate(16.87,398.85)"><polygon points="0.0,0.0 4.3,0.1 6.9,0.6 8.6,1.5 11.2,4.2 14.6,1.2 18.4,0.3 30.9,-0.2 41.6,0.5 43.3,0.8 44.6,1.7 45.5,3.7 46.8,16.5 47.6,7.6 48.5,3.4 48.9,3.0 49.3,3.3 50.2,5.7 51.1,2.8 51.9,1.2 52.8,0.6 54.5,0.1 57.5,-0.1 68.2,0.1 75.5,0.7 77.6,1.3 79.4,2.9 79.8,2.8 81.9,0.7 84.1,0.2 93.1,-0.1 100.4,0.5 106.4,0.5 109.8,1.1 112.8,3.0 114.5,2.3 115.4,2.2 118.4,3.7 118.8,3.6 120.5,1.6 122.3,1.3 123.6,2.0 124.8,4.7 125.3,4.7 126.1,3.0 127.0,2.4 127.8,2.8 128.7,4.5 129.6,10.7 130.4,28.9 131.3,13.8 132.1,5.4 132.6,3.9 133.4,2.7 134.3,2.3 135.6,2.5 136.9,3.4 137.7,4.8 138.6,7.6 139.0,10.4 139.9,23.1 140.7,52.3 141.1,51.5 142.4,15.9 142.9,12.6 143.3,11.9 144.6,23.9 145.4,9.6 145.9,6.3 146.7,3.7 147.6,3.0 148.4,3.2 149.3,4.5 149.7,6.2 150.2,9.5 151.0,27.8 151.4,31.5 152.3,11.3 153.2,4.8 154.0,2.9 154.9,2.4 155.7,2.5 157.9,4.8 159.6,2.9 160.4,2.5 161.3,2.5 162.2,3.0 163.0,3.9 164.7,7.1 165.2,7.5 165.6,7.2 167.3,3.6 168.2,2.4 169.5,1.3 171.6,0.6 171.6,69.0 0,69.0" fill="#fff" stroke="url(#zg)" stroke-width="0.5" stroke-dasharray="431.98 3000"/><line x1="171.6" y1="0.9" x2="171.6" y2="69.5" stroke="#b4dcf0" stroke-width="0.95"/></g>
<g transform="translate(15.50,400.60)"><polygon points="0.0,0.1 4.3,0.1 6.9,0.6 8.6,1.5 11.2,4.2 14.6,1.3 18.4,0.3 30.9,-0.2 43.3,0.8 44.6,1.7 45.5,3.7 46.8,16.6 47.6,7.7 48.5,3.4 48.9,3.0 49.3,3.3 50.2,5.7 51.1,2.8 51.9,1.2 52.8,0.6 54.5,0.1 57.5,-0.2 68.6,0.1 75.1,0.7 77.2,1.1 79.4,2.9 79.8,2.8 81.9,0.7 84.1,0.2 93.5,-0.1 100.4,0.5 106.8,0.5 109.8,1.1 112.8,3.0 114.5,2.3 115.4,2.3 118.4,3.7 118.8,3.6 120.5,1.7 122.3,1.3 123.6,2.1 124.8,4.8 125.3,4.8 126.1,3.1 127.0,2.5 127.8,2.9 128.7,4.6 129.6,10.8 130.4,29.1 131.3,14.0 132.1,5.4 132.6,4.0 133.4,2.7 134.3,2.3 135.6,2.5 136.9,3.4 137.7,4.8 138.6,7.7 139.0,10.5 139.9,23.3 140.7,52.7 141.1,51.9 142.4,16.1 142.9,12.7 143.3,12.0 144.6,24.1 145.4,9.7 145.9,6.3 146.7,3.7 147.6,3.0 148.4,3.2 149.3,4.6 149.7,6.3 150.2,9.5 151.0,28.1 151.4,31.8 152.3,11.4 153.2,4.9 154.0,3.0 154.9,2.4 155.7,2.5 157.9,4.9 159.6,2.9 160.4,2.5 161.3,2.5 162.2,3.0 163.0,3.9 164.7,7.2 165.2,7.5 165.6,7.2 167.3,3.6 168.2,2.4 169.5,1.3 171.6,0.6 171.6,69.0 0,69.0" fill="#fff" stroke="url(#zg)" stroke-width="0.5" stroke-dasharray="434.07 3000"/><line x1="171.6" y1="0.9" x2="171.6" y2="69.5" stroke="#b4dcf0" stroke-width="0.95"/><line x1="0.4" y1="0.1" x2="0.4" y2="69.0" stroke="#a8e0f0" stroke-width="0.7"/></g>
<line x1="187.10" y1="400.60" x2="243.10" y2="328.80" stroke="#3c5ae6" stroke-width="1.1"/>
<polyline points="12.30,469.6 12.30,388.2 69.70,316.40 248.50,316.40 248.50,397.80" fill="none" stroke="#1a1a1a" stroke-width="0.9"/>
<polyline points="12.30,469.6 191.10,469.6 248.50,397.80" fill="none" stroke="#1a1a1a" stroke-width="1.0"/>
<line x1="15.50" y1="469.6" x2="15.50" y2="471.20000000000005" stroke="#1a1a1a" stroke-width="0.6"/>
<line x1="21.48" y1="469.6" x2="21.48" y2="470.5" stroke="#1a1a1a" stroke-width="0.6"/>
<line x1="27.45" y1="469.6" x2="27.45" y2="471.20000000000005" stroke="#1a1a1a" stroke-width="0.6"/>
<line x1="33.42" y1="469.6" x2="33.42" y2="470.5" stroke="#1a1a1a" stroke-width="0.6"/>
<line x1="39.40" y1="469.6" x2="39.40" y2="471.20000000000005" stroke="#1a1a1a" stroke-width="0.6"/>
<line x1="45.38" y1="469.6" x2="45.38" y2="470.5" stroke="#1a1a1a" stroke-width="0.6"/>
<line x1="51.35" y1="469.6" x2="51.35" y2="471.20000000000005" stroke="#1a1a1a" stroke-width="0.6"/>
<line x1="57.32" y1="469.6" x2="57.32" y2="470.5" stroke="#1a1a1a" stroke-width="0.6"/>
<line x1="63.30" y1="469.6" x2="63.30" y2="471.20000000000005" stroke="#1a1a1a" stroke-width="0.6"/>
<line x1="69.28" y1="469.6" x2="69.28" y2="470.5" stroke="#1a1a1a" stroke-width="0.6"/>
<line x1="75.25" y1="469.6" x2="75.25" y2="471.20000000000005" stroke="#1a1a1a" stroke-width="0.6"/>
<line x1="81.22" y1="469.6" x2="81.22" y2="470.5" stroke="#1a1a1a" stroke-width="0.6"/>
<line x1="87.20" y1="469.6" x2="87.20" y2="471.20000000000005" stroke="#1a1a1a" stroke-width="0.6"/>
<line x1="93.17" y1="469.6" x2="93.17" y2="470.5" stroke="#1a1a1a" stroke-width="0.6"/>
<line x1="99.15" y1="469.6" x2="99.15" y2="471.20000000000005" stroke="#1a1a1a" stroke-width="0.6"/>
<line x1="105.12" y1="469.6" x2="105.12" y2="470.5" stroke="#1a1a1a" stroke-width="0.6"/>
<line x1="111.10" y1="469.6" x2="111.10" y2="471.20000000000005" stroke="#1a1a1a" stroke-width="0.6"/>
<line x1="117.07" y1="469.6" x2="117.07" y2="470.5" stroke="#1a1a1a" stroke-width="0.6"/>
<line x1="123.05" y1="469.6" x2="123.05" y2="471.20000000000005" stroke="#1a1a1a" stroke-width="0.6"/>
<line x1="129.02" y1="469.6" x2="129.02" y2="470.5" stroke="#1a1a1a" stroke-width="0.6"/>
<line x1="135.00" y1="469.6" x2="135.00" y2="471.20000000000005" stroke="#1a1a1a" stroke-width="0.6"/>
<line x1="140.97" y1="469.6" x2="140.97" y2="470.5" stroke="#1a1a1a" stroke-width="0.6"/>
<line x1="146.95" y1="469.6" x2="146.95" y2="471.20000000000005" stroke="#1a1a1a" stroke-width="0.6"/>
<line x1="152.92" y1="469.6" x2="152.92" y2="470.5" stroke="#1a1a1a" stroke-width="0.6"/>
<line x1="158.90" y1="469.6" x2="158.90" y2="471.20000000000005" stroke="#1a1a1a" stroke-width="0.6"/>
<line x1="164.88" y1="469.6" x2="164.88" y2="470.5" stroke="#1a1a1a" stroke-width="0.6"/>
<line x1="170.85" y1="469.6" x2="170.85" y2="471.20000000000005" stroke="#1a1a1a" stroke-width="0.6"/>
<line x1="176.82" y1="469.6" x2="176.82" y2="470.5" stroke="#1a1a1a" stroke-width="0.6"/>
<line x1="182.80" y1="469.6" x2="182.80" y2="471.20000000000005" stroke="#1a1a1a" stroke-width="0.6"/>
<text transform="translate(10.50,483.0) rotate(-30)" font-size="6.4" fill="#111" text-anchor="middle">4000</text>
<text transform="translate(22.45,483.0) rotate(-30)" font-size="6.4" fill="#111" text-anchor="middle">3750</text>
<text transform="translate(34.40,483.0) rotate(-30)" font-size="6.4" fill="#111" text-anchor="middle">3500</text>
<text transform="translate(46.35,483.0) rotate(-30)" font-size="6.4" fill="#111" text-anchor="middle">3250</text>
<text transform="translate(58.30,483.0) rotate(-30)" font-size="6.4" fill="#111" text-anchor="middle">3000</text>
<text transform="translate(70.25,483.0) rotate(-30)" font-size="6.4" fill="#111" text-anchor="middle">2750</text>
<text transform="translate(82.20,483.0) rotate(-30)" font-size="6.4" fill="#111" text-anchor="middle">2500</text>
<text transform="translate(94.15,483.0) rotate(-30)" font-size="6.4" fill="#111" text-anchor="middle">2250</text>
<text transform="translate(106.10,483.0) rotate(-30)" font-size="6.4" fill="#111" text-anchor="middle">2000</text>
<text transform="translate(118.05,483.0) rotate(-30)" font-size="6.4" fill="#111" text-anchor="middle">1750</text>
<text transform="translate(130.00,483.0) rotate(-30)" font-size="6.4" fill="#111" text-anchor="middle">1500</text>
<text transform="translate(141.95,483.0) rotate(-30)" font-size="6.4" fill="#111" text-anchor="middle">1250</text>
<text transform="translate(153.90,483.0) rotate(-30)" font-size="6.4" fill="#111" text-anchor="middle">1000</text>
<text transform="translate(165.85,483.0) rotate(-30)" font-size="6.4" fill="#111" text-anchor="middle">750</text>
<text transform="translate(177.80,483.0) rotate(-30)" font-size="6.4" fill="#111" text-anchor="middle">500</text>
<text transform="translate(79.30,309.0) rotate(-30)" font-size="6.1" fill="#111" text-anchor="middle">4000</text>
<text transform="translate(91.22,309.0) rotate(-30)" font-size="6.1" fill="#111" text-anchor="middle">3750</text>
<text transform="translate(103.14,309.0) rotate(-30)" font-size="6.1" fill="#111" text-anchor="middle">3500</text>
<text transform="translate(115.06,309.0) rotate(-30)" font-size="6.1" fill="#111" text-anchor="middle">3250</text>
<text transform="translate(126.98,309.0) rotate(-30)" font-size="6.1" fill="#111" text-anchor="middle">3000</text>
<text transform="translate(138.90,309.0) rotate(-30)" font-size="6.1" fill="#111" text-anchor="middle">2750</text>
<text transform="translate(150.82,309.0) rotate(-30)" font-size="6.1" fill="#111" text-anchor="middle">2500</text>
<text transform="translate(162.74,309.0) rotate(-30)" font-size="6.1" fill="#111" text-anchor="middle">2250</text>
<text transform="translate(174.66,309.0) rotate(-30)" font-size="6.1" fill="#111" text-anchor="middle">2000</text>
<text transform="translate(186.58,309.0) rotate(-30)" font-size="6.1" fill="#111" text-anchor="middle">1750</text>
<text transform="translate(198.50,309.0) rotate(-30)" font-size="6.1" fill="#111" text-anchor="middle">1500</text>
<text transform="translate(210.42,309.0) rotate(-30)" font-size="6.1" fill="#111" text-anchor="middle">1250</text>
<text transform="translate(222.34,309.0) rotate(-30)" font-size="6.1" fill="#111" text-anchor="middle">1000</text>
<text transform="translate(234.26,309.0) rotate(-30)" font-size="6.1" fill="#111" text-anchor="middle">750</text>
<text transform="translate(246.18,309.0) rotate(-30)" font-size="6.1" fill="#111" text-anchor="middle">500</text>
<line x1="248.50" y1="397.80" x2="250.10" y2="398.40" stroke="#1a1a1a" stroke-width="0.6"/>
<text transform="translate(258.20,399.50) rotate(-12) skewX(-40) scale(1.15,0.8)" font-size="5.4" font-weight="bold" fill="#222" text-anchor="middle">50</text>
<line x1="244.40" y1="402.93" x2="246.00" y2="403.53" stroke="#1a1a1a" stroke-width="0.6"/>
<text transform="translate(254.31,404.63) rotate(-12) skewX(-40) scale(1.15,0.8)" font-size="5.4" font-weight="bold" fill="#222" text-anchor="middle">100</text>
<line x1="240.30" y1="408.06" x2="241.90" y2="408.66" stroke="#1a1a1a" stroke-width="0.6"/>
<text transform="translate(250.43,409.76) rotate(-12) skewX(-40) scale(1.15,0.8)" font-size="5.4" font-weight="bold" fill="#222" text-anchor="middle">150</text>
<line x1="236.20" y1="413.19" x2="237.80" y2="413.79" stroke="#1a1a1a" stroke-width="0.6"/>
<text transform="translate(246.54,414.89) rotate(-12) skewX(-40) scale(1.15,0.8)" font-size="5.4" font-weight="bold" fill="#222" text-anchor="middle">200</text>
<line x1="232.10" y1="418.31" x2="233.70" y2="418.91" stroke="#1a1a1a" stroke-width="0.6"/>
<text transform="translate(242.66,420.01) rotate(-12) skewX(-40) scale(1.15,0.8)" font-size="5.4" font-weight="bold" fill="#222" text-anchor="middle">250</text>
<line x1="228.00" y1="423.44" x2="229.60" y2="424.04" stroke="#1a1a1a" stroke-width="0.6"/>
<text transform="translate(238.77,425.14) rotate(-12) skewX(-40) scale(1.15,0.8)" font-size="5.4" font-weight="bold" fill="#222" text-anchor="middle">300</text>
<line x1="223.90" y1="428.57" x2="225.50" y2="429.17" stroke="#1a1a1a" stroke-width="0.6"/>
<text transform="translate(234.89,430.27) rotate(-12) skewX(-40) scale(1.15,0.8)" font-size="5.4" font-weight="bold" fill="#222" text-anchor="middle">350</text>
<line x1="219.80" y1="433.70" x2="221.40" y2="434.30" stroke="#1a1a1a" stroke-width="0.6"/>
<text transform="translate(231.00,435.40) rotate(-12) skewX(-40) scale(1.15,0.8)" font-size="5.4" font-weight="bold" fill="#222" text-anchor="middle">400</text>
<line x1="215.70" y1="438.83" x2="217.30" y2="439.43" stroke="#1a1a1a" stroke-width="0.6"/>
<text transform="translate(227.11,440.53) rotate(-12) skewX(-40) scale(1.15,0.8)" font-size="5.4" font-weight="bold" fill="#222" text-anchor="middle">450</text>
<line x1="211.60" y1="443.96" x2="213.20" y2="444.56" stroke="#1a1a1a" stroke-width="0.6"/>
<text transform="translate(223.23,445.66) rotate(-12) skewX(-40) scale(1.15,0.8)" font-size="5.4" font-weight="bold" fill="#222" text-anchor="middle">500</text>
<line x1="207.50" y1="449.09" x2="209.10" y2="449.69" stroke="#1a1a1a" stroke-width="0.6"/>
<text transform="translate(219.34,450.79) rotate(-12) skewX(-40) scale(1.15,0.8)" font-size="5.4" font-weight="bold" fill="#222" text-anchor="middle">550</text>
<line x1="203.40" y1="454.21" x2="205.00" y2="454.81" stroke="#1a1a1a" stroke-width="0.6"/>
<text transform="translate(215.46,455.91) rotate(-12) skewX(-40) scale(1.15,0.8)" font-size="5.4" font-weight="bold" fill="#222" text-anchor="middle">600</text>
<line x1="199.30" y1="459.34" x2="200.90" y2="459.94" stroke="#1a1a1a" stroke-width="0.6"/>
<text transform="translate(211.57,461.04) rotate(-12) skewX(-40) scale(1.15,0.8)" font-size="5.4" font-weight="bold" fill="#222" text-anchor="middle">650</text>
<line x1="195.20" y1="464.47" x2="196.80" y2="465.07" stroke="#1a1a1a" stroke-width="0.6"/>
<text transform="translate(207.69,466.17) rotate(-12) skewX(-40) scale(1.15,0.8)" font-size="5.4" font-weight="bold" fill="#222" text-anchor="middle">700</text>
<line x1="191.10" y1="469.60" x2="192.70" y2="470.20" stroke="#1a1a1a" stroke-width="0.6"/>
<text transform="translate(203.80,471.30) rotate(-12) skewX(-40) scale(1.15,0.8)" font-size="5.4" font-weight="bold" fill="#222" text-anchor="middle">750</text>
<text transform="translate(241.40,441.00) rotate(-49)" font-size="6.5" font-weight="bold" fill="#111" stroke="#111" stroke-width="0.2" text-anchor="middle">Temperature (°C)</text>
<line x1="248.50" y1="317.60" x2="249.60" y2="317.60" stroke="#1a1a1a" stroke-width="0.5"/>
<line x1="248.50" y1="319.96" x2="249.60" y2="319.96" stroke="#1a1a1a" stroke-width="0.5"/>
<line x1="248.50" y1="322.32" x2="249.60" y2="322.32" stroke="#1a1a1a" stroke-width="0.5"/>
<line x1="248.50" y1="324.68" x2="249.60" y2="324.68" stroke="#1a1a1a" stroke-width="0.5"/>
<line x1="248.50" y1="327.04" x2="249.60" y2="327.04" stroke="#1a1a1a" stroke-width="0.5"/>
<line x1="248.50" y1="329.40" x2="249.60" y2="329.40" stroke="#1a1a1a" stroke-width="0.5"/>
<line x1="248.50" y1="331.76" x2="249.60" y2="331.76" stroke="#1a1a1a" stroke-width="0.5"/>
<line x1="248.50" y1="334.12" x2="249.60" y2="334.12" stroke="#1a1a1a" stroke-width="0.5"/>
<line x1="248.50" y1="336.48" x2="249.60" y2="336.48" stroke="#1a1a1a" stroke-width="0.5"/>
<line x1="248.50" y1="338.84" x2="249.60" y2="338.84" stroke="#1a1a1a" stroke-width="0.5"/>
<line x1="248.50" y1="341.20" x2="249.60" y2="341.20" stroke="#1a1a1a" stroke-width="0.5"/>
<line x1="248.50" y1="343.56" x2="249.60" y2="343.56" stroke="#1a1a1a" stroke-width="0.5"/>
<line x1="248.50" y1="345.92" x2="249.60" y2="345.92" stroke="#1a1a1a" stroke-width="0.5"/>
<line x1="248.50" y1="348.28" x2="249.60" y2="348.28" stroke="#1a1a1a" stroke-width="0.5"/>
<line x1="248.50" y1="350.64" x2="249.60" y2="350.64" stroke="#1a1a1a" stroke-width="0.5"/>
<line x1="248.50" y1="353.00" x2="249.60" y2="353.00" stroke="#1a1a1a" stroke-width="0.5"/>
<line x1="248.50" y1="355.36" x2="249.60" y2="355.36" stroke="#1a1a1a" stroke-width="0.5"/>
<line x1="248.50" y1="357.72" x2="249.60" y2="357.72" stroke="#1a1a1a" stroke-width="0.5"/>
<line x1="248.50" y1="360.08" x2="249.60" y2="360.08" stroke="#1a1a1a" stroke-width="0.5"/>
<line x1="248.50" y1="362.44" x2="249.60" y2="362.44" stroke="#1a1a1a" stroke-width="0.5"/>
<line x1="248.50" y1="364.80" x2="249.60" y2="364.80" stroke="#1a1a1a" stroke-width="0.5"/>
<line x1="248.50" y1="367.16" x2="249.60" y2="367.16" stroke="#1a1a1a" stroke-width="0.5"/>
<line x1="248.50" y1="369.52" x2="249.60" y2="369.52" stroke="#1a1a1a" stroke-width="0.5"/>
<line x1="248.50" y1="371.88" x2="249.60" y2="371.88" stroke="#1a1a1a" stroke-width="0.5"/>
<line x1="248.50" y1="374.24" x2="249.60" y2="374.24" stroke="#1a1a1a" stroke-width="0.5"/>
<line x1="248.50" y1="376.60" x2="249.60" y2="376.60" stroke="#1a1a1a" stroke-width="0.5"/>
<line x1="248.50" y1="378.96" x2="249.60" y2="378.96" stroke="#1a1a1a" stroke-width="0.5"/>
<line x1="248.50" y1="381.32" x2="249.60" y2="381.32" stroke="#1a1a1a" stroke-width="0.5"/>
<line x1="248.50" y1="383.68" x2="249.60" y2="383.68" stroke="#1a1a1a" stroke-width="0.5"/>
<line x1="248.50" y1="386.04" x2="249.60" y2="386.04" stroke="#1a1a1a" stroke-width="0.5"/>
<line x1="248.50" y1="388.40" x2="249.60" y2="388.40" stroke="#1a1a1a" stroke-width="0.5"/>
<line x1="248.50" y1="390.76" x2="249.60" y2="390.76" stroke="#1a1a1a" stroke-width="0.5"/>
<line x1="248.50" y1="393.12" x2="249.60" y2="393.12" stroke="#1a1a1a" stroke-width="0.5"/>
<line x1="248.50" y1="395.48" x2="249.60" y2="395.48" stroke="#1a1a1a" stroke-width="0.5"/>
<line x1="248.50" y1="329.50" x2="250.50" y2="329.50" stroke="#1a1a1a" stroke-width="0.7"/>
<line x1="248.50" y1="346.00" x2="250.50" y2="346.00" stroke="#1a1a1a" stroke-width="0.7"/>
<line x1="248.50" y1="362.50" x2="250.50" y2="362.50" stroke="#1a1a1a" stroke-width="0.7"/>
<line x1="248.50" y1="379.00" x2="250.50" y2="379.00" stroke="#1a1a1a" stroke-width="0.7"/>
<line x1="248.50" y1="395.50" x2="250.50" y2="395.50" stroke="#1a1a1a" stroke-width="0.7"/>
<text transform="translate(259.90,356.20) rotate(-90)" x="0" y="2.30" font-size="6.4" font-weight="bold" fill="#111" stroke="#111" stroke-width="0.3" text-anchor="middle">Transmittance (%)</text>
<text x="110.00" y="495.80" font-size="6.6" font-weight="bold" fill="#111" stroke="#111" stroke-width="0.2" text-anchor="middle">Wavenumbers (cm<tspan font-size="4.2" dy="-2.5">-1</tspan><tspan dy="2.5">)</tspan></text>
<rect x="343.00" y="316.40" width="178.80" height="14.40" fill="#fff"/>
<line x1="346.00" y1="316.40" x2="346.00" y2="329.80" stroke="#cfcfcf" stroke-width="0.5"/>
<line x1="357.92" y1="316.40" x2="357.92" y2="329.80" stroke="#cfcfcf" stroke-width="0.5"/>
<line x1="369.84" y1="316.40" x2="369.84" y2="329.80" stroke="#cfcfcf" stroke-width="0.5"/>
<line x1="381.76" y1="316.40" x2="381.76" y2="329.80" stroke="#cfcfcf" stroke-width="0.5"/>
<line x1="393.68" y1="316.40" x2="393.68" y2="329.80" stroke="#cfcfcf" stroke-width="0.5"/>
<line x1="405.60" y1="316.40" x2="405.60" y2="329.80" stroke="#cfcfcf" stroke-width="0.5"/>
<line x1="417.52" y1="316.40" x2="417.52" y2="329.80" stroke="#cfcfcf" stroke-width="0.5"/>
<line x1="429.44" y1="316.40" x2="429.44" y2="329.80" stroke="#cfcfcf" stroke-width="0.5"/>
<line x1="441.36" y1="316.40" x2="441.36" y2="329.80" stroke="#cfcfcf" stroke-width="0.5"/>
<line x1="453.28" y1="316.40" x2="453.28" y2="329.80" stroke="#cfcfcf" stroke-width="0.5"/>
<line x1="465.20" y1="316.40" x2="465.20" y2="329.80" stroke="#cfcfcf" stroke-width="0.5"/>
<line x1="477.12" y1="316.40" x2="477.12" y2="329.80" stroke="#cfcfcf" stroke-width="0.5"/>
<line x1="489.04" y1="316.40" x2="489.04" y2="329.80" stroke="#cfcfcf" stroke-width="0.5"/>
<line x1="500.96" y1="316.40" x2="500.96" y2="329.80" stroke="#cfcfcf" stroke-width="0.5"/>
<line x1="512.88" y1="316.40" x2="512.88" y2="329.80" stroke="#cfcfcf" stroke-width="0.5"/>
<line x1="343.00" y1="318.80" x2="521.80" y2="318.80" stroke="#e2e2e2" stroke-width="0.4"/>
<line x1="343.00" y1="321.20" x2="521.80" y2="321.20" stroke="#e2e2e2" stroke-width="0.4"/>
<line x1="343.00" y1="323.60" x2="521.80" y2="323.60" stroke="#e2e2e2" stroke-width="0.4"/>
<line x1="343.00" y1="326.00" x2="521.80" y2="326.00" stroke="#e2e2e2" stroke-width="0.4"/>
<line x1="343.00" y1="328.40" x2="521.80" y2="328.40" stroke="#e2e2e2" stroke-width="0.4"/>
<polygon points="285.60,388.20 343.00,316.40 344.80,328.80 288.80,400.60 285.60,401.60" fill="#fff"/>
<line x1="285.60" y1="388.20" x2="285.60" y2="401.60" stroke="#c4c4c4" stroke-width="0.5"/>
<line x1="290.00" y1="382.70" x2="290.00" y2="396.10" stroke="#c4c4c4" stroke-width="0.5"/>
<line x1="294.40" y1="377.19" x2="294.40" y2="390.59" stroke="#c4c4c4" stroke-width="0.5"/>
<line x1="298.80" y1="371.69" x2="298.80" y2="385.09" stroke="#c4c4c4" stroke-width="0.5"/>
<line x1="303.20" y1="366.18" x2="303.20" y2="379.58" stroke="#c4c4c4" stroke-width="0.5"/>
<line x1="307.60" y1="360.68" x2="307.60" y2="374.08" stroke="#c4c4c4" stroke-width="0.5"/>
<line x1="312.00" y1="355.18" x2="312.00" y2="368.58" stroke="#c4c4c4" stroke-width="0.5"/>
<line x1="316.40" y1="349.67" x2="316.40" y2="363.07" stroke="#c4c4c4" stroke-width="0.5"/>
<line x1="320.80" y1="344.17" x2="320.80" y2="357.57" stroke="#c4c4c4" stroke-width="0.5"/>
<line x1="325.20" y1="338.67" x2="325.20" y2="352.07" stroke="#c4c4c4" stroke-width="0.5"/>
<line x1="329.60" y1="333.16" x2="329.60" y2="346.56" stroke="#c4c4c4" stroke-width="0.5"/>
<line x1="334.00" y1="327.66" x2="334.00" y2="341.06" stroke="#c4c4c4" stroke-width="0.5"/>
<line x1="338.40" y1="322.15" x2="338.40" y2="335.55" stroke="#c4c4c4" stroke-width="0.5"/>
<line x1="342.80" y1="316.65" x2="342.80" y2="330.05" stroke="#c4c4c4" stroke-width="0.5"/>
<g transform="translate(344.80,328.80)"><polygon points="0.0,-0.2 8.2,-0.2 15.4,0.3 33.5,-0.3 41.2,0.2 52.3,0.2 59.6,-0.3 77.6,0.3 85.8,-0.2 96.5,-0.2 103.8,0.3 121.8,-0.3 129.1,0.2 139.9,0.3 148.0,-0.3 160.0,-0.1 166.0,0.3 171.6,-0.0 171.6,69.0 0,69.0" fill="#fff" stroke="url(#zg)" stroke-width="0.5" stroke-dasharray="171.63 3000"/><line x1="171.6" y1="0.3" x2="171.6" y2="69.5" stroke="#c4cced" stroke-width="0.95"/></g>
<g transform="translate(343.43,330.55)"><polygon points="0.0,-0.2 8.2,-0.1 15.4,0.4 21.9,-0.1 33.5,-0.3 41.6,0.3 52.8,0.1 59.6,-0.3 77.6,0.3 85.8,-0.2 97.0,-0.2 104.2,0.3 121.8,-0.3 130.8,0.2 141.6,0.2 148.4,-0.3 166.0,0.3 171.6,-0.0 171.6,69.0 0,69.0" fill="#fff" stroke="url(#zg)" stroke-width="0.5" stroke-dasharray="171.63 3000"/><line x1="171.6" y1="0.3" x2="171.6" y2="69.5" stroke="#c4cced" stroke-width="0.95"/></g>
<g transform="translate(342.07,332.30)"><polygon points="0.0,-0.2 15.4,0.4 23.2,-0.1 34.3,-0.3 42.0,0.3 53.2,0.1 60.1,-0.4 66.5,0.1 78.1,0.3 86.2,-0.3 97.4,-0.1 104.2,0.4 122.3,-0.3 131.3,0.3 142.4,0.2 148.4,-0.3 166.5,0.3 171.6,-0.1 171.6,69.0 0,69.0" fill="#fff" stroke="url(#zg)" stroke-width="0.5" stroke-dasharray="171.67 3000"/><line x1="171.6" y1="0.2" x2="171.6" y2="69.5" stroke="#c4cced" stroke-width="0.95"/></g>
<g transform="translate(340.70,334.05)"><polygon points="0.0,-0.2 15.4,0.4 22.7,-0.2 33.9,-0.2 41.2,0.3 47.2,0.3 60.1,-0.3 66.9,0.1 78.5,0.3 86.2,-0.3 97.8,-0.1 104.2,0.4 111.1,-0.1 122.3,-0.3 131.3,0.4 136.4,0.1 142.9,0.2 148.4,-0.3 153.2,0.1 166.5,0.3 171.6,-0.1 171.6,69.0 0,69.0" fill="#fff" stroke="url(#zg)" stroke-width="0.5" stroke-dasharray="171.69 3000"/><line x1="171.6" y1="0.2" x2="171.6" y2="69.5" stroke="#c4cced" stroke-width="0.95"/></g>
<g transform="translate(339.34,335.80)"><polygon points="0.0,-0.2 11.6,0.4 16.7,0.4 24.0,-0.2 34.7,-0.2 41.2,0.3 47.2,0.4 48.9,0.1 60.1,-0.3 67.8,0.2 79.4,0.3 86.7,-0.3 104.7,0.3 111.5,-0.1 123.1,-0.2 131.3,0.5 136.4,0.1 142.9,0.3 148.4,-0.3 153.2,0.1 167.3,0.3 171.6,-0.1 171.6,69.0 0,69.0" fill="#fff" stroke="url(#zg)" stroke-width="0.5" stroke-dasharray="171.72 3000"/><line x1="171.6" y1="0.2" x2="171.6" y2="69.5" stroke="#c4cced" stroke-width="0.95"/></g>
<g transform="translate(337.97,337.56)"><polygon points="0.0,-0.3 11.2,0.5 24.0,-0.2 35.2,-0.1 47.2,0.5 49.3,0.0 60.1,-0.3 68.2,0.2 79.8,0.2 86.7,-0.3 104.7,0.3 112.0,-0.2 123.1,-0.2 131.3,0.6 136.9,0.1 142.9,0.4 148.9,-0.3 153.2,0.2 167.3,0.3 171.6,-0.1 171.6,69.0 0,69.0" fill="#fff" stroke="url(#zg)" stroke-width="0.5" stroke-dasharray="171.79 3000"/><line x1="171.6" y1="0.2" x2="171.6" y2="69.5" stroke="#c4cced" stroke-width="0.95"/></g>
<g transform="translate(336.60,339.31)"><polygon points="0.0,-0.3 11.2,0.6 24.5,-0.3 36.0,-0.1 41.6,0.4 45.5,0.3 47.2,0.7 49.3,0.0 60.5,-0.3 68.6,0.3 79.8,0.2 86.7,-0.3 104.7,0.3 112.4,-0.2 123.6,-0.2 131.3,0.7 136.9,0.1 142.9,0.4 148.9,-0.3 151.4,-0.2 153.2,0.2 167.7,0.2 171.6,-0.1 171.6,69.0 0,69.0" fill="#fff" stroke="url(#zg)" stroke-width="0.5" stroke-dasharray="171.96 3000"/><line x1="171.6" y1="0.2" x2="171.6" y2="69.5" stroke="#c4cced" stroke-width="0.95"/></g>
<g transform="translate(335.24,341.06)"><polygon points="0.0,-0.3 11.2,0.8 24.5,-0.3 45.0,0.4 47.2,0.8 48.5,0.2 49.8,-0.1 60.5,-0.3 68.6,0.3 74.6,0.1 79.8,0.3 86.7,-0.3 93.5,0.1 104.7,0.3 112.4,-0.3 123.6,-0.1 131.3,0.7 137.3,0.1 139.4,0.5 141.1,0.2 142.9,0.5 148.9,-0.3 151.4,-0.1 153.2,0.3 171.6,-0.1 171.6,69.0 0,69.0" fill="#fff" stroke="url(#zg)" stroke-width="0.5" stroke-dasharray="172.13 3000"/><line x1="171.6" y1="0.2" x2="171.6" y2="69.5" stroke="#c4cced" stroke-width="0.95"/></g>
<g transform="translate(333.87,342.81)"><polygon points="0.0,-0.2 10.7,1.0 14.2,0.4 24.9,-0.3 45.0,0.4 47.2,1.0 48.5,0.2 49.8,-0.1 60.5,-0.2 69.1,0.3 75.1,0.1 79.8,0.3 87.1,-0.3 94.0,0.1 105.5,0.3 113.7,-0.3 125.7,-0.0 131.3,0.8 137.3,0.1 139.4,0.5 141.1,0.2 142.9,0.6 148.9,-0.2 151.4,-0.1 153.2,0.4 171.6,-0.1 171.6,69.0 0,69.0" fill="#fff" stroke="url(#zg)" stroke-width="0.5" stroke-dasharray="172.37 3000"/><line x1="171.6" y1="0.2" x2="171.6" y2="69.5" stroke="#c4cced" stroke-width="0.95"/></g>
<g transform="translate(332.51,344.56)"><polygon points="0.0,-0.2 8.2,0.6 10.7,1.2 14.2,0.5 24.9,-0.3 45.0,0.4 47.2,1.2 48.9,0.1 51.5,-0.2 61.8,-0.2 69.5,0.3 75.5,0.0 79.8,0.3 87.1,-0.3 94.4,0.2 106.0,0.2 114.1,-0.3 126.1,0.1 129.6,0.4 131.3,0.9 133.8,0.8 137.3,0.1 139.4,0.6 141.1,0.2 142.9,0.7 145.9,0.1 149.3,-0.2 151.4,-0.1 153.2,0.4 171.6,-0.1 171.6,69.0 0,69.0" fill="#fff" stroke="url(#zg)" stroke-width="0.5" stroke-dasharray="172.73 3000"/><line x1="171.6" y1="0.2" x2="171.6" y2="69.5" stroke="#c4cced" stroke-width="0.95"/></g>
<g transform="translate(331.14,346.31)"><polygon points="0.0,-0.2 7.7,0.7 10.7,1.4 14.6,0.4 25.3,-0.3 44.6,0.4 45.9,0.7 47.2,1.5 48.9,0.1 51.5,-0.2 62.2,-0.1 69.1,0.4 76.4,0.0 79.8,0.4 87.1,-0.3 95.7,0.2 106.4,0.2 114.1,-0.3 127.4,0.2 129.6,0.4 131.3,1.0 133.8,1.0 137.3,0.2 139.4,0.6 141.1,0.2 142.9,0.9 145.9,0.2 148.9,-0.1 151.4,-0.0 153.2,0.5 154.4,0.2 158.3,0.4 171.6,-0.1 171.6,69.0 0,69.0" fill="#fff" stroke="url(#zg)" stroke-width="0.5" stroke-dasharray="173.29 3000"/><line x1="171.6" y1="0.2" x2="171.6" y2="69.5" stroke="#c4cced" stroke-width="0.95"/></g>
<g transform="translate(329.78,348.06)"><polygon points="0.0,-0.2 7.3,0.7 10.7,1.7 14.6,0.5 25.3,-0.3 31.7,0.1 38.2,0.1 44.6,0.5 45.9,0.8 47.2,1.8 48.0,0.7 48.9,0.2 51.9,-0.2 62.6,-0.1 69.5,0.4 76.4,0.0 79.8,0.4 87.1,-0.3 95.7,0.3 106.8,0.1 114.1,-0.3 127.4,0.2 129.6,0.4 131.3,1.1 133.8,1.2 137.3,0.2 139.4,0.7 141.1,0.3 142.9,1.1 145.9,0.2 148.9,-0.1 151.4,0.0 153.2,0.6 154.4,0.3 158.7,0.4 171.6,-0.1 171.6,69.0 0,69.0" fill="#fff" stroke="url(#zg)" stroke-width="0.5" stroke-dasharray="173.96 3000"/><line x1="171.6" y1="0.2" x2="171.6" y2="69.5" stroke="#c4cced" stroke-width="0.95"/></g>
<g transform="translate(328.41,349.81)"><polygon points="0.0,-0.1 7.3,0.8 10.7,2.0 14.6,0.5 24.0,-0.3 32.6,0.2 39.9,0.2 45.0,0.6 45.9,0.9 46.8,2.0 47.2,2.1 48.0,0.9 48.9,0.3 51.9,-0.2 63.1,-0.0 69.5,0.4 76.4,0.0 79.8,0.5 87.1,-0.2 96.1,0.3 114.5,-0.3 120.5,0.1 128.3,0.3 130.0,0.6 131.3,1.1 132.1,1.0 133.8,1.4 136.0,0.5 137.3,0.3 139.4,0.8 141.1,0.3 142.9,1.3 145.9,0.3 148.9,0.0 151.4,0.1 153.2,0.6 154.4,0.3 158.7,0.4 164.7,-0.0 171.6,-0.1 171.6,69.0 0,69.0" fill="#fff" stroke="url(#zg)" stroke-width="0.5" stroke-dasharray="174.69 3000"/><line x1="171.6" y1="0.2" x2="171.6" y2="69.5" stroke="#c4cced" stroke-width="0.95"/></g>
<g transform="translate(327.04,351.57)"><polygon points="0.0,-0.1 6.9,0.9 10.7,2.3 11.6,2.1 13.7,0.8 15.0,0.5 23.6,-0.2 26.6,-0.2 33.0,0.3 41.2,0.2 45.5,0.8 47.2,2.5 48.0,1.1 48.9,0.3 51.9,-0.2 69.5,0.4 76.4,0.0 79.8,0.6 87.5,-0.2 96.1,0.3 114.5,-0.3 121.0,0.2 128.3,0.3 130.0,0.6 131.3,1.2 132.1,1.1 133.8,1.6 136.0,0.6 137.3,0.3 138.1,0.4 139.4,0.9 141.1,0.4 142.9,1.5 143.7,1.4 145.9,0.4 148.9,0.1 151.4,0.1 153.2,0.7 154.9,0.3 158.7,0.4 165.2,-0.1 171.6,-0.1 171.6,69.0 0,69.0" fill="#fff" stroke="url(#zg)" stroke-width="0.5" stroke-dasharray="175.68 3000"/><line x1="171.6" y1="0.2" x2="171.6" y2="69.5" stroke="#c4cced" stroke-width="0.95"/></g>
<g transform="translate(325.68,353.32)"><polygon points="0.0,-0.0 6.9,0.9 10.7,2.6 11.6,2.4 14.2,0.7 16.7,0.3 25.7,-0.2 33.0,0.3 42.0,0.3 45.5,0.8 46.8,2.7 47.2,2.9 48.0,1.2 48.9,0.4 50.2,-0.0 52.3,-0.2 69.9,0.4 76.4,0.1 79.8,0.7 82.8,0.2 87.5,-0.1 96.5,0.4 115.0,-0.3 121.0,0.2 128.7,0.3 130.0,0.6 131.3,1.3 132.1,1.2 133.8,1.9 136.0,0.7 137.3,0.4 138.1,0.4 139.4,1.1 141.1,0.5 142.9,1.8 143.3,1.8 145.9,0.5 148.4,0.2 151.4,0.2 153.2,0.8 154.9,0.3 159.2,0.4 165.2,-0.1 171.6,-0.1 171.6,69.0 0,69.0" fill="#fff" stroke="url(#zg)" stroke-width="0.5" stroke-dasharray="177.08 3000"/><line x1="171.6" y1="0.2" x2="171.6" y2="69.5" stroke="#c4cced" stroke-width="0.95"/></g>
<g transform="translate(324.31,355.07)"><polygon points="0.0,0.0 3.4,0.3 6.9,1.0 10.7,3.0 11.6,2.7 14.2,0.8 16.7,0.3 25.7,-0.2 33.5,0.4 42.0,0.2 44.6,0.6 45.5,0.9 46.8,3.0 47.2,3.3 48.0,1.4 48.9,0.5 50.2,-0.0 52.3,-0.2 69.9,0.4 76.4,0.1 79.8,0.9 82.8,0.2 87.5,-0.1 96.5,0.4 102.5,-0.0 115.4,-0.3 121.4,0.3 128.7,0.3 130.0,0.6 131.3,1.4 132.1,1.3 133.8,2.2 136.0,0.8 137.3,0.5 138.1,0.5 139.4,1.2 140.3,0.7 141.1,0.6 142.9,2.0 143.3,2.1 145.9,0.6 148.0,0.3 151.4,0.3 153.2,0.9 154.9,0.3 160.0,0.4 165.6,-0.1 171.6,-0.1 171.6,69.0 0,69.0" fill="#fff" stroke="url(#zg)" stroke-width="0.5" stroke-dasharray="178.51 3000"/><line x1="171.6" y1="0.2" x2="171.6" y2="69.5" stroke="#c4cced" stroke-width="0.95"/></g>
<g transform="translate(322.95,356.82)"><polygon points="0.0,0.1 3.4,0.4 6.4,1.0 8.2,1.7 10.7,3.3 11.6,3.0 14.2,0.9 16.7,0.3 26.2,-0.2 33.5,0.4 42.0,0.2 44.6,0.6 45.5,1.0 46.8,3.4 47.2,3.7 48.0,1.6 48.9,0.6 50.2,0.0 52.3,-0.2 69.9,0.3 76.4,0.1 79.8,1.0 82.8,0.3 87.5,-0.0 96.5,0.4 103.4,-0.1 115.4,-0.2 121.8,0.3 129.1,0.4 131.3,1.5 132.1,1.4 133.8,2.4 136.0,0.9 137.3,0.5 138.1,0.6 139.4,1.4 140.3,0.8 141.1,0.7 142.9,2.3 143.3,2.4 145.9,0.8 148.0,0.4 151.4,0.3 153.2,1.0 154.9,0.3 161.3,0.3 165.6,-0.1 171.6,-0.1 171.6,69.0 0,69.0" fill="#fff" stroke="url(#zg)" stroke-width="0.5" stroke-dasharray="179.85 3000"/><line x1="171.6" y1="0.2" x2="171.6" y2="69.5" stroke="#c4cced" stroke-width="0.95"/></g>
<g transform="translate(321.58,358.57)"><polygon points="0.0,0.1 3.4,0.4 6.4,1.0 8.2,1.8 10.7,3.7 11.6,3.3 14.2,1.0 16.7,0.3 26.2,-0.1 33.9,0.5 42.5,0.2 44.6,0.6 45.5,1.1 46.8,3.7 47.2,4.1 48.0,1.8 48.9,0.7 50.2,0.1 52.3,-0.2 60.1,0.2 76.4,0.1 79.8,1.1 82.8,0.3 87.9,0.0 97.0,0.4 103.8,-0.1 115.4,-0.2 121.8,0.4 129.1,0.4 130.0,0.7 131.3,1.6 132.1,1.5 133.8,2.7 135.6,1.2 136.9,0.7 138.1,0.7 139.4,1.6 140.3,0.9 141.1,0.8 142.0,1.5 142.9,2.6 143.3,2.7 143.7,2.6 145.4,1.1 147.6,0.5 151.4,0.4 153.2,1.2 154.0,0.5 155.3,0.3 161.3,0.4 165.6,-0.1 171.6,-0.1 171.6,69.0 0,69.0" fill="#fff" stroke="url(#zg)" stroke-width="0.5" stroke-dasharray="181.79 3000"/><line x1="171.6" y1="0.2" x2="171.6" y2="69.5" stroke="#c4cced" stroke-width="0.95"/></g>
<g transform="translate(320.21,360.32)"><polygon points="0.0,0.2 3.4,0.4 6.4,1.1 8.2,1.9 10.7,4.0 11.6,3.6 14.2,1.1 16.7,0.3 27.0,-0.1 34.3,0.5 42.5,0.2 44.6,0.6 45.5,1.1 46.8,4.1 47.2,4.4 48.0,2.0 48.9,0.8 50.6,0.0 52.8,-0.2 60.1,0.3 75.9,0.1 77.6,0.4 79.8,1.2 82.8,0.3 87.9,0.1 97.0,0.4 104.2,-0.2 115.8,-0.1 122.3,0.4 129.1,0.4 130.0,0.7 131.3,1.6 132.1,1.6 133.8,2.9 135.6,1.3 136.9,0.7 138.1,0.8 139.4,1.8 140.3,1.1 141.1,0.9 142.0,1.6 142.9,2.9 143.3,3.0 143.7,2.9 145.4,1.2 147.6,0.6 151.4,0.5 153.2,1.3 154.0,0.6 155.3,0.3 161.7,0.4 165.6,-0.1 171.6,-0.1 171.6,69.0 0,69.0" fill="#fff" stroke="url(#zg)" stroke-width="0.5" stroke-dasharray="183.20 3000"/><line x1="171.6" y1="0.2" x2="171.6" y2="69.5" stroke="#c4cced" stroke-width="0.95"/></g>
<g transform="translate(318.85,362.07)"><polygon points="0.0,0.3 3.4,0.4 6.4,1.1 8.2,2.0 10.7,4.3 11.6,3.9 14.2,1.2 15.4,0.6 17.2,0.2 27.5,0.0 34.3,0.6 42.5,0.2 44.6,0.6 45.5,1.2 46.8,4.3 47.2,4.8 48.0,2.2 48.9,0.9 50.6,0.1 52.8,-0.2 60.5,0.3 75.9,0.2 77.6,0.4 79.8,1.2 81.9,0.5 83.7,0.3 90.5,0.1 97.4,0.4 104.7,-0.2 115.8,-0.1 123.1,0.5 128.3,0.4 130.0,0.7 131.3,1.7 132.1,1.7 133.8,3.0 135.6,1.4 136.9,0.8 138.1,0.9 139.4,2.1 140.3,1.2 141.1,1.1 142.0,1.8 142.9,3.2 143.3,3.3 143.7,3.1 145.4,1.3 147.6,0.6 151.4,0.6 153.2,1.5 154.0,0.7 155.3,0.3 161.7,0.5 165.2,-0.1 171.6,-0.1 171.6,69.0 0,69.0" fill="#fff" stroke="url(#zg)" stroke-width="0.5" stroke-dasharray="184.78 3000"/><line x1="171.6" y1="0.2" x2="171.6" y2="69.5" stroke="#c4cced" stroke-width="0.95"/></g>
<g transform="translate(317.48,363.82)"><polygon points="0.0,0.3 3.9,0.5 6.4,1.1 8.2,2.1 10.7,4.6 11.6,4.2 14.2,1.3 15.4,0.6 17.2,0.2 27.5,0.1 34.7,0.6 42.5,0.2 44.6,0.7 45.5,1.2 46.8,4.6 47.2,5.0 48.0,2.3 48.9,1.0 50.6,0.2 52.8,-0.1 60.5,0.3 75.9,0.2 77.6,0.5 79.8,1.3 83.2,0.3 90.9,0.1 97.8,0.3 104.7,-0.2 112.4,0.1 116.3,-0.0 126.1,0.6 128.7,0.4 130.0,0.7 131.3,1.8 132.1,1.7 133.8,3.1 135.6,1.5 136.4,1.0 138.1,1.0 139.4,2.4 140.3,1.4 141.1,1.2 142.0,2.0 142.9,3.6 143.7,3.3 145.4,1.4 147.1,0.7 151.4,0.6 153.2,1.7 154.0,0.8 155.3,0.3 161.7,0.5 165.2,-0.0 171.6,-0.1 171.6,69.0 0,69.0" fill="#fff" stroke="url(#zg)" stroke-width="0.5" stroke-dasharray="186.34 3000"/><line x1="171.6" y1="0.2" x2="171.6" y2="69.5" stroke="#c4cced" stroke-width="0.95"/></g>
<g transform="translate(316.12,365.58)"><polygon points="0.0,0.4 3.9,0.5 6.4,1.2 8.2,2.1 10.7,4.8 11.6,4.4 14.2,1.4 15.4,0.7 17.2,0.2 27.9,0.1 34.7,0.7 42.5,0.2 44.6,0.7 45.5,1.2 46.8,4.7 47.2,5.2 48.0,2.4 48.9,1.1 50.6,0.2 53.2,-0.1 60.9,0.4 66.9,0.1 75.9,0.2 77.6,0.5 79.8,1.3 83.2,0.3 97.8,0.3 105.1,-0.2 112.4,0.2 116.3,0.1 126.6,0.7 128.7,0.4 130.0,0.7 131.3,1.9 132.1,1.8 133.8,3.2 135.6,1.5 136.4,1.0 137.3,0.9 138.1,1.2 139.4,2.8 140.3,1.6 141.1,1.4 142.0,2.3 142.9,3.9 143.7,3.5 145.4,1.4 147.1,0.7 151.4,0.7 153.2,2.0 154.0,0.9 155.7,0.3 162.2,0.6 165.2,0.1 171.6,-0.1 171.6,69.0 0,69.0" fill="#fff" stroke="url(#zg)" stroke-width="0.5" stroke-dasharray="187.95 3000"/><line x1="171.6" y1="0.2" x2="171.6" y2="69.5" stroke="#c4cced" stroke-width="0.95"/></g>
<g transform="translate(314.75,367.33)"><polygon points="0.0,0.4 3.9,0.6 6.4,1.2 8.2,2.2 10.7,5.0 11.6,4.6 14.2,1.4 15.4,0.7 17.2,0.3 28.3,0.2 34.7,0.8 42.0,0.1 44.6,0.7 45.5,1.3 46.8,4.8 47.2,5.3 48.0,2.5 48.9,1.3 50.6,0.3 53.2,-0.1 60.9,0.4 67.8,0.1 75.9,0.2 77.6,0.5 79.8,1.3 81.9,0.5 83.2,0.3 98.2,0.3 105.1,-0.3 112.4,0.3 116.3,0.1 126.6,0.8 128.7,0.5 130.0,0.8 131.3,2.0 132.1,1.8 132.6,2.0 133.8,3.1 135.6,1.5 136.4,1.1 137.3,1.0 138.1,1.3 139.4,3.3 140.3,1.9 141.1,1.5 141.6,1.8 142.9,4.3 143.7,3.6 145.4,1.4 147.1,0.8 151.4,0.8 153.2,2.3 154.0,1.0 155.7,0.3 159.2,0.3 162.2,0.8 164.7,0.2 171.6,-0.0 171.6,69.0 0,69.0" fill="#fff" stroke="url(#zg)" stroke-width="0.5" stroke-dasharray="189.61 3000"/><line x1="171.6" y1="0.3" x2="171.6" y2="69.5" stroke="#c4cced" stroke-width="0.95"/></g>
<g transform="translate(313.39,369.08)"><polygon points="0.0,0.5 3.9,0.6 6.4,1.1 8.2,2.2 10.7,5.1 11.6,4.7 14.2,1.5 15.4,0.7 17.2,0.3 28.7,0.3 34.7,0.9 42.0,0.2 43.8,0.9 45.0,0.9 45.5,1.3 46.8,4.8 47.2,5.3 48.5,1.7 50.6,0.4 53.2,-0.0 61.3,0.4 68.2,0.0 75.9,0.2 77.6,0.5 79.8,1.3 81.9,0.5 83.2,0.3 98.2,0.2 105.1,-0.3 112.4,0.4 116.3,0.2 124.4,0.6 126.6,0.9 128.7,0.5 130.0,0.8 131.3,2.2 132.1,1.8 132.6,2.0 133.8,3.0 135.6,1.5 136.4,1.1 137.3,1.1 138.1,1.6 139.4,4.0 140.3,2.3 141.1,1.7 141.6,2.0 142.9,4.7 145.4,1.5 147.1,0.8 151.4,0.9 153.2,2.8 154.0,1.2 154.9,0.5 155.7,0.3 159.2,0.3 162.2,0.9 164.7,0.3 167.3,0.4 169.5,-0.1 171.6,-0.0 171.6,69.0 0,69.0" fill="#fff" stroke="url(#zg)" stroke-width="0.5" stroke-dasharray="191.76 3000"/><line x1="171.6" y1="0.3" x2="171.6" y2="69.5" stroke="#c4cced" stroke-width="0.95"/></g>
<g transform="translate(312.02,370.83)"><polygon points="0.0,0.5 4.3,0.6 6.9,1.3 8.6,2.6 10.7,5.3 11.6,4.9 13.3,2.4 14.6,1.2 16.3,0.5 18.4,0.1 29.2,0.4 34.7,0.9 40.3,0.2 42.5,0.3 43.8,1.1 44.6,0.9 45.5,1.3 46.8,4.8 47.2,5.3 48.5,1.8 50.6,0.5 52.3,0.1 55.3,0.0 61.3,0.4 68.6,-0.0 75.5,0.2 77.2,0.4 79.8,1.3 81.9,0.5 83.2,0.3 98.7,0.2 105.5,-0.3 112.8,0.6 115.8,0.3 118.4,0.6 124.0,0.6 126.6,1.1 127.8,0.6 129.1,0.5 130.0,0.8 131.3,2.4 132.1,1.8 133.8,2.9 135.6,1.4 136.9,1.1 138.1,1.8 139.4,4.9 140.3,2.7 140.7,2.1 141.1,2.0 141.6,2.3 142.9,5.3 145.0,1.9 146.7,0.9 149.7,0.7 151.4,1.1 153.2,3.5 154.0,1.4 154.9,0.6 155.7,0.4 159.2,0.3 162.2,1.2 164.7,0.4 167.3,0.7 169.5,0.0 171.6,0.0 171.6,69.0 0,69.0" fill="#fff" stroke="url(#zg)" stroke-width="0.5" stroke-dasharray="195.51 3000"/><line x1="171.6" y1="0.3" x2="171.6" y2="69.5" stroke="#c4cced" stroke-width="0.95"/></g>
<g transform="translate(310.65,372.58)"><polygon points="0.0,0.5 4.3,0.6 6.9,1.3 8.6,2.6 10.3,5.0 11.2,5.4 13.3,2.4 14.6,1.3 16.3,0.5 18.4,0.2 29.2,0.4 34.7,1.0 42.0,0.2 42.9,0.5 43.8,1.4 44.6,1.0 45.5,1.3 46.8,4.7 47.2,5.2 48.5,1.9 49.3,1.6 50.6,0.5 53.6,0.1 61.8,0.4 68.6,-0.0 75.1,0.1 77.2,0.4 79.8,1.3 81.9,0.5 83.2,0.3 99.1,0.2 105.5,-0.3 109.0,-0.0 112.8,0.7 115.8,0.4 118.4,0.7 120.5,0.5 123.6,0.6 126.6,1.3 128.7,0.6 130.0,0.9 131.3,2.7 132.1,1.9 133.8,2.7 136.0,1.2 137.3,1.3 138.1,2.2 139.4,6.1 140.3,3.3 140.7,2.5 141.1,2.4 141.6,2.7 142.4,5.6 142.9,6.2 143.7,4.0 145.0,1.9 146.7,0.9 149.7,0.8 151.4,1.2 153.2,4.3 154.0,1.7 154.9,0.8 155.7,0.4 159.2,0.3 162.2,1.4 164.3,0.6 167.3,0.9 169.5,0.1 171.6,0.0 171.6,69.0 0,69.0" fill="#fff" stroke="url(#zg)" stroke-width="0.5" stroke-dasharray="200.09 3000"/><line x1="171.6" y1="0.3" x2="171.6" y2="69.5" stroke="#c4cced" stroke-width="0.95"/></g>
<g transform="translate(309.29,374.33)"><polygon points="0.0,0.6 4.3,0.6 6.9,1.2 8.6,2.6 10.3,5.1 11.2,5.5 13.3,2.5 14.6,1.3 16.3,0.5 18.9,0.2 29.6,0.5 34.7,1.1 42.0,0.3 42.9,0.6 43.8,1.8 44.6,1.2 45.5,1.3 46.8,4.6 47.2,5.0 48.5,2.0 49.3,1.9 50.2,0.9 51.1,0.5 53.6,0.1 62.2,0.4 71.2,-0.1 76.8,0.3 79.8,1.3 81.9,0.4 83.2,0.3 88.4,0.4 105.5,-0.2 109.0,-0.0 112.8,0.9 115.8,0.5 118.4,0.9 121.0,0.5 123.6,0.6 124.8,0.7 126.6,1.5 127.8,0.8 128.7,0.6 130.0,1.1 131.3,3.2 132.1,2.0 132.6,1.9 133.8,2.5 136.0,1.2 137.3,1.5 138.1,2.6 139.4,7.6 140.7,3.1 141.1,2.8 141.6,3.2 142.4,6.7 142.9,7.2 143.7,4.2 144.6,2.5 145.4,1.5 146.7,0.9 149.7,0.9 151.4,1.4 151.9,2.0 152.7,4.9 153.2,5.4 154.0,2.1 154.9,0.9 155.7,0.5 159.2,0.4 162.2,1.7 164.3,0.7 165.6,0.7 167.3,1.2 169.5,0.2 171.6,0.1 171.6,69.0 0,69.0" fill="#fff" stroke="url(#zg)" stroke-width="0.5" stroke-dasharray="206.81 3000"/><line x1="171.6" y1="0.4" x2="171.6" y2="69.5" stroke="#c4cced" stroke-width="0.95"/></g>
<g transform="translate(307.92,376.08)"><polygon points="0.0,0.6 4.7,0.7 6.9,1.2 8.2,2.1 10.3,5.1 11.2,5.6 13.3,2.5 14.6,1.3 16.3,0.6 18.9,0.2 29.6,0.6 34.3,1.2 40.3,0.4 42.0,0.4 42.9,0.8 43.8,2.2 44.6,1.4 45.0,1.2 45.5,1.3 47.2,4.9 48.0,2.6 48.5,2.1 49.3,2.2 50.2,1.1 51.1,0.6 54.1,0.2 62.2,0.4 71.2,-0.1 76.8,0.3 79.8,1.3 81.9,0.4 83.2,0.3 88.4,0.4 106.4,-0.2 109.4,0.1 112.8,1.1 115.8,0.7 118.4,1.1 121.0,0.5 123.6,0.6 124.8,0.8 126.6,1.8 127.8,0.9 128.7,0.7 130.0,1.2 131.3,3.9 132.1,2.1 132.6,1.9 133.8,2.4 136.0,1.3 137.3,1.7 138.1,3.2 139.4,9.6 140.7,3.7 141.1,3.4 141.6,3.8 142.4,8.1 142.9,8.6 144.1,3.4 145.0,2.0 146.3,1.1 149.3,0.9 150.6,1.1 151.4,1.7 151.9,2.4 152.7,6.2 153.2,6.9 154.0,2.6 154.9,1.1 155.7,0.6 157.4,0.3 159.2,0.4 160.4,0.9 162.2,2.1 164.3,0.9 165.6,1.0 167.3,1.6 169.5,0.4 171.6,0.1 171.6,69.0 0,69.0" fill="#fff" stroke="url(#zg)" stroke-width="0.5" stroke-dasharray="216.51 3000"/><line x1="171.6" y1="0.4" x2="171.6" y2="69.5" stroke="#c4cced" stroke-width="0.95"/></g>
<g transform="translate(306.56,377.83)"><polygon points="0.0,0.6 4.7,0.6 6.9,1.2 8.6,2.5 10.3,5.2 11.2,5.7 13.3,2.6 14.6,1.4 16.3,0.6 18.9,0.2 30.0,0.7 34.3,1.3 40.3,0.5 42.0,0.5 42.9,1.0 43.8,2.7 44.6,1.6 45.0,1.3 45.5,1.4 47.2,4.7 48.0,2.6 48.5,2.2 49.3,2.6 50.6,0.9 51.9,0.5 54.9,0.2 62.6,0.4 71.6,-0.1 76.8,0.3 79.8,1.3 81.5,0.6 83.2,0.3 88.8,0.4 94.8,0.0 106.4,-0.2 109.4,0.2 112.8,1.3 115.8,0.8 118.4,1.3 121.0,0.6 123.6,0.6 124.8,0.9 126.6,2.0 127.8,1.0 128.7,0.8 130.0,1.5 131.3,4.8 132.1,2.4 132.6,2.0 133.8,2.2 136.0,1.3 137.3,2.0 138.1,3.9 139.4,12.1 140.7,4.6 141.1,4.1 141.6,4.6 142.4,9.8 142.9,10.4 144.1,3.7 145.0,2.1 146.3,1.1 148.0,0.9 149.7,1.0 150.6,1.3 151.4,2.0 151.9,2.9 152.7,7.7 153.2,8.6 154.0,3.2 154.9,1.4 155.7,0.8 157.4,0.4 159.2,0.5 160.4,1.1 162.2,2.5 164.3,1.1 165.6,1.2 167.3,2.0 169.5,0.5 171.6,0.2 171.6,69.0 0,69.0" fill="#fff" stroke="url(#zg)" stroke-width="0.5" stroke-dasharray="228.44 3000"/><line x1="171.6" y1="0.5" x2="171.6" y2="69.5" stroke="#c4cced" stroke-width="0.95"/></g>
<g transform="translate(305.19,379.59)"><polygon points="0.0,0.6 4.7,0.6 6.9,1.1 8.6,2.5 10.3,5.2 11.2,5.9 13.3,2.7 14.6,1.4 16.3,0.7 18.9,0.2 30.0,0.8 34.3,1.4 41.6,0.5 42.9,1.2 43.8,3.3 44.6,1.9 45.0,1.4 45.5,1.4 47.2,4.5 48.0,2.6 48.5,2.4 49.3,3.0 50.6,1.0 51.9,0.5 54.9,0.2 63.1,0.4 71.6,-0.2 76.8,0.3 79.8,1.4 82.8,0.3 88.8,0.4 95.7,-0.0 107.7,-0.1 109.8,0.3 112.8,1.5 115.8,0.9 118.4,1.5 120.5,0.7 122.7,0.5 124.8,0.9 126.6,2.3 128.3,1.0 129.6,1.3 130.4,2.9 131.3,6.0 132.1,2.7 132.6,2.1 133.8,2.0 136.0,1.4 137.3,2.3 138.1,4.7 139.4,15.0 140.7,5.5 141.1,4.9 141.6,5.5 142.4,11.9 142.9,12.5 143.3,8.4 144.1,3.9 145.0,2.2 146.3,1.2 148.0,0.9 149.7,1.1 150.6,1.4 151.4,2.3 151.9,3.4 152.7,9.5 153.2,10.7 154.0,3.9 154.9,1.6 155.7,0.9 157.4,0.5 159.2,0.6 160.4,1.3 162.2,3.0 164.3,1.3 165.6,1.5 166.9,2.4 167.3,2.4 169.5,0.7 171.6,0.3 171.6,69.0 0,69.0" fill="#fff" stroke="url(#zg)" stroke-width="0.5" stroke-dasharray="244.15 3000"/><line x1="171.6" y1="0.6" x2="171.6" y2="69.5" stroke="#c4cced" stroke-width="0.95"/></g>
<g transform="translate(303.82,381.34)"><polygon points="0.0,0.6 4.7,0.6 6.9,1.1 8.6,2.4 10.3,5.3 11.2,6.0 13.3,2.7 14.6,1.5 16.3,0.7 18.9,0.3 30.0,0.9 34.3,1.5 39.9,0.6 41.6,0.6 42.5,0.9 42.9,1.4 43.8,3.9 44.2,3.5 44.6,2.2 45.0,1.6 45.5,1.5 45.9,1.8 46.8,3.9 47.2,4.3 48.0,2.6 48.5,2.5 49.3,3.4 50.2,1.6 51.1,0.9 55.8,0.3 63.1,0.3 71.6,-0.2 76.8,0.4 79.8,1.5 81.5,0.6 83.2,0.3 88.8,0.4 95.7,-0.1 106.4,-0.1 109.4,0.3 112.8,1.7 115.8,1.1 118.4,1.8 120.5,0.8 122.7,0.6 124.8,1.0 126.6,2.6 128.3,1.2 129.6,1.5 130.4,3.5 131.3,7.4 132.1,3.2 132.6,2.3 135.6,1.4 136.9,2.1 137.7,3.8 138.6,9.1 139.4,18.2 140.7,6.6 141.1,5.8 141.6,6.5 142.4,14.2 142.9,14.8 143.7,6.2 144.1,4.3 145.0,2.4 145.9,1.5 147.1,1.1 148.9,1.0 150.2,1.4 151.0,2.0 151.9,4.0 152.7,11.5 153.2,12.9 154.0,4.7 154.9,2.0 155.7,1.1 157.4,0.6 159.2,0.7 160.4,1.5 162.2,3.4 163.9,1.8 164.7,1.5 165.6,1.7 166.9,2.8 167.3,2.9 169.5,0.8 171.6,0.3 171.6,69.0 0,69.0" fill="#fff" stroke="url(#zg)" stroke-width="0.5" stroke-dasharray="261.25 3000"/><line x1="171.6" y1="0.6" x2="171.6" y2="69.5" stroke="#c4cced" stroke-width="0.95"/></g>
<g transform="translate(302.46,383.09)"><polygon points="0.0,0.6 5.1,0.7 7.3,1.3 8.6,2.4 10.3,5.4 11.2,6.2 13.3,2.8 14.6,1.5 16.7,0.6 19.3,0.3 30.0,0.9 34.3,1.6 39.5,0.7 41.6,0.7 42.5,1.1 42.9,1.7 43.8,4.5 45.0,1.7 45.5,1.5 45.9,1.8 47.2,4.1 48.0,2.6 48.5,2.7 49.3,3.8 50.2,1.8 51.1,0.9 56.2,0.3 63.5,0.3 72.1,-0.2 76.8,0.4 79.8,1.6 81.5,0.7 83.2,0.3 89.2,0.4 96.5,-0.1 106.4,-0.0 109.8,0.5 112.8,1.9 115.8,1.2 118.4,2.0 120.5,0.9 123.1,0.6 124.8,1.1 126.6,2.9 128.3,1.3 129.1,1.4 129.6,1.8 130.4,4.2 131.3,9.0 132.1,3.7 132.6,2.6 133.0,2.1 135.6,1.5 136.4,1.9 137.3,3.1 138.1,6.6 139.4,21.4 140.7,7.7 141.1,6.8 141.6,7.6 142.4,16.6 142.9,17.2 143.7,6.9 144.6,3.4 145.9,1.7 147.1,1.2 148.9,1.1 150.2,1.5 151.0,2.3 151.9,4.7 152.7,13.5 153.2,15.2 154.0,5.5 154.9,2.3 155.7,1.3 157.4,0.7 159.2,0.8 160.4,1.7 161.7,3.6 162.2,3.8 163.9,2.0 164.7,1.7 165.6,2.0 166.9,3.3 167.3,3.3 169.5,1.0 171.6,0.4 171.6,69.0 0,69.0" fill="#fff" stroke="url(#zg)" stroke-width="0.5" stroke-dasharray="279.38 3000"/><line x1="171.6" y1="0.7" x2="171.6" y2="69.5" stroke="#c4cced" stroke-width="0.95"/></g>
<g transform="translate(301.09,384.84)"><polygon points="0.0,0.5 5.1,0.7 7.3,1.3 8.6,2.4 10.3,5.5 11.2,6.3 13.3,2.9 14.6,1.6 16.7,0.7 19.3,0.3 30.0,1.0 34.3,1.6 39.5,0.8 41.6,0.8 42.5,1.2 42.9,1.9 43.8,5.1 45.0,1.8 45.5,1.6 45.9,1.8 47.2,3.9 48.0,2.6 48.5,2.8 49.3,4.2 50.2,1.9 51.1,1.0 52.3,0.7 56.6,0.3 63.9,0.3 72.1,-0.2 76.8,0.4 79.8,1.7 81.9,0.6 83.7,0.3 89.7,0.4 97.0,-0.1 106.4,0.0 109.8,0.6 112.8,2.1 115.8,1.3 118.4,2.2 121.0,0.8 123.1,0.6 124.8,1.1 126.6,3.2 127.4,2.1 128.3,1.5 129.1,1.6 129.6,2.1 130.4,4.9 131.3,10.5 132.1,4.2 132.6,2.8 133.4,2.0 135.6,1.6 136.4,2.1 137.3,3.5 138.1,7.5 139.4,24.5 140.7,8.8 141.1,7.7 141.6,8.6 142.4,18.9 142.9,19.5 143.7,7.6 144.6,3.6 145.9,1.8 147.1,1.2 148.9,1.2 150.2,1.6 151.0,2.5 151.9,5.3 152.7,15.4 153.2,17.4 154.0,6.2 154.9,2.6 155.7,1.4 157.4,0.8 159.2,0.9 160.4,1.9 161.7,4.0 162.2,4.3 163.9,2.2 164.7,1.9 165.6,2.3 166.9,3.7 167.3,3.7 169.5,1.2 171.6,0.5 171.6,69.0 0,69.0" fill="#fff" stroke="url(#zg)" stroke-width="0.5" stroke-dasharray="297.24 3000"/><line x1="171.6" y1="0.8" x2="171.6" y2="69.5" stroke="#c4cced" stroke-width="0.95"/></g>
<g transform="translate(299.73,386.59)"><polygon points="0.0,0.5 5.1,0.7 7.3,1.3 8.6,2.4 10.3,5.6 11.2,6.4 13.3,2.9 14.6,1.6 16.7,0.8 19.3,0.4 30.0,1.0 34.3,1.7 39.5,0.8 41.6,0.8 42.5,1.3 42.9,2.1 43.8,5.5 45.0,2.0 45.5,1.7 45.9,1.8 47.2,3.8 48.0,2.7 48.5,2.9 49.3,4.5 50.2,2.1 51.1,1.1 52.3,0.7 57.1,0.3 72.5,-0.2 76.8,0.4 79.8,1.8 81.9,0.6 83.7,0.3 90.1,0.4 97.0,-0.2 106.4,0.1 109.8,0.6 112.8,2.3 115.8,1.4 116.7,1.5 118.4,2.4 121.0,0.8 123.1,0.6 124.8,1.2 126.6,3.5 127.4,2.2 128.3,1.6 129.1,1.8 129.6,2.3 130.4,5.6 131.3,11.9 132.1,4.7 132.6,3.1 133.4,2.0 135.1,1.6 136.0,1.9 136.9,2.9 137.7,5.5 138.6,13.5 139.4,27.3 140.7,9.7 141.1,8.5 141.6,9.5 142.4,20.9 142.9,21.6 143.7,8.2 144.6,3.8 145.9,1.9 147.1,1.3 148.9,1.3 150.2,1.7 151.0,2.7 151.9,5.8 152.7,17.1 153.2,19.3 154.0,6.9 154.9,2.8 155.7,1.6 157.4,0.9 159.2,1.0 160.4,2.1 161.7,4.4 162.2,4.6 163.9,2.4 164.7,2.1 165.6,2.5 166.9,4.0 167.3,4.1 169.5,1.3 171.6,0.5 171.6,69.0 0,69.0" fill="#fff" stroke="url(#zg)" stroke-width="0.5" stroke-dasharray="313.27 3000"/><line x1="171.6" y1="0.8" x2="171.6" y2="69.5" stroke="#c4cced" stroke-width="0.95"/></g>
<g transform="translate(298.36,388.34)"><polygon points="0.0,0.5 5.1,0.7 7.3,1.3 8.6,2.4 10.7,6.4 11.2,6.6 13.3,3.0 14.6,1.7 16.7,0.8 19.7,0.4 29.6,1.0 34.3,1.7 39.0,0.9 41.6,0.9 42.5,1.5 42.9,2.2 43.8,6.0 45.0,2.1 45.5,1.7 45.9,1.9 47.2,3.7 48.0,2.7 48.5,3.0 49.3,4.8 50.2,2.2 51.1,1.1 52.3,0.7 57.5,0.3 72.5,-0.2 76.8,0.5 79.8,1.9 81.5,0.8 83.2,0.4 90.1,0.4 98.7,-0.2 108.1,0.3 110.3,0.9 112.8,2.4 115.8,1.5 116.7,1.6 118.4,2.6 121.0,0.9 123.1,0.6 124.8,1.2 126.6,3.7 127.4,2.4 128.3,1.7 129.1,2.0 129.6,2.5 130.4,6.1 131.3,13.1 132.1,5.1 132.6,3.3 133.4,2.1 135.1,1.7 136.0,2.1 136.9,3.1 137.7,5.9 138.6,14.6 139.4,29.6 140.7,10.5 141.1,9.2 141.6,10.2 142.4,22.6 142.9,23.3 143.7,8.7 144.6,4.0 145.9,2.0 147.1,1.4 148.9,1.3 150.2,1.8 151.0,2.9 151.9,6.2 152.7,18.5 153.2,20.9 154.0,7.4 154.9,3.1 155.7,1.7 157.4,0.9 159.2,1.1 160.4,2.2 161.7,4.7 162.2,5.0 163.9,2.6 164.7,2.3 165.6,2.7 166.9,4.4 167.3,4.4 169.5,1.5 171.6,0.6 171.6,69.0 0,69.0" fill="#fff" stroke="url(#zg)" stroke-width="0.5" stroke-dasharray="327.08 3000"/><line x1="171.6" y1="0.9" x2="171.6" y2="69.5" stroke="#c4cced" stroke-width="0.95"/></g>
<g transform="translate(297.00,390.09)"><polygon points="0.0,0.4 5.1,0.7 7.3,1.3 8.6,2.4 10.7,6.5 11.2,6.7 13.3,3.0 14.6,1.7 16.7,0.9 19.7,0.5 29.6,1.1 33.9,1.7 39.0,0.9 41.6,1.0 42.5,1.6 42.9,2.4 43.8,6.3 45.0,2.2 45.5,1.8 45.9,1.9 47.2,3.6 48.0,2.7 48.5,3.1 49.3,5.0 50.2,2.3 51.1,1.2 52.3,0.8 57.9,0.2 72.9,-0.2 77.2,0.6 79.8,2.0 81.9,0.7 83.7,0.4 90.5,0.3 98.7,-0.2 108.1,0.4 110.3,0.9 112.8,2.5 115.8,1.6 116.7,1.7 118.4,2.7 121.0,0.9 123.1,0.6 124.8,1.2 126.6,3.9 127.4,2.5 128.3,1.8 129.1,2.1 129.6,2.7 130.4,6.6 131.3,14.0 132.1,5.5 132.6,3.5 133.4,2.1 135.1,1.7 136.0,2.2 136.9,3.3 137.7,6.3 138.6,15.5 139.4,31.4 140.7,11.1 141.1,9.7 141.6,10.8 142.4,24.0 142.9,24.7 143.7,9.1 144.6,4.2 145.9,2.1 147.1,1.4 148.9,1.3 150.2,1.8 151.0,3.0 151.9,6.5 152.7,19.6 153.2,22.2 154.0,7.9 154.9,3.2 155.7,1.8 157.4,1.0 159.2,1.2 160.4,2.4 161.7,4.9 162.2,5.3 163.9,2.8 164.7,2.4 165.6,2.8 166.9,4.6 167.3,4.7 169.5,1.6 171.6,0.7 171.6,69.0 0,69.0" fill="#fff" stroke="url(#zg)" stroke-width="0.5" stroke-dasharray="337.88 3000"/><line x1="171.6" y1="1.0" x2="171.6" y2="69.5" stroke="#b4dcf0" stroke-width="0.95"/></g>
<g transform="translate(295.63,391.84)"><polygon points="0.0,0.4 5.1,0.7 7.3,1.3 8.6,2.4 10.7,6.6 11.2,6.8 13.3,3.1 14.6,1.8 16.7,0.9 20.2,0.5 29.6,1.1 33.9,1.8 38.6,0.9 41.2,0.9 42.0,1.2 42.9,2.5 43.8,6.6 45.0,2.3 45.5,1.9 45.9,1.9 47.2,3.6 48.0,2.7 48.5,3.1 49.3,5.2 50.2,2.3 51.1,1.2 52.3,0.8 58.3,0.2 72.9,-0.2 76.8,0.5 79.8,2.1 81.9,0.8 83.7,0.4 90.9,0.3 98.7,-0.2 108.5,0.5 110.3,1.0 112.8,2.6 115.8,1.6 116.7,1.8 118.4,2.8 121.0,0.9 123.1,0.6 124.8,1.2 126.6,4.0 127.4,2.6 128.3,1.9 129.1,2.2 129.6,2.8 130.4,6.9 131.3,14.8 132.1,5.8 132.6,3.7 133.4,2.1 134.3,1.8 135.1,1.8 136.0,2.2 136.9,3.5 137.7,6.5 138.6,16.2 139.4,32.9 140.7,11.6 141.1,10.1 141.6,11.3 142.4,25.0 142.9,25.8 143.7,9.4 144.6,4.3 145.9,2.1 147.1,1.5 148.9,1.3 150.2,1.9 151.0,3.0 151.9,6.8 152.7,20.4 153.2,23.1 154.0,8.2 154.9,3.4 155.7,1.9 157.4,1.1 159.2,1.3 160.4,2.5 161.7,5.2 162.2,5.5 163.9,2.9 164.7,2.5 165.6,3.0 166.9,4.9 167.3,5.0 169.5,1.7 171.6,0.7 171.6,69.0 0,69.0" fill="#fff" stroke="url(#zg)" stroke-width="0.5" stroke-dasharray="346.97 3000"/><line x1="171.6" y1="1.0" x2="171.6" y2="69.5" stroke="#b4dcf0" stroke-width="0.95"/></g>
<g transform="translate(294.26,393.60)"><polygon points="0.0,0.4 5.1,0.7 7.3,1.3 8.6,2.5 10.7,6.7 11.2,6.9 13.3,3.1 14.6,1.8 16.7,1.0 20.2,0.5 24.9,0.7 33.9,1.8 38.6,0.9 41.2,0.9 42.0,1.3 42.9,2.6 43.8,6.8 45.0,2.4 45.5,1.9 45.9,2.0 47.2,3.5 48.0,2.7 49.3,5.3 50.2,2.4 51.1,1.2 52.3,0.8 59.2,0.1 73.4,-0.1 77.2,0.7 79.8,2.1 81.9,0.8 84.1,0.4 99.1,-0.2 109.0,0.6 110.3,1.0 112.8,2.7 115.0,1.8 116.3,1.7 118.4,2.9 121.0,1.0 123.6,0.7 124.8,1.2 126.6,4.1 127.4,2.6 128.3,1.9 129.1,2.3 129.6,2.9 130.4,7.2 131.3,15.3 132.1,6.0 132.6,3.8 133.4,2.2 134.3,1.8 135.1,1.8 136.0,2.3 136.9,3.6 137.7,6.7 138.6,16.7 139.4,33.9 140.7,12.0 141.1,10.4 141.6,11.7 142.4,25.8 142.9,26.5 143.7,9.7 144.6,4.4 145.9,2.2 147.1,1.5 148.9,1.3 150.2,1.9 151.0,3.1 151.9,6.9 152.7,21.0 153.2,23.9 154.0,8.4 154.9,3.5 155.7,2.0 157.4,1.1 159.2,1.4 160.4,2.6 161.7,5.3 162.2,5.7 163.9,3.0 164.7,2.6 165.6,3.1 166.9,5.1 167.3,5.2 169.5,1.8 171.6,0.8 171.6,69.0 0,69.0" fill="#fff" stroke="url(#zg)" stroke-width="0.5" stroke-dasharray="352.90 3000"/><line x1="171.6" y1="1.1" x2="171.6" y2="69.5" stroke="#b4dcf0" stroke-width="0.95"/></g>
<g transform="translate(292.90,395.35)"><polygon points="0.0,0.3 5.1,0.7 7.3,1.3 8.6,2.5 10.7,6.7 11.2,7.0 13.3,3.2 14.6,1.8 16.7,1.0 20.6,0.5 25.3,0.7 33.9,1.8 38.6,0.9 41.2,1.0 42.0,1.3 42.9,2.7 43.8,7.0 45.0,2.5 45.5,2.0 45.9,2.0 47.2,3.5 48.0,2.8 49.3,5.4 50.2,2.4 51.1,1.2 52.3,0.8 59.2,0.1 73.8,-0.0 77.2,0.7 79.8,2.2 81.9,0.9 84.1,0.4 99.1,-0.2 109.0,0.7 110.3,1.1 112.8,2.7 115.0,1.8 116.3,1.7 118.4,3.0 121.0,1.0 123.6,0.7 124.8,1.2 126.6,4.2 127.4,2.7 128.3,1.9 129.1,2.3 129.6,3.0 130.4,7.3 131.3,15.7 132.1,6.1 132.6,3.9 133.4,2.2 134.3,1.8 135.1,1.9 136.0,2.4 136.9,3.6 137.7,6.9 138.6,17.1 139.4,34.7 140.7,12.2 141.1,10.7 141.6,11.9 142.4,26.3 142.9,27.1 143.7,9.8 144.6,4.5 145.9,2.2 147.1,1.5 148.9,1.3 150.2,1.9 151.0,3.1 151.9,7.1 152.7,21.5 153.2,24.4 154.0,8.6 154.9,3.5 155.7,2.0 157.4,1.2 159.2,1.4 160.4,2.7 161.7,5.5 162.2,5.9 163.9,3.1 164.7,2.7 165.6,3.2 166.9,5.2 167.3,5.3 169.5,1.9 171.6,0.8 171.6,69.0 0,69.0" fill="#fff" stroke="url(#zg)" stroke-width="0.5" stroke-dasharray="357.63 3000"/><line x1="171.6" y1="1.1" x2="171.6" y2="69.5" stroke="#b4dcf0" stroke-width="0.95"/></g>
<g transform="translate(291.53,397.10)"><polygon points="0.0,0.3 5.1,0.7 7.3,1.4 8.6,2.5 10.7,6.8 11.2,7.1 13.3,3.2 14.6,1.9 16.7,1.1 21.0,0.6 26.2,0.7 33.9,1.8 38.6,0.9 41.2,1.0 42.0,1.4 42.9,2.8 43.8,7.1 45.0,2.5 45.5,2.1 45.9,2.1 47.2,3.6 48.0,2.8 49.3,5.5 50.2,2.4 51.1,1.2 52.3,0.8 59.6,0.1 73.8,-0.0 77.2,0.7 79.8,2.3 81.9,0.9 84.1,0.4 99.1,-0.2 109.0,0.7 110.3,1.1 112.8,2.7 115.0,1.8 116.3,1.7 118.4,3.0 121.0,1.0 123.6,0.7 124.8,1.2 126.6,4.2 127.4,2.7 128.3,2.0 129.1,2.4 129.6,3.1 130.4,7.5 131.3,16.0 132.1,6.3 132.6,4.0 133.4,2.3 134.3,1.9 135.1,1.9 136.0,2.4 136.9,3.7 137.7,7.0 138.6,17.4 139.4,35.3 140.7,12.4 141.1,10.8 141.6,12.1 142.4,26.8 142.9,27.6 143.7,10.0 144.6,4.5 145.9,2.3 147.1,1.5 148.9,1.3 150.2,1.9 151.0,3.1 151.9,7.1 152.7,21.8 153.2,24.8 154.0,8.7 154.9,3.6 155.7,2.0 157.4,1.2 159.2,1.5 160.4,2.8 161.7,5.6 162.2,6.0 163.9,3.1 164.7,2.7 165.6,3.2 166.9,5.3 167.3,5.4 169.5,2.0 171.6,0.9 171.6,69.0 0,69.0" fill="#fff" stroke="url(#zg)" stroke-width="0.5" stroke-dasharray="361.36 3000"/><line x1="171.6" y1="1.2" x2="171.6" y2="69.5" stroke="#b4dcf0" stroke-width="0.95"/></g>
<g transform="translate(290.17,398.85)"><polygon points="0.0,0.2 5.1,0.7 7.3,1.4 8.6,2.6 10.7,6.9 11.2,7.2 13.3,3.2 14.6,1.9 16.7,1.1 21.4,0.6 26.6,0.7 33.9,1.8 38.6,0.9 41.2,1.0 42.0,1.4 42.9,2.8 43.8,7.2 45.0,2.6 45.5,2.1 45.9,2.1 47.2,3.6 48.0,2.9 49.3,5.5 50.2,2.4 50.6,1.6 51.5,1.0 60.1,0.0 74.2,0.0 77.2,0.7 79.8,2.3 81.9,0.9 84.5,0.3 99.5,-0.2 109.0,0.8 110.3,1.2 112.8,2.8 115.0,1.8 116.3,1.7 118.4,3.0 121.0,1.0 123.6,0.6 124.8,1.2 126.6,4.2 127.4,2.7 128.3,2.0 129.1,2.4 129.6,3.1 130.4,7.6 131.3,16.2 132.1,6.4 132.6,4.1 133.4,2.3 134.3,1.9 135.1,2.0 136.0,2.5 136.9,3.8 137.7,7.1 138.6,17.6 139.4,35.7 140.7,12.5 141.1,10.9 141.6,12.2 142.4,27.1 142.9,27.9 143.7,10.1 144.6,4.6 145.9,2.3 147.1,1.5 148.9,1.3 150.2,1.9 151.0,3.1 151.9,7.2 152.7,22.0 153.2,25.0 154.0,8.8 154.9,3.6 155.7,2.1 157.4,1.3 159.2,1.5 160.4,2.8 161.7,5.7 162.2,6.1 163.9,3.2 164.7,2.8 165.6,3.3 166.9,5.4 167.3,5.5 169.5,2.0 171.6,0.9 171.6,69.0 0,69.0" fill="#fff" stroke="url(#zg)" stroke-width="0.5" stroke-dasharray="363.64 3000"/><line x1="171.6" y1="1.2" x2="171.6" y2="69.5" stroke="#b4dcf0" stroke-width="0.95"/></g>
<g transform="translate(288.80,400.60)"><polygon points="0.0,0.2 5.1,0.7 7.3,1.4 8.6,2.7 10.7,7.0 11.2,7.3 13.3,3.3 14.6,1.9 16.7,1.1 21.9,0.6 27.0,0.7 33.9,1.8 38.6,0.9 41.2,1.0 42.0,1.4 42.9,2.9 43.8,7.3 45.0,2.7 45.5,2.2 45.9,2.2 47.2,3.7 48.0,2.9 49.3,5.6 50.2,2.5 50.6,1.6 51.5,1.0 60.5,-0.0 74.6,0.1 77.2,0.7 79.8,2.3 81.9,1.0 84.9,0.3 99.5,-0.2 109.4,0.9 112.8,2.8 115.0,1.7 116.3,1.7 118.4,3.0 121.0,1.0 123.6,0.6 124.8,1.2 126.6,4.3 127.4,2.7 128.3,2.0 129.1,2.4 129.6,3.1 130.4,7.7 131.3,16.4 132.1,6.5 132.6,4.1 133.4,2.4 134.3,2.0 135.1,2.0 136.0,2.5 136.9,3.8 137.7,7.2 138.6,17.8 139.4,36.0 140.7,12.6 141.1,11.0 141.6,12.3 142.4,27.3 142.9,28.1 143.7,10.1 144.6,4.6 145.9,2.3 147.1,1.5 148.9,1.3 150.2,1.8 151.0,3.1 151.9,7.2 152.7,22.2 153.2,25.2 154.0,8.8 154.9,3.6 155.7,2.1 157.4,1.3 159.2,1.6 160.4,2.9 161.7,5.8 162.2,6.2 163.9,3.2 164.7,2.8 165.6,3.3 166.9,5.5 167.3,5.6 169.5,2.1 171.6,0.9 171.6,69.0 0,69.0" fill="#fff" stroke="url(#zg)" stroke-width="0.5" stroke-dasharray="366.02 3000"/><line x1="171.6" y1="1.2" x2="171.6" y2="69.5" stroke="#b4dcf0" stroke-width="0.95"/><line x1="0.4" y1="0.2" x2="0.4" y2="69.0" stroke="#a8e0f0" stroke-width="0.7"/></g>
<line x1="460.40" y1="400.60" x2="516.40" y2="328.80" stroke="#3c5ae6" stroke-width="1.1"/>
<polyline points="285.60,469.6 285.60,388.2 343.00,316.40 521.80,316.40 521.80,397.80" fill="none" stroke="#1a1a1a" stroke-width="0.9"/>
<polyline points="285.60,469.6 464.40,469.6 521.80,397.80" fill="none" stroke="#1a1a1a" stroke-width="1.0"/>
<line x1="288.80" y1="469.6" x2="288.80" y2="471.20000000000005" stroke="#1a1a1a" stroke-width="0.6"/>
<line x1="294.78" y1="469.6" x2="294.78" y2="470.5" stroke="#1a1a1a" stroke-width="0.6"/>
<line x1="300.75" y1="469.6" x2="300.75" y2="471.20000000000005" stroke="#1a1a1a" stroke-width="0.6"/>
<line x1="306.73" y1="469.6" x2="306.73" y2="470.5" stroke="#1a1a1a" stroke-width="0.6"/>
<line x1="312.70" y1="469.6" x2="312.70" y2="471.20000000000005" stroke="#1a1a1a" stroke-width="0.6"/>
<line x1="318.68" y1="469.6" x2="318.68" y2="470.5" stroke="#1a1a1a" stroke-width="0.6"/>
<line x1="324.65" y1="469.6" x2="324.65" y2="471.20000000000005" stroke="#1a1a1a" stroke-width="0.6"/>
<line x1="330.62" y1="469.6" x2="330.62" y2="470.5" stroke="#1a1a1a" stroke-width="0.6"/>
<line x1="336.60" y1="469.6" x2="336.60" y2="471.20000000000005" stroke="#1a1a1a" stroke-width="0.6"/>
<line x1="342.57" y1="469.6" x2="342.57" y2="470.5" stroke="#1a1a1a" stroke-width="0.6"/>
<line x1="348.55" y1="469.6" x2="348.55" y2="471.20000000000005" stroke="#1a1a1a" stroke-width="0.6"/>
<line x1="354.52" y1="469.6" x2="354.52" y2="470.5" stroke="#1a1a1a" stroke-width="0.6"/>
<line x1="360.50" y1="469.6" x2="360.50" y2="471.20000000000005" stroke="#1a1a1a" stroke-width="0.6"/>
<line x1="366.48" y1="469.6" x2="366.48" y2="470.5" stroke="#1a1a1a" stroke-width="0.6"/>
<line x1="372.45" y1="469.6" x2="372.45" y2="471.20000000000005" stroke="#1a1a1a" stroke-width="0.6"/>
<line x1="378.43" y1="469.6" x2="378.43" y2="470.5" stroke="#1a1a1a" stroke-width="0.6"/>
<line x1="384.40" y1="469.6" x2="384.40" y2="471.20000000000005" stroke="#1a1a1a" stroke-width="0.6"/>
<line x1="390.38" y1="469.6" x2="390.38" y2="470.5" stroke="#1a1a1a" stroke-width="0.6"/>
<line x1="396.35" y1="469.6" x2="396.35" y2="471.20000000000005" stroke="#1a1a1a" stroke-width="0.6"/>
<line x1="402.32" y1="469.6" x2="402.32" y2="470.5" stroke="#1a1a1a" stroke-width="0.6"/>
<line x1="408.30" y1="469.6" x2="408.30" y2="471.20000000000005" stroke="#1a1a1a" stroke-width="0.6"/>
<line x1="414.27" y1="469.6" x2="414.27" y2="470.5" stroke="#1a1a1a" stroke-width="0.6"/>
<line x1="420.25" y1="469.6" x2="420.25" y2="471.20000000000005" stroke="#1a1a1a" stroke-width="0.6"/>
<line x1="426.23" y1="469.6" x2="426.23" y2="470.5" stroke="#1a1a1a" stroke-width="0.6"/>
<line x1="432.20" y1="469.6" x2="432.20" y2="471.20000000000005" stroke="#1a1a1a" stroke-width="0.6"/>
<line x1="438.18" y1="469.6" x2="438.18" y2="470.5" stroke="#1a1a1a" stroke-width="0.6"/>
<line x1="444.15" y1="469.6" x2="444.15" y2="471.20000000000005" stroke="#1a1a1a" stroke-width="0.6"/>
<line x1="450.12" y1="469.6" x2="450.12" y2="470.5" stroke="#1a1a1a" stroke-width="0.6"/>
<line x1="456.10" y1="469.6" x2="456.10" y2="471.20000000000005" stroke="#1a1a1a" stroke-width="0.6"/>
<text transform="translate(283.80,483.0) rotate(-30)" font-size="6.4" fill="#111" text-anchor="middle">4000</text>
<text transform="translate(295.75,483.0) rotate(-30)" font-size="6.4" fill="#111" text-anchor="middle">3750</text>
<text transform="translate(307.70,483.0) rotate(-30)" font-size="6.4" fill="#111" text-anchor="middle">3500</text>
<text transform="translate(319.65,483.0) rotate(-30)" font-size="6.4" fill="#111" text-anchor="middle">3250</text>
<text transform="translate(331.60,483.0) rotate(-30)" font-size="6.4" fill="#111" text-anchor="middle">3000</text>
<text transform="translate(343.55,483.0) rotate(-30)" font-size="6.4" fill="#111" text-anchor="middle">2750</text>
<text transform="translate(355.50,483.0) rotate(-30)" font-size="6.4" fill="#111" text-anchor="middle">2500</text>
<text transform="translate(367.45,483.0) rotate(-30)" font-size="6.4" fill="#111" text-anchor="middle">2250</text>
<text transform="translate(379.40,483.0) rotate(-30)" font-size="6.4" fill="#111" text-anchor="middle">2000</text>
<text transform="translate(391.35,483.0) rotate(-30)" font-size="6.4" fill="#111" text-anchor="middle">1750</text>
<text transform="translate(403.30,483.0) rotate(-30)" font-size="6.4" fill="#111" text-anchor="middle">1500</text>
<text transform="translate(415.25,483.0) rotate(-30)" font-size="6.4" fill="#111" text-anchor="middle">1250</text>
<text transform="translate(427.20,483.0) rotate(-30)" font-size="6.4" fill="#111" text-anchor="middle">1000</text>
<text transform="translate(439.15,483.0) rotate(-30)" font-size="6.4" fill="#111" text-anchor="middle">750</text>
<text transform="translate(451.10,483.0) rotate(-30)" font-size="6.4" fill="#111" text-anchor="middle">500</text>
<text transform="translate(352.60,309.0) rotate(-30)" font-size="6.1" fill="#111" text-anchor="middle">4000</text>
<text transform="translate(364.52,309.0) rotate(-30)" font-size="6.1" fill="#111" text-anchor="middle">3750</text>
<text transform="translate(376.44,309.0) rotate(-30)" font-size="6.1" fill="#111" text-anchor="middle">3500</text>
<text transform="translate(388.36,309.0) rotate(-30)" font-size="6.1" fill="#111" text-anchor="middle">3250</text>
<text transform="translate(400.28,309.0) rotate(-30)" font-size="6.1" fill="#111" text-anchor="middle">3000</text>
<text transform="translate(412.20,309.0) rotate(-30)" font-size="6.1" fill="#111" text-anchor="middle">2750</text>
<text transform="translate(424.12,309.0) rotate(-30)" font-size="6.1" fill="#111" text-anchor="middle">2500</text>
<text transform="translate(436.04,309.0) rotate(-30)" font-size="6.1" fill="#111" text-anchor="middle">2250</text>
<text transform="translate(447.96,309.0) rotate(-30)" font-size="6.1" fill="#111" text-anchor="middle">2000</text>
<text transform="translate(459.88,309.0) rotate(-30)" font-size="6.1" fill="#111" text-anchor="middle">1750</text>
<text transform="translate(471.80,309.0) rotate(-30)" font-size="6.1" fill="#111" text-anchor="middle">1500</text>
<text transform="translate(483.72,309.0) rotate(-30)" font-size="6.1" fill="#111" text-anchor="middle">1250</text>
<text transform="translate(495.64,309.0) rotate(-30)" font-size="6.1" fill="#111" text-anchor="middle">1000</text>
<text transform="translate(507.56,309.0) rotate(-30)" font-size="6.1" fill="#111" text-anchor="middle">750</text>
<text transform="translate(519.48,309.0) rotate(-30)" font-size="6.1" fill="#111" text-anchor="middle">500</text>
<line x1="521.80" y1="397.80" x2="523.40" y2="398.40" stroke="#1a1a1a" stroke-width="0.6"/>
<text transform="translate(531.50,399.50) rotate(-12) skewX(-40) scale(1.15,0.8)" font-size="5.4" font-weight="bold" fill="#222" text-anchor="middle">50</text>
<line x1="517.70" y1="402.93" x2="519.30" y2="403.53" stroke="#1a1a1a" stroke-width="0.6"/>
<text transform="translate(527.61,404.63) rotate(-12) skewX(-40) scale(1.15,0.8)" font-size="5.4" font-weight="bold" fill="#222" text-anchor="middle">100</text>
<line x1="513.60" y1="408.06" x2="515.20" y2="408.66" stroke="#1a1a1a" stroke-width="0.6"/>
<text transform="translate(523.73,409.76) rotate(-12) skewX(-40) scale(1.15,0.8)" font-size="5.4" font-weight="bold" fill="#222" text-anchor="middle">150</text>
<line x1="509.50" y1="413.19" x2="511.10" y2="413.79" stroke="#1a1a1a" stroke-width="0.6"/>
<text transform="translate(519.84,414.89) rotate(-12) skewX(-40) scale(1.15,0.8)" font-size="5.4" font-weight="bold" fill="#222" text-anchor="middle">200</text>
<line x1="505.40" y1="418.31" x2="507.00" y2="418.91" stroke="#1a1a1a" stroke-width="0.6"/>
<text transform="translate(515.96,420.01) rotate(-12) skewX(-40) scale(1.15,0.8)" font-size="5.4" font-weight="bold" fill="#222" text-anchor="middle">250</text>
<line x1="501.30" y1="423.44" x2="502.90" y2="424.04" stroke="#1a1a1a" stroke-width="0.6"/>
<text transform="translate(512.07,425.14) rotate(-12) skewX(-40) scale(1.15,0.8)" font-size="5.4" font-weight="bold" fill="#222" text-anchor="middle">300</text>
<line x1="497.20" y1="428.57" x2="498.80" y2="429.17" stroke="#1a1a1a" stroke-width="0.6"/>
<text transform="translate(508.19,430.27) rotate(-12) skewX(-40) scale(1.15,0.8)" font-size="5.4" font-weight="bold" fill="#222" text-anchor="middle">350</text>
<line x1="493.10" y1="433.70" x2="494.70" y2="434.30" stroke="#1a1a1a" stroke-width="0.6"/>
<text transform="translate(504.30,435.40) rotate(-12) skewX(-40) scale(1.15,0.8)" font-size="5.4" font-weight="bold" fill="#222" text-anchor="middle">400</text>
<line x1="489.00" y1="438.83" x2="490.60" y2="439.43" stroke="#1a1a1a" stroke-width="0.6"/>
<text transform="translate(500.41,440.53) rotate(-12) skewX(-40) scale(1.15,0.8)" font-size="5.4" font-weight="bold" fill="#222" text-anchor="middle">450</text>
<line x1="484.90" y1="443.96" x2="486.50" y2="444.56" stroke="#1a1a1a" stroke-width="0.6"/>
<text transform="translate(496.53,445.66) rotate(-12) skewX(-40) scale(1.15,0.8)" font-size="5.4" font-weight="bold" fill="#222" text-anchor="middle">500</text>
<line x1="480.80" y1="449.09" x2="482.40" y2="449.69" stroke="#1a1a1a" stroke-width="0.6"/>
<text transform="translate(492.64,450.79) rotate(-12) skewX(-40) scale(1.15,0.8)" font-size="5.4" font-weight="bold" fill="#222" text-anchor="middle">550</text>
<line x1="476.70" y1="454.21" x2="478.30" y2="454.81" stroke="#1a1a1a" stroke-width="0.6"/>
<text transform="translate(488.76,455.91) rotate(-12) skewX(-40) scale(1.15,0.8)" font-size="5.4" font-weight="bold" fill="#222" text-anchor="middle">600</text>
<line x1="472.60" y1="459.34" x2="474.20" y2="459.94" stroke="#1a1a1a" stroke-width="0.6"/>
<text transform="translate(484.87,461.04) rotate(-12) skewX(-40) scale(1.15,0.8)" font-size="5.4" font-weight="bold" fill="#222" text-anchor="middle">650</text>
<line x1="468.50" y1="464.47" x2="470.10" y2="465.07" stroke="#1a1a1a" stroke-width="0.6"/>
<text transform="translate(480.99,466.17) rotate(-12) skewX(-40) scale(1.15,0.8)" font-size="5.4" font-weight="bold" fill="#222" text-anchor="middle">700</text>
<line x1="464.40" y1="469.60" x2="466.00" y2="470.20" stroke="#1a1a1a" stroke-width="0.6"/>
<text transform="translate(477.10,471.30) rotate(-12) skewX(-40) scale(1.15,0.8)" font-size="5.4" font-weight="bold" fill="#222" text-anchor="middle">750</text>
<text transform="translate(514.70,441.00) rotate(-49)" font-size="6.5" font-weight="bold" fill="#111" stroke="#111" stroke-width="0.2" text-anchor="middle">Temperature (°C)</text>
<line x1="521.80" y1="317.60" x2="522.90" y2="317.60" stroke="#1a1a1a" stroke-width="0.5"/>
<line x1="521.80" y1="319.96" x2="522.90" y2="319.96" stroke="#1a1a1a" stroke-width="0.5"/>
<line x1="521.80" y1="322.32" x2="522.90" y2="322.32" stroke="#1a1a1a" stroke-width="0.5"/>
<line x1="521.80" y1="324.68" x2="522.90" y2="324.68" stroke="#1a1a1a" stroke-width="0.5"/>
<line x1="521.80" y1="327.04" x2="522.90" y2="327.04" stroke="#1a1a1a" stroke-width="0.5"/>
<line x1="521.80" y1="329.40" x2="522.90" y2="329.40" stroke="#1a1a1a" stroke-width="0.5"/>
<line x1="521.80" y1="331.76" x2="522.90" y2="331.76" stroke="#1a1a1a" stroke-width="0.5"/>
<line x1="521.80" y1="334.12" x2="522.90" y2="334.12" stroke="#1a1a1a" stroke-width="0.5"/>
<line x1="521.80" y1="336.48" x2="522.90" y2="336.48" stroke="#1a1a1a" stroke-width="0.5"/>
<line x1="521.80" y1="338.84" x2="522.90" y2="338.84" stroke="#1a1a1a" stroke-width="0.5"/>
<line x1="521.80" y1="341.20" x2="522.90" y2="341.20" stroke="#1a1a1a" stroke-width="0.5"/>
<line x1="521.80" y1="343.56" x2="522.90" y2="343.56" stroke="#1a1a1a" stroke-width="0.5"/>
<line x1="521.80" y1="345.92" x2="522.90" y2="345.92" stroke="#1a1a1a" stroke-width="0.5"/>
<line x1="521.80" y1="348.28" x2="522.90" y2="348.28" stroke="#1a1a1a" stroke-width="0.5"/>
<line x1="521.80" y1="350.64" x2="522.90" y2="350.64" stroke="#1a1a1a" stroke-width="0.5"/>
<line x1="521.80" y1="353.00" x2="522.90" y2="353.00" stroke="#1a1a1a" stroke-width="0.5"/>
<line x1="521.80" y1="355.36" x2="522.90" y2="355.36" stroke="#1a1a1a" stroke-width="0.5"/>
<line x1="521.80" y1="357.72" x2="522.90" y2="357.72" stroke="#1a1a1a" stroke-width="0.5"/>
<line x1="521.80" y1="360.08" x2="522.90" y2="360.08" stroke="#1a1a1a" stroke-width="0.5"/>
<line x1="521.80" y1="362.44" x2="522.90" y2="362.44" stroke="#1a1a1a" stroke-width="0.5"/>
<line x1="521.80" y1="364.80" x2="522.90" y2="364.80" stroke="#1a1a1a" stroke-width="0.5"/>
<line x1="521.80" y1="367.16" x2="522.90" y2="367.16" stroke="#1a1a1a" stroke-width="0.5"/>
<line x1="521.80" y1="369.52" x2="522.90" y2="369.52" stroke="#1a1a1a" stroke-width="0.5"/>
<line x1="521.80" y1="371.88" x2="522.90" y2="371.88" stroke="#1a1a1a" stroke-width="0.5"/>
<line x1="521.80" y1="374.24" x2="522.90" y2="374.24" stroke="#1a1a1a" stroke-width="0.5"/>
<line x1="521.80" y1="376.60" x2="522.90" y2="376.60" stroke="#1a1a1a" stroke-width="0.5"/>
<line x1="521.80" y1="378.96" x2="522.90" y2="378.96" stroke="#1a1a1a" stroke-width="0.5"/>
<line x1="521.80" y1="381.32" x2="522.90" y2="381.32" stroke="#1a1a1a" stroke-width="0.5"/>
<line x1="521.80" y1="383.68" x2="522.90" y2="383.68" stroke="#1a1a1a" stroke-width="0.5"/>
<line x1="521.80" y1="386.04" x2="522.90" y2="386.04" stroke="#1a1a1a" stroke-width="0.5"/>
<line x1="521.80" y1="388.40" x2="522.90" y2="388.40" stroke="#1a1a1a" stroke-width="0.5"/>
<line x1="521.80" y1="390.76" x2="522.90" y2="390.76" stroke="#1a1a1a" stroke-width="0.5"/>
<line x1="521.80" y1="393.12" x2="522.90" y2="393.12" stroke="#1a1a1a" stroke-width="0.5"/>
<line x1="521.80" y1="395.48" x2="522.90" y2="395.48" stroke="#1a1a1a" stroke-width="0.5"/>
<line x1="521.80" y1="329.50" x2="523.80" y2="329.50" stroke="#1a1a1a" stroke-width="0.7"/>
<line x1="521.80" y1="346.00" x2="523.80" y2="346.00" stroke="#1a1a1a" stroke-width="0.7"/>
<line x1="521.80" y1="362.50" x2="523.80" y2="362.50" stroke="#1a1a1a" stroke-width="0.7"/>
<line x1="521.80" y1="379.00" x2="523.80" y2="379.00" stroke="#1a1a1a" stroke-width="0.7"/>
<line x1="521.80" y1="395.50" x2="523.80" y2="395.50" stroke="#1a1a1a" stroke-width="0.7"/>
<text transform="translate(533.20,356.20) rotate(-90)" x="0" y="2.30" font-size="6.4" font-weight="bold" fill="#111" stroke="#111" stroke-width="0.3" text-anchor="middle">Transmittance (%)</text>
<text x="383.30" y="495.80" font-size="6.6" font-weight="bold" fill="#111" stroke="#111" stroke-width="0.2" text-anchor="middle">Wavenumbers (cm<tspan font-size="4.2" dy="-2.5">-1</tspan><tspan dy="2.5">)</tspan></text>
<text x="11.0" y="327.6" font-family="Liberation Serif, serif" font-weight="bold" font-size="22" fill="#111" stroke="#111" stroke-width="0.45">(e)</text>
<text x="286.0" y="327.6" font-family="Liberation Serif, serif" font-weight="bold" font-size="22" fill="#111" stroke="#111" stroke-width="0.45">(f)</text>
<text x="16.30" y="422.70" font-size="7.5" font-weight="bold" fill="#111" stroke="#111" stroke-width="0.25">-OH</text>
<line x1="26.70" y1="404.00" x2="25.18" y2="410.06" stroke="#ee2020" stroke-width="1.2"/><polygon points="24.20,414.00 23.50,409.64 26.87,410.48" fill="#ee2020"/>
<text x="36.90" y="419.40" font-size="7.5" font-weight="bold" fill="#111" stroke="#111" stroke-width="0.25">-C=C</text>
<line x1="58.00" y1="405.30" x2="52.85" y2="409.16" stroke="#ee2020" stroke-width="1.2"/><polygon points="49.60,411.60 51.80,407.77 53.89,410.56" fill="#ee2020"/>
<text x="40.70" y="437.00" font-size="7.5" font-weight="bold" fill="#111" stroke="#111" stroke-width="0.25">-CH<tspan font-size="4.65" dy="2.25">2</tspan></text>
<line x1="62.30" y1="421.80" x2="55.63" y2="426.03" stroke="#ee2020" stroke-width="1.2"/><polygon points="52.20,428.20 54.70,424.56 56.56,427.50" fill="#ee2020"/>
<text x="63.60" y="431.10" font-size="7.5" font-weight="bold" fill="#111" stroke="#111" stroke-width="0.25">-CH<tspan font-size="4.65" dy="2.25">3</tspan></text>
<line x1="64.90" y1="412.90" x2="68.35" y2="420.69" stroke="#ee2020" stroke-width="1.2"/><polygon points="70.00,424.40 66.76,421.39 69.94,419.98" fill="#ee2020"/>
<text x="78.90" y="417.60" font-size="7.5" font-weight="bold" fill="#111" stroke="#111" stroke-width="0.25">CO<tspan font-size="4.65" dy="2.25">2</tspan></text>
<line x1="95.40" y1="402.70" x2="91.60" y2="407.28" stroke="#ee2020" stroke-width="1.2"/><polygon points="89.00,410.40 90.26,406.17 92.93,408.39" fill="#ee2020"/>
<text x="98.00" y="411.00" font-size="7.5" font-weight="bold" fill="#111" stroke="#111" stroke-width="0.25">-C=C</text>
<line x1="124.70" y1="404.00" x2="120.86" y2="405.25" stroke="#ee2020" stroke-width="1.2"/><polygon points="117.00,406.50 120.32,403.59 121.40,406.90" fill="#ee2020"/>
<text x="101.80" y="425.30" font-size="7.5" font-weight="bold" fill="#111" stroke="#111" stroke-width="0.25">-Ph</text>
<line x1="133.00" y1="403.60" x2="117.24" y2="415.55" stroke="#ee2020" stroke-width="1.2"/><polygon points="114.00,418.00 116.18,414.16 118.29,416.93" fill="#ee2020"/>
<text x="121.60" y="424.80" font-size="7.5" font-weight="bold" fill="#111" stroke="#111" stroke-width="0.25">-CH<tspan font-size="4.65" dy="2.25">3</tspan></text>
<line x1="142.00" y1="406.00" x2="135.44" y2="414.75" stroke="#ee2020" stroke-width="1.2"/><polygon points="133.00,418.00 134.04,413.71 136.83,415.80" fill="#ee2020"/>
<line x1="144.00" y1="412.00" x2="139.87" y2="416.13" stroke="#ee2020" stroke-width="1.2"/><polygon points="137.00,419.00 138.64,414.90 141.10,417.36" fill="#ee2020"/>
<text x="111.50" y="439.70" font-size="7.5" font-weight="bold" fill="#111" stroke="#111" stroke-width="0.25">-C-O</text>
<line x1="146.00" y1="429.00" x2="133.88" y2="432.79" stroke="#ee2020" stroke-width="1.2"/><polygon points="130.00,434.00 133.36,431.13 134.39,434.45" fill="#ee2020"/>
<text x="117.00" y="461.10" font-size="7.5" font-weight="bold" fill="#111" stroke="#111" stroke-width="0.25">Si-O-Si</text>
<line x1="155.00" y1="432.00" x2="135.87" y2="451.13" stroke="#ee2020" stroke-width="1.2"/><polygon points="133.00,454.00 134.64,449.90 137.10,452.36" fill="#ee2020"/>
<polyline points="159,462 151,460.5" fill="none" stroke="#ee2020" stroke-width="1"/>
<line x1="151.00" y1="460.50" x2="147.97" y2="459.85" stroke="#ee2020" stroke-width="1.2"/><polygon points="144.00,459.00 148.33,458.15 147.61,461.55" fill="#ee2020"/>
<text x="159.60" y="464.60" font-size="7.5" font-weight="bold" fill="#111" stroke="#111" stroke-width="0.25">Si-O-C</text>
<line x1="168.00" y1="435.00" x2="168.00" y2="453.94" stroke="#ee2020" stroke-width="1.2"/><polygon points="168.00,458.00 166.26,453.94 169.74,453.94" fill="#ee2020"/>
<text x="170.00" y="424.60" font-size="7.5" font-weight="bold" fill="#111" stroke="#111" stroke-width="0.25">-Ph</text>
<line x1="177.00" y1="406.00" x2="175.07" y2="413.08" stroke="#ee2020" stroke-width="1.2"/><polygon points="174.00,417.00 173.39,412.63 176.75,413.54" fill="#ee2020"/>
<text x="169.00" y="448.30" font-size="7.5" font-weight="bold" fill="#111" stroke="#111" stroke-width="0.25">-Si-O</text>
<line x1="186.00" y1="410.00" x2="180.75" y2="438.01" stroke="#ee2020" stroke-width="1.2"/><polygon points="180.00,442.00 179.04,437.69 182.46,438.33" fill="#ee2020"/>
<text x="292.90" y="425.40" font-size="7.5" font-weight="bold" fill="#111" stroke="#111" stroke-width="0.25">-OH</text>
<line x1="299.90" y1="404.90" x2="299.90" y2="413.74" stroke="#ee2020" stroke-width="1.2"/><polygon points="299.90,417.80 298.16,413.74 301.64,413.74" fill="#ee2020"/>
<text x="317.80" y="428.80" font-size="7.5" font-weight="bold" fill="#111" stroke="#111" stroke-width="0.25">-C=C</text>
<line x1="332.70" y1="402.90" x2="332.70" y2="415.74" stroke="#ee2020" stroke-width="1.2"/><polygon points="332.70,419.80 330.96,415.74 334.44,415.74" fill="#ee2020"/>
<text x="338.60" y="428.80" font-size="7.5" font-weight="bold" fill="#111" stroke="#111" stroke-width="0.25">-CH<tspan font-size="4.65" dy="2.25">3</tspan></text>
<line x1="338.60" y1="408.80" x2="341.75" y2="417.01" stroke="#ee2020" stroke-width="1.2"/><polygon points="343.20,420.80 340.12,417.63 343.37,416.39" fill="#ee2020"/>
<text x="329.70" y="446.40" font-size="7.5" font-weight="bold" fill="#111" stroke="#111" stroke-width="0.25">-CH<tspan font-size="4.65" dy="2.25">2</tspan></text>
<line x1="336.70" y1="407.80" x2="336.70" y2="433.64" stroke="#ee2020" stroke-width="1.2"/><polygon points="336.70,437.70 334.96,433.64 338.44,433.64" fill="#ee2020"/>
<text x="362.50" y="421.30" font-size="7.5" font-weight="bold" fill="#111" stroke="#111" stroke-width="0.25">CO<tspan font-size="4.65" dy="2.25">2</tspan></text>
<line x1="368.50" y1="401.90" x2="368.50" y2="408.74" stroke="#ee2020" stroke-width="1.2"/><polygon points="368.50,412.80 366.76,408.74 370.24,408.74" fill="#ee2020"/>
<text x="366.50" y="432.30" font-size="7.5" font-weight="bold" fill="#111" stroke="#111" stroke-width="0.25">-C=C</text>
<line x1="397.00" y1="404.00" x2="382.48" y2="422.79" stroke="#ee2020" stroke-width="1.2"/><polygon points="380.00,426.00 381.11,421.72 383.86,423.85" fill="#ee2020"/>
<text x="396.40" y="419.60" font-size="7.5" font-weight="bold" fill="#111" stroke="#111" stroke-width="0.25">-Ph</text>
<line x1="407.30" y1="403.60" x2="405.87" y2="405.73" stroke="#ee2020" stroke-width="1.2"/><polygon points="403.60,409.10 404.42,404.76 407.31,406.70" fill="#ee2020"/>
<text x="397.30" y="431.80" font-size="7.5" font-weight="bold" fill="#111" stroke="#111" stroke-width="0.25">-CH<tspan font-size="4.65" dy="2.25">3</tspan></text>
<line x1="419.00" y1="407.30" x2="411.30" y2="418.46" stroke="#ee2020" stroke-width="1.2"/><polygon points="409.00,421.80 409.87,417.47 412.74,419.45" fill="#ee2020"/>
<text x="410.00" y="444.50" font-size="7.5" font-weight="bold" fill="#111" stroke="#111" stroke-width="0.25">-C-O</text>
<line x1="419.00" y1="404.50" x2="419.00" y2="430.44" stroke="#ee2020" stroke-width="1.2"/><polygon points="419.00,434.50 417.26,430.44 420.74,430.44" fill="#ee2020"/>
<text x="416.90" y="463.20" font-size="7.5" font-weight="bold" fill="#111" stroke="#111" stroke-width="0.25">Si-O-Si</text>
<line x1="428.20" y1="407.30" x2="428.20" y2="450.44" stroke="#ee2020" stroke-width="1.2"/><polygon points="428.20,454.50 426.46,450.44 429.94,450.44" fill="#ee2020"/>
<line x1="431.50" y1="407.30" x2="431.50" y2="450.44" stroke="#ee2020" stroke-width="1.2"/><polygon points="431.50,454.50 429.76,450.44 433.24,450.44" fill="#ee2020"/>
<text x="433.60" y="444.00" font-size="7.5" font-weight="bold" fill="#111" stroke="#111" stroke-width="0.25">Si-O-C</text>
<line x1="441.30" y1="410.90" x2="441.30" y2="432.34" stroke="#ee2020" stroke-width="1.2"/><polygon points="441.30,436.40 439.56,432.34 443.04,432.34" fill="#ee2020"/>
<text x="444.50" y="420.90" font-size="7.5" font-weight="bold" fill="#111" stroke="#111" stroke-width="0.25">-Ph</text>
<line x1="450.90" y1="402.70" x2="450.90" y2="405.94" stroke="#ee2020" stroke-width="1.2"/><polygon points="450.90,410.00 449.16,405.94 452.64,405.94" fill="#ee2020"/>
<text x="442.70" y="434.20" font-size="7.5" font-weight="bold" fill="#111" stroke="#111" stroke-width="0.25">-Si-O</text>
<line x1="460.00" y1="403.60" x2="457.06" y2="421.49" stroke="#ee2020" stroke-width="1.2"/><polygon points="456.40,425.50 455.34,421.21 458.78,421.78" fill="#ee2020"/>
<polygon points="452.6,358.9 461.5,356.9 427.7,403.6 420.8,403.6" fill="none" stroke="#ee2020" stroke-width="0.8"/>
<polygon points="455.5,365.8 467.5,363.9 435.7,405.6 428.7,405.6" fill="none" stroke="#ee2020" stroke-width="0.8"/>
<line x1="458.90" y1="356.00" x2="458.90" y2="329.06" stroke="#ee2020" stroke-width="1.2"/><polygon points="458.90,325.00 460.64,329.06 457.16,329.06" fill="#ee2020"/>
<line x1="466.50" y1="363.00" x2="485.31" y2="329.54" stroke="#ee2020" stroke-width="1.2"/><polygon points="487.30,326.00 486.83,330.39 483.79,328.69" fill="#ee2020"/>
<text x="449.70" y="323.90" font-size="7.5" font-weight="bold" fill="#111" stroke="#111" stroke-width="0.25">-P=N</text>
<text x="476.80" y="323.90" font-size="7.5" font-weight="bold" fill="#111" stroke="#111" stroke-width="0.25">-P-O-C</text>
</svg>
</body></html>
